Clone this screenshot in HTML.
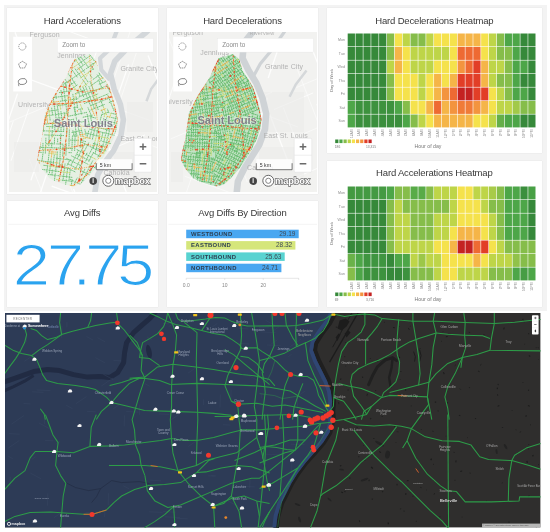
<!DOCTYPE html><html><head><meta charset="utf-8"><title>Dashboard</title><style>
html,body{margin:0;padding:0;}
body{width:550px;height:532px;background:#fff;position:relative;overflow:hidden;font-family:"Liberation Sans", sans-serif;}
#bg{position:absolute;left:3.5px;top:4.5px;width:543px;height:306px;background:#f3f3f3;}
.panel{position:absolute;background:#fff;box-shadow:0 0 1px rgba(0,0,0,0.12);overflow:hidden;}
.title{position:absolute;left:0;right:0;text-align:center;color:#383838;font-size:9.5px;white-space:nowrap;letter-spacing:-0.15px;}
svg{position:absolute;left:0;top:0;display:block;overflow:hidden;}
svg text{font-family:"Liberation Sans", sans-serif;}
</style></head><body><div id="bg"></div>
<div class="panel" style="left:6.5px;top:8px;width:151.5px;height:185.5px"><div class="title" style="top:6.5px;letter-spacing:-0.15px">Hard Accelerations</div><svg style="left:2px;top:23.5px" width="148.5" height="160.2" viewBox="0 0 148.5 160.2"><defs><clipPath id="city0"><polygon points="65.8,26.2 80.2,21.9 86.7,27.4 89.8,38.5 96.0,47.8 100.6,55.5 103.7,64.7 106.7,75.5 108.9,87.8 107.7,97.1 104.3,106.9 99.6,116.5 93.8,126.0 87.6,135.5 79.6,144.8 71.6,152.2 64.2,154.6 55.9,152.5 46.7,149.4 40.5,146.3 32.8,137.1 28.2,127.9 29.7,118.6 32.8,106.3 34.4,94.0 35.9,81.7 40.5,72.4 45.1,63.2 51.3,53.9 57.5,44.7 60.5,37.0 63.6,30.8"/></clipPath></defs><rect width="148.5" height="160.2" fill="#f2f2f0"/><line x1="61.7" y1="85.3" x2="82.4" y2="138.5" stroke="#fff" stroke-width="1.3" opacity="0.85"/><line x1="20.1" y1="126.8" x2="44.7" y2="190.0" stroke="#fff" stroke-width="0.6" opacity="0.85"/><line x1="4.9" y1="41.6" x2="63.5" y2="63.0" stroke="#fff" stroke-width="1.3" opacity="0.85"/><line x1="90.6" y1="91.3" x2="122.4" y2="173.3" stroke="#fff" stroke-width="1.3" opacity="0.85"/><line x1="107.1" y1="100.6" x2="182.2" y2="128.0" stroke="#fff" stroke-width="0.6" opacity="0.85"/><line x1="-0.6" y1="22.4" x2="-21.9" y2="84.8" stroke="#fff" stroke-width="0.9" opacity="0.85"/><line x1="41.7" y1="90.6" x2="21.9" y2="148.4" stroke="#fff" stroke-width="1.3" opacity="0.85"/><line x1="36.6" y1="-9.2" x2="90.6" y2="10.5" stroke="#fff" stroke-width="0.9" opacity="0.85"/><line x1="54.5" y1="83.8" x2="122.5" y2="108.7" stroke="#fff" stroke-width="0.9" opacity="0.85"/><line x1="110.1" y1="77.3" x2="142.3" y2="89.0" stroke="#fff" stroke-width="0.6" opacity="0.85"/><line x1="53.5" y1="134.1" x2="65.8" y2="165.8" stroke="#fff" stroke-width="0.6" opacity="0.85"/><line x1="124.3" y1="-9.9" x2="96.6" y2="71.1" stroke="#fff" stroke-width="0.6" opacity="0.85"/><line x1="64.5" y1="156.9" x2="84.5" y2="208.3" stroke="#fff" stroke-width="1.3" opacity="0.85"/><line x1="89.8" y1="122.5" x2="136.0" y2="102.9" stroke="#fff" stroke-width="0.9" opacity="0.85"/><line x1="42.7" y1="154.1" x2="78.5" y2="167.1" stroke="#fff" stroke-width="1.3" opacity="0.85"/><line x1="6.0" y1="0.2" x2="20.7" y2="38.1" stroke="#fff" stroke-width="1.3" opacity="0.85"/><line x1="19.9" y1="76.6" x2="2.0" y2="128.8" stroke="#fff" stroke-width="0.9" opacity="0.85"/><line x1="8.5" y1="61.6" x2="-1.2" y2="90.0" stroke="#fff" stroke-width="1.3" opacity="0.85"/><line x1="38.2" y1="140.6" x2="24.9" y2="179.6" stroke="#fff" stroke-width="1.3" opacity="0.85"/><line x1="91.7" y1="7.1" x2="77.9" y2="47.6" stroke="#fff" stroke-width="0.9" opacity="0.85"/><line x1="-8.5" y1="93.9" x2="40.5" y2="73.2" stroke="#fff" stroke-width="0.6" opacity="0.85"/><line x1="4.3" y1="89.2" x2="-5.7" y2="118.5" stroke="#fff" stroke-width="0.9" opacity="0.85"/><line x1="48.9" y1="67.1" x2="77.9" y2="141.6" stroke="#fff" stroke-width="0.6" opacity="0.85"/><line x1="127.3" y1="21.1" x2="111.6" y2="67.2" stroke="#fff" stroke-width="0.6" opacity="0.85"/><line x1="119.6" y1="32.5" x2="106.8" y2="69.9" stroke="#fff" stroke-width="1.3" opacity="0.85"/><line x1="139.1" y1="23.5" x2="169.1" y2="100.8" stroke="#fff" stroke-width="1.3" opacity="0.85"/><rect x="118" y="70" width="26" height="30" fill="#ebebe9" opacity="0.6"/><rect x="100" y="120" width="30" height="25" fill="#ebebe9" opacity="0.6"/><rect x="5" y="110" width="25" height="30" fill="#ebebe9" opacity="0.6"/><polyline points="142.1,-4.6 137.5,0.0 120.6,13.9 105.8,29.3 101.5,41.6 105.2,57.0 111.4,72.4 114.4,87.8 112.0,103.2 104.6,118.6 95.3,130.9 88.6,143.2 85.2,164.8" fill="none" stroke="#d3d7da" stroke-width="5.6" stroke-linejoin="round"/><polyline points="108.9,-4.0 100.9,17.0 91.0,26.2 92.3,37.9 100.9,47.8" fill="none" stroke="#d3d7da" stroke-width="4.2" stroke-linejoin="round"/><polyline points="151.4,44.7 142.1,57.0 137.5,69.3" fill="none" stroke="#d5d8da" stroke-width="2.5"/><text x="20.5" y="5.3" font-size="7.0" fill="#b3b3b3" text-anchor="start" font-weight="normal" letter-spacing="0.1">Ferguson</text><text x="48.2" y="25.6" font-size="7.0" fill="#b3b3b3" text-anchor="start" font-weight="normal" letter-spacing="0.1">Jennings</text><text x="111.4" y="39.5" font-size="7.0" fill="#b3b3b3" text-anchor="start" font-weight="normal" letter-spacing="0.1">Granite City</text><text x="9.1" y="74.9" font-size="7.0" fill="#b3b3b3" text-anchor="start" font-weight="normal" letter-spacing="0.1">University City</text><text x="111.4" y="109.4" font-size="7.0" fill="#b3b3b3" text-anchor="start" font-weight="normal" letter-spacing="0.1">East St. Louis</text><text x="94.4" y="142.6" font-size="7.0" fill="#b3b3b3" text-anchor="start" font-weight="normal" letter-spacing="0.1">Cahokia</text><filter id="bl0" x="-5%" y="-5%" width="110%" height="110%"><feGaussianBlur stdDeviation="0.42"/></filter><g clip-path="url(#city0)"><g filter="url(#bl0)"><rect width="148.5" height="160.2" fill="#f6f8f4" opacity="0.7"/><rect width="148.5" height="160.2" fill="#8fcf98" opacity="0.16"/><path d="M57.3 54.1L54.5 50.1M58.7 51.2L55.1 46.1M63.0 52.2L59.9 47.8M67.5 53.7L63.7 48.2M63.6 48.0L61.1 44.5M60.7 43.9L58.3 40.5M68.3 45.3L63.0 37.7M77.7 53.4L73.2 46.9M72.6 46.0L70.6 43.2M70.3 42.8L65.8 36.3M79.2 50.2L74.3 43.2M75.6 40.6L69.7 32.1M83.0 45.7L80.7 42.4M73.8 32.6L68.2 24.5M79.6 35.8L74.8 29.0M74.4 28.4L71.0 23.7M93.8 50.7L88.1 42.6M84.6 37.6L81.6 33.3M76.2 25.5L74.3 22.8M94.1 46.9L89.6 40.4M84.6 33.3L82.9 30.8M85.4 29.0L80.6 22.1M65.1 29.9L68.1 27.7M69.0 27.1L71.9 25.1M68.8 32.4L76.5 27.0M76.7 26.9L84.1 21.7M68.3 37.5L76.2 32.0M55.9 51.6L62.2 47.3M63.0 46.7L66.3 44.4M66.6 44.2L71.6 40.7M71.8 40.5L76.3 37.3M77.2 36.7L83.1 32.6M84.0 31.9L89.7 28.0M60.1 53.9L66.5 49.4M79.3 40.4L84.5 36.8M60.9 58.1L68.8 52.6M83.8 47.6L90.9 42.6M81.6 53.9L90.6 47.6M71.1 64.2L68.9 58.6M83.0 85.3L78.9 75.4M74.8 65.2L72.9 60.4M72.7 59.9L70.4 54.3M81.6 73.8L78.2 65.4M77.8 64.6L73.9 54.9M85.4 76.4L82.3 68.7M82.2 68.5L78.6 59.5M78.2 58.5L76.4 54.1M89.3 77.9L86.5 71.0M86.2 70.0L83.6 63.6M83.2 62.6L79.8 54.2M93.8 80.9L92.3 77.4M85.0 59.3L80.9 49.1M94.2 74.6L91.3 67.3M100.0 81.1L98.3 76.8M93.3 57.1L89.5 47.7M105.2 79.1L101.8 70.8M101.5 69.9L98.6 62.8M101.1 60.5L97.8 52.3M65.9 61.9L72.3 59.3M72.6 59.1L76.4 57.6M89.8 52.2L98.0 48.9M69.7 65.1L79.4 61.2M79.6 61.1L88.7 57.4M89.1 57.3L95.5 54.7M66.9 70.8L75.2 67.4M75.4 67.3L82.5 64.5M83.3 64.2L89.1 61.8M75.1 71.6L83.8 68.1M84.6 67.8L92.7 64.5M93.5 64.2L99.3 61.8M81.7 73.6L88.7 70.8M89.6 70.4L95.5 68.0M96.1 67.8L99.8 66.3M81.6 78.1L87.3 75.8M88.1 75.5L95.8 72.4M99.9 70.7L109.2 67.0M92.7 82.7L100.0 79.8M41.2 88.5L40.8 85.3M45.2 93.9L44.3 87.8M43.6 82.9L42.6 75.4M47.9 91.8L46.6 83.1M46.6 82.6L45.1 72.3M45.1 71.9L44.1 64.7M51.0 93.5L49.6 83.2M49.5 82.4L48.0 71.7M47.3 66.8L46.4 60.5M53.9 93.7L52.7 84.9M52.6 84.4L51.8 78.8M55.9 86.5L55.0 80.0M53.5 68.8L51.9 58.0M58.5 84.3L58.0 80.6M57.9 80.0L57.3 75.9M57.3 75.4L56.6 70.6M56.5 70.2L55.5 62.5M55.4 62.0L54.5 55.4M54.4 54.8L53.9 51.0M57.8 58.8L56.6 50.3M66.6 82.0L65.5 74.0M65.4 73.2L64.3 65.3M64.2 65.0L63.8 61.9M68.7 76.2L67.6 69.1M67.5 67.9L67.0 64.3M50.0 60.6L54.8 59.9M55.2 59.9L62.9 58.8M40.9 66.1L48.6 65.0M48.8 65.0L59.2 63.6M50.8 69.3L58.3 68.2M58.9 68.1L69.3 66.7M49.0 73.6L58.2 72.4M58.9 72.2L65.5 71.3M39.5 79.2L49.4 77.8M64.5 75.6L68.8 75.0M35.7 84.1L45.4 82.8M46.4 82.6L54.2 81.5M55.1 81.4L59.8 80.7M33.8 88.4L38.3 87.8M47.8 86.4L53.3 85.6M34.9 92.4L42.1 91.4M46.2 90.8L52.1 90.0M77.9 105.7L79.8 98.3M80.6 106.6L82.6 98.7M82.8 97.6L83.8 93.8M83.3 107.5L85.3 99.2M85.5 98.7L86.4 95.0M84.3 116.4L85.9 109.9M87.2 104.6L89.8 94.1M90.0 93.4L91.7 86.4M91.8 86.1L92.9 81.9M86.0 121.8L88.6 111.5M93.7 91.1L95.0 85.7M91.8 109.4L94.1 100.2M96.4 91.0L98.0 84.7M92.1 120.5L94.5 110.8M94.8 109.7L96.8 101.7M96.9 101.2L98.2 95.9M96.8 113.3L98.4 107.0M98.6 105.9L101.2 95.6M101.4 94.7L102.9 88.8M105.0 92.8L107.3 83.4M106.0 102.2L107.4 96.5M107.5 96.1L108.4 92.5M102.2 81.2L107.4 82.5M102.2 85.4L109.3 87.1M82.1 84.9L86.8 86.1M95.3 88.2L101.1 89.6M101.4 89.7L111.2 92.2M84.8 89.6L93.5 91.8M93.7 91.9L104.2 94.5M78.8 92.9L89.0 95.4M90.0 95.7L100.2 98.3M80.3 97.1L85.7 98.5M86.7 98.7L90.8 99.8M91.1 99.8L96.7 101.2M97.2 101.3L106.8 103.7M77.1 101.1L86.8 103.5M87.4 103.6L90.7 104.5M93.4 109.5L96.8 110.3M97.7 110.5L102.3 111.7M72.3 108.5L77.0 109.7M83.9 111.4L89.1 112.7M90.0 113.0L96.2 114.5M87.0 116.3L97.2 118.9M31.0 117.1L31.1 112.5M33.8 118.1L34.0 110.6M34.4 99.7L34.6 94.3M36.3 121.6L36.7 112.4M36.7 111.4L36.9 105.4M39.8 114.2L39.9 110.7M39.9 110.5L40.1 103.4M42.6 116.0L42.8 109.9M43.0 105.3L43.3 97.9M43.3 96.7L43.5 90.4M45.4 111.2L45.6 105.0M45.8 98.2L46.1 89.9M48.0 126.7L48.3 119.0M48.6 110.3L48.7 106.1M49.0 99.6L49.3 91.5M50.9 128.9L51.3 118.2M51.3 117.1L51.5 110.4M51.6 109.3L51.9 101.2M51.9 100.0L52.2 92.3M53.7 124.6L53.9 119.4M53.9 118.4L54.1 112.8M54.6 99.9L54.8 95.0M56.9 123.7L57.2 116.8M57.2 116.5L57.4 111.5M57.6 104.4L58.0 94.5M59.9 114.4L60.1 108.4M60.1 107.3L60.4 97.3M62.9 118.9L63.0 115.7M63.0 115.0L63.4 104.2M65.6 119.0L65.9 111.2M65.9 110.7L66.3 99.8M71.3 115.7L71.5 111.3M71.5 111.0L71.7 106.2M37.3 94.5L47.4 94.8M47.8 94.9L55.4 95.1M32.6 98.8L36.7 98.9M37.2 98.9L43.9 99.2M44.1 99.2L54.9 99.5M35.3 102.9L40.7 103.1M41.6 103.2L45.7 103.3M45.9 103.3L55.1 103.6M63.1 103.9L68.8 104.1M59.2 108.0L69.8 108.4M37.1 111.6L46.1 111.9M47.3 111.9L54.3 112.2M29.6 115.3L35.1 115.5M35.5 115.5L42.7 115.8M43.1 115.8L52.1 116.1M53.2 116.2L63.7 116.5M59.5 120.6L62.8 120.7M58.0 133.6L60.8 128.2M62.1 132.9L66.0 125.4M66.4 124.4L69.6 118.1M68.2 126.8L71.4 120.4M71.9 119.5L75.9 111.6M65.8 138.0L68.3 133.2M68.6 132.6L70.0 129.9M75.4 119.2L79.9 110.3M69.4 137.7L73.6 129.5M76.5 123.8L78.1 120.8M65.3 151.5L68.3 145.7M76.6 129.3L80.1 122.5M80.5 121.7L85.1 112.7M72.9 143.1L76.0 137.0M79.7 129.7L84.6 120.1M69.7 156.3L74.3 147.3M74.4 147.1L75.9 144.0M76.3 143.4L79.9 136.2M80.1 135.8L83.8 128.6M80.7 141.1L84.3 134.0M88.8 125.3L90.7 121.6M86.6 135.3L89.0 130.4M71.3 109.5L80.0 114.0M80.6 114.3L88.8 118.4M89.2 118.6L92.2 120.2M84.0 120.7L91.3 124.4M67.7 117.5L76.0 121.8M77.1 122.4L82.4 125.1M68.0 122.4L76.4 126.6M76.7 126.8L80.4 128.7M62.3 123.8L69.1 127.2M69.5 127.4L78.8 132.2M85.0 135.3L88.3 137.0M57.4 126.3L63.0 129.2M63.3 129.3L67.5 131.5M68.2 131.8L70.9 133.2M58.6 131.8L67.0 136.0M71.2 138.2L80.5 142.9M58.3 135.9L66.3 140.0M69.6 146.3L77.4 150.3M60.9 147.1L65.2 149.3M66.2 149.8L73.6 153.6M33.0 128.8L34.4 118.1M37.8 140.5L38.7 133.1M38.8 132.1L39.8 124.3M39.8 124.0L40.5 118.2M40.4 141.3L41.7 130.8M41.7 130.5L42.2 126.2M42.8 143.2L43.5 137.3M44.2 132.2L45.4 122.4M45.3 149.2L46.4 140.9M46.5 139.9L47.2 134.4M47.3 133.6L48.2 125.7M50.2 134.6L50.9 128.7M52.7 134.8L53.1 131.1M53.9 149.1L55.1 139.6M55.1 139.4L56.1 131.4M56.0 157.1L57.3 146.9M57.4 145.7L58.6 136.3M60.0 148.5L60.6 143.8M60.6 143.2L61.3 137.5M61.8 157.8L63.1 147.3M29.3 120.0L32.9 120.5M46.9 126.2L53.2 127.0M53.5 127.0L62.4 128.1M27.5 128.4L30.8 128.8M31.7 128.9L39.3 129.9M39.8 129.9L45.6 130.6M34.4 133.3L38.6 133.8M47.7 134.9L51.5 135.4M51.7 135.4L61.2 136.6M31.0 137.2L38.3 138.1M39.5 138.2L50.0 139.5M38.9 142.4L47.4 143.5M48.5 143.6L51.7 144.0M52.5 144.1L63.3 145.4M52.7 148.1L63.4 149.4M64.9 103.5L63.8 98.2M62.7 92.8L61.5 87.6M68.0 103.7L65.9 93.6M65.7 92.7L64.5 87.1M71.0 103.5L68.8 93.4M68.0 89.5L67.1 85.1M66.9 84.2L65.1 76.0M74.0 104.8L72.5 98.0M77.1 103.7L75.8 97.3M72.6 82.4L71.6 77.6M80.5 93.7L79.2 87.5M79.2 87.2L78.0 81.5M82.9 91.3L81.4 84.1M69.3 77.5L73.8 76.6M59.1 84.3L64.4 83.2M64.8 83.1L74.1 81.1M74.7 81.0L78.1 80.3M59.8 88.3L65.4 87.1M73.8 85.3L83.6 83.2M53.4 94.1L63.7 91.9M64.8 91.7L71.5 90.3M71.7 90.2L77.1 89.1M75.8 93.7L80.8 92.7M62.6 100.5L72.6 98.4" fill="none" stroke="#6fc077" stroke-width="0.95" stroke-dasharray="1.5 0.4"/><path d="M67.7 58.9L63.6 53.1M69.0 31.2L66.3 27.3M63.3 36.2L68.2 32.8M77.1 31.4L83.5 26.9M71.3 46.1L78.6 41.0M73.0 55.2L78.6 51.2M73.7 78.1L71.2 72.0M88.8 68.6L85.4 60.1M97.7 83.1L94.3 74.8M35.7 88.6L35.3 85.5M40.7 84.9L39.4 75.7M51.7 77.6L50.7 70.7M59.8 73.0L58.6 64.5M86.0 109.4L87.1 105.1M88.7 110.8L91.2 101.1M95.1 85.1L96.2 80.9M100.7 86.0L102.1 80.5M94.6 122.1L96.6 114.0M91.3 104.6L100.2 106.8M40.1 103.1L40.5 93.5M69.9 113.5L73.0 115.1M83.1 125.4L90.1 129.0M79.6 132.6L84.7 135.2M67.4 136.2L70.8 138.0M40.2 121.3L48.5 122.4M39.7 134.0L47.1 134.9M50.2 139.5L61.0 140.8M47.2 147.4L51.7 148.0M72.4 97.6L71.3 92.2M71.9 107.3L77.5 106.1" fill="none" stroke="#c9d86a" stroke-width="0.95" stroke-dasharray="1.5 0.4"/><path d="M74.1 42.9L68.9 35.5M91.0 47.3L95.8 44.0M85.7 83.9L81.8 74.4M91.7 78.6L96.8 76.6M38.6 90.7L37.1 79.9M62.6 74.3L61.3 64.9M39.6 70.9L50.1 69.4M42.5 91.3L45.6 90.9M97.9 84.3L101.4 85.2M73.7 104.6L81.7 106.6M68.9 113.6L69.3 103.7M39.7 119.9L47.7 120.1M70.3 129.3L75.3 119.5M42.3 125.6L43.2 118.7M45.8 130.7L49.9 131.2M60.7 153.3L66.7 154.1M60.7 96.3L59.0 88.7M71.1 103.1L76.0 102.0" fill="none" stroke="#f0b24a" stroke-width="0.95" stroke-dasharray="1.5 0.4"/><polyline points="63.6,30.8 60.5,53.9 59.0,78.6 57.5,103.2 54.4,127.9 49.8,149.4" fill="none" stroke="#ee8f3a" stroke-width="0.95" stroke-dasharray="1.0 1.0" opacity="0.9"/><polyline points="86.7,29.3 71.3,53.9 59.0,78.6 46.7,100.1 34.4,118.6" fill="none" stroke="#e8c04a" stroke-width="0.95" stroke-dasharray="1.0 1.0" opacity="0.9"/><polyline points="35.9,90.9 59.0,92.4 83.6,95.5 107.7,97.1" fill="none" stroke="#f0a03c" stroke-width="0.95" stroke-dasharray="1.0 1.0" opacity="0.9"/><polyline points="40.5,72.4 65.2,70.9 89.8,67.8 103.7,64.7" fill="none" stroke="#ee8f3a" stroke-width="0.95" stroke-dasharray="1.0 1.0" opacity="0.9"/><polyline points="29.7,118.6 52.8,117.1 77.5,112.5 97.5,115.5" fill="none" stroke="#f0a03c" stroke-width="0.95" stroke-dasharray="1.0 1.0" opacity="0.9"/><polyline points="80.6,23.8 82.1,47.8 86.7,75.5 89.8,100.1 91.3,124.8" fill="none" stroke="#f0a03c" stroke-width="0.95" stroke-dasharray="1.0 1.0" opacity="0.9"/><polyline points="65.8,27.8 51.3,53.9 40.5,72.4 34.4,94.0 28.2,127.9" fill="none" stroke="#ee8f3a" stroke-width="0.95" stroke-dasharray="1.0 1.0" opacity="0.9"/><polyline points="86.7,29.3 100.6,55.5 108.9,87.8 97.5,115.5 77.5,143.2 63.6,154.0" fill="none" stroke="#e8c04a" stroke-width="0.95" stroke-dasharray="1.0 1.0" opacity="0.9"/><polyline points="28.2,127.9 46.7,134.0 68.2,137.1 85.2,134.0" fill="none" stroke="#f0a03c" stroke-width="0.95" stroke-dasharray="1.0 1.0" opacity="0.9"/><polyline points="51.3,53.9 74.4,60.1 100.6,55.5" fill="none" stroke="#f0a03c" stroke-width="0.95" stroke-dasharray="1.0 1.0" opacity="0.9"/><polyline points="71.3,100.1 74.4,121.7 69.8,150.9" fill="none" stroke="#ee8f3a" stroke-width="0.95" stroke-dasharray="1.0 1.0" opacity="0.9"/><polyline points="63.6,30.8 60.5,53.9 59.0,78.6 57.5,103.2 54.4,127.9 49.8,149.4" fill="none" stroke="#ee6f33" stroke-width="1.0" stroke-dasharray="1.0 3.3" stroke-linecap="round"/><polyline points="40.5,72.4 65.2,70.9 89.8,67.8 103.7,64.7" fill="none" stroke="#ee6f33" stroke-width="1.0" stroke-dasharray="1.0 3.3" stroke-linecap="round"/><polyline points="65.8,27.8 51.3,53.9 40.5,72.4 34.4,94.0 28.2,127.9" fill="none" stroke="#ee6f33" stroke-width="1.0" stroke-dasharray="1.0 3.3" stroke-linecap="round"/><polyline points="86.7,29.3 100.6,55.5 108.9,87.8 97.5,115.5 77.5,143.2 63.6,154.0" fill="none" stroke="#ee6f33" stroke-width="1.0" stroke-dasharray="1.0 3.3" stroke-linecap="round"/><circle cx="55.6" cy="118.2" r="0.9" fill="#e8452c"/><circle cx="60.0" cy="62.0" r="0.65" fill="#e8452c"/><circle cx="51.7" cy="140.5" r="0.65" fill="#e8452c"/><circle cx="56.0" cy="114.8" r="0.65" fill="#e8452c"/><circle cx="59.1" cy="76.9" r="0.65" fill="#e8452c"/><circle cx="60.1" cy="60.6" r="0.8" fill="#e8452c"/><circle cx="56.7" cy="109.6" r="0.65" fill="#f07030"/><circle cx="49.9" cy="148.9" r="0.65" fill="#e8452c"/><circle cx="57.4" cy="103.3" r="0.65" fill="#f07030"/><circle cx="60.5" cy="53.9" r="0.9" fill="#e8452c"/><circle cx="61.4" cy="73.8" r="0.9" fill="#e8452c"/><circle cx="40.0" cy="110.2" r="0.8" fill="#f07030"/><circle cx="40.9" cy="108.8" r="0.8" fill="#e8452c"/><circle cx="49.9" cy="94.6" r="0.8" fill="#e8452c"/><circle cx="47.1" cy="99.3" r="0.9" fill="#e8452c"/><circle cx="52.0" cy="90.9" r="0.9" fill="#e8452c"/><circle cx="55.2" cy="85.3" r="0.8" fill="#e8452c"/><circle cx="71.1" cy="54.4" r="0.65" fill="#e8452c"/><circle cx="54.0" cy="87.3" r="0.8" fill="#e8452c"/><circle cx="83.2" cy="34.8" r="0.65" fill="#e8452c"/><circle cx="49.7" cy="91.8" r="0.9" fill="#e8452c"/><circle cx="78.2" cy="94.8" r="0.65" fill="#f07030"/><circle cx="99.5" cy="96.5" r="0.8" fill="#e8452c"/><circle cx="67.5" cy="93.5" r="0.9" fill="#e8452c"/><circle cx="103.0" cy="96.8" r="0.65" fill="#e8452c"/><circle cx="52.9" cy="92.0" r="0.8" fill="#f07030"/><circle cx="83.5" cy="95.5" r="0.65" fill="#e8452c"/><circle cx="59.2" cy="92.5" r="0.9" fill="#e8452c"/><circle cx="84.1" cy="95.5" r="0.8" fill="#e8452c"/><circle cx="41.8" cy="91.3" r="0.65" fill="#e8452c"/><circle cx="82.8" cy="68.7" r="0.9" fill="#f07030"/><circle cx="86.7" cy="68.2" r="0.65" fill="#e8452c"/><circle cx="92.9" cy="67.1" r="0.9" fill="#e8452c"/><circle cx="46.1" cy="72.1" r="0.65" fill="#e8452c"/><circle cx="53.5" cy="71.6" r="0.9" fill="#f07030"/><circle cx="100.7" cy="65.4" r="0.65" fill="#f07030"/><circle cx="80.3" cy="69.0" r="0.65" fill="#e8452c"/><circle cx="101.8" cy="65.1" r="0.8" fill="#e8452c"/><circle cx="44.9" cy="72.1" r="0.8" fill="#e8452c"/><circle cx="63.7" cy="71.0" r="0.8" fill="#e8452c"/><circle cx="47.6" cy="117.4" r="0.8" fill="#e8452c"/><circle cx="54.0" cy="116.9" r="0.65" fill="#f07030"/><circle cx="65.7" cy="114.7" r="0.8" fill="#f07030"/><circle cx="92.4" cy="114.8" r="0.9" fill="#e8452c"/><circle cx="71.0" cy="113.7" r="0.65" fill="#e8452c"/><circle cx="41.4" cy="117.8" r="0.65" fill="#f07030"/><circle cx="30.7" cy="118.5" r="0.8" fill="#f07030"/><circle cx="67.9" cy="114.2" r="0.65" fill="#e8452c"/><circle cx="79.2" cy="112.7" r="0.65" fill="#e8452c"/><circle cx="38.9" cy="118.0" r="0.8" fill="#f07030"/><circle cx="89.8" cy="100.2" r="0.8" fill="#e8452c"/><circle cx="89.7" cy="99.3" r="0.65" fill="#e8452c"/><circle cx="84.3" cy="60.9" r="0.9" fill="#e8452c"/><circle cx="81.6" cy="39.5" r="0.65" fill="#e8452c"/><circle cx="87.4" cy="80.7" r="0.65" fill="#e8452c"/><circle cx="90.9" cy="118.1" r="0.8" fill="#e8452c"/><circle cx="91.0" cy="119.6" r="0.8" fill="#e8452c"/><circle cx="90.2" cy="105.9" r="0.9" fill="#f07030"/><circle cx="87.5" cy="81.8" r="0.65" fill="#f07030"/><circle cx="90.9" cy="117.3" r="0.65" fill="#e8452c"/><circle cx="49.8" cy="56.5" r="0.65" fill="#e8452c"/><circle cx="50.8" cy="54.8" r="0.65" fill="#e8452c"/><circle cx="53.4" cy="50.1" r="0.9" fill="#e8452c"/><circle cx="36.1" cy="87.8" r="0.9" fill="#f07030"/><circle cx="54.0" cy="49.0" r="0.9" fill="#e8452c"/><circle cx="46.7" cy="61.8" r="0.9" fill="#f07030"/><circle cx="35.0" cy="91.6" r="0.9" fill="#e8452c"/><circle cx="42.6" cy="68.8" r="0.8" fill="#f07030"/><circle cx="29.9" cy="118.5" r="0.65" fill="#e8452c"/><circle cx="29.5" cy="120.5" r="0.65" fill="#e8452c"/><circle cx="106.7" cy="79.4" r="0.8" fill="#e8452c"/><circle cx="77.5" cy="143.3" r="0.65" fill="#f07030"/><circle cx="105.9" cy="95.0" r="0.65" fill="#e8452c"/><circle cx="81.0" cy="138.3" r="0.8" fill="#e8452c"/><circle cx="70.6" cy="148.6" r="0.9" fill="#e8452c"/><circle cx="105.9" cy="95.2" r="0.9" fill="#e8452c"/><circle cx="104.3" cy="99.1" r="0.9" fill="#f07030"/><circle cx="82.2" cy="136.7" r="0.8" fill="#e8452c"/><circle cx="97.7" cy="115.0" r="0.8" fill="#e8452c"/><circle cx="101.0" cy="56.9" r="0.9" fill="#e8452c"/><circle cx="44.5" cy="133.3" r="0.9" fill="#f07030"/><circle cx="53.3" cy="135.0" r="0.8" fill="#f07030"/><circle cx="50.0" cy="134.5" r="0.9" fill="#e8452c"/><circle cx="81.1" cy="134.7" r="0.8" fill="#e8452c"/><circle cx="82.3" cy="134.5" r="0.8" fill="#e8452c"/><circle cx="53.8" cy="135.0" r="0.9" fill="#e8452c"/><circle cx="42.7" cy="132.7" r="0.9" fill="#e8452c"/><circle cx="47.9" cy="134.2" r="0.65" fill="#e8452c"/><circle cx="84.2" cy="134.2" r="0.9" fill="#e8452c"/><circle cx="38.5" cy="131.3" r="0.9" fill="#f07030"/><circle cx="56.0" cy="55.2" r="0.9" fill="#e8452c"/><circle cx="52.1" cy="54.2" r="0.8" fill="#f07030"/><circle cx="83.8" cy="58.4" r="0.65" fill="#f07030"/><circle cx="99.0" cy="55.8" r="0.65" fill="#f07030"/><circle cx="62.8" cy="57.0" r="0.9" fill="#e8452c"/><circle cx="73.8" cy="59.9" r="0.8" fill="#e8452c"/><circle cx="90.6" cy="57.2" r="0.65" fill="#f07030"/><circle cx="81.6" cy="58.8" r="0.65" fill="#f07030"/><circle cx="52.8" cy="54.3" r="0.65" fill="#f07030"/><circle cx="68.7" cy="58.6" r="0.8" fill="#e8452c"/><circle cx="72.4" cy="107.5" r="0.9" fill="#e8452c"/><circle cx="72.9" cy="131.2" r="0.65" fill="#f07030"/><circle cx="73.2" cy="113.4" r="0.9" fill="#f07030"/><circle cx="72.0" cy="137.1" r="0.65" fill="#e8452c"/><circle cx="74.1" cy="119.9" r="0.8" fill="#f07030"/><circle cx="73.2" cy="129.5" r="0.9" fill="#e8452c"/><circle cx="74.4" cy="121.5" r="0.65" fill="#e8452c"/><circle cx="70.3" cy="147.5" r="0.9" fill="#e8452c"/><circle cx="71.6" cy="139.6" r="0.65" fill="#e8452c"/><circle cx="72.3" cy="135.1" r="0.65" fill="#e8452c"/><circle cx="40.8" cy="46.1" r="0.7" fill="#e8452c"/><circle cx="30.1" cy="130.9" r="0.7" fill="#f08a38"/><circle cx="16.1" cy="89.3" r="0.7" fill="#e8452c"/><circle cx="67.8" cy="92.2" r="0.7" fill="#e8452c"/><circle cx="132.7" cy="118.8" r="0.7" fill="#e8452c"/><circle cx="36.5" cy="13.3" r="0.7" fill="#f08a38"/><circle cx="26.4" cy="81.4" r="0.7" fill="#f08a38"/><circle cx="147.9" cy="156.8" r="0.7" fill="#e8452c"/><circle cx="72.7" cy="143.0" r="0.7" fill="#e8452c"/><circle cx="99.5" cy="64.6" r="0.7" fill="#f08a38"/><circle cx="119.3" cy="67.7" r="0.7" fill="#e8452c"/><circle cx="11.2" cy="140.1" r="0.7" fill="#e8452c"/><circle cx="32.7" cy="153.8" r="0.7" fill="#f08a38"/><circle cx="143.6" cy="74.6" r="0.7" fill="#e8452c"/><circle cx="20.5" cy="5.4" r="0.7" fill="#f08a38"/><circle cx="127.4" cy="144.9" r="0.7" fill="#f08a38"/><circle cx="54.4" cy="1.1" r="0.7" fill="#e8452c"/><circle cx="18.1" cy="23.8" r="0.7" fill="#f08a38"/><circle cx="94.5" cy="24.9" r="0.7" fill="#f08a38"/><circle cx="12.7" cy="132.3" r="0.7" fill="#e8452c"/><circle cx="46.6" cy="87.9" r="0.7" fill="#e8452c"/><circle cx="51.4" cy="106.1" r="0.7" fill="#e8452c"/><circle cx="119.9" cy="29.4" r="0.7" fill="#e8452c"/><circle cx="87.2" cy="59.0" r="0.7" fill="#f08a38"/><circle cx="5.3" cy="33.9" r="0.7" fill="#f08a38"/><circle cx="69.7" cy="148.8" r="0.7" fill="#e8452c"/><circle cx="9.7" cy="49.0" r="0.7" fill="#e8452c"/><circle cx="134.5" cy="92.3" r="0.7" fill="#e8452c"/><circle cx="9.7" cy="112.2" r="0.7" fill="#f08a38"/><circle cx="114.0" cy="51.3" r="0.7" fill="#f08a38"/><circle cx="69.6" cy="8.5" r="0.7" fill="#f08a38"/><circle cx="17.0" cy="124.2" r="0.7" fill="#f08a38"/><circle cx="130.9" cy="55.6" r="0.7" fill="#e8452c"/><circle cx="51.3" cy="133.0" r="0.7" fill="#f08a38"/><circle cx="68.4" cy="78.9" r="0.7" fill="#f08a38"/><circle cx="27.7" cy="61.3" r="0.7" fill="#e8452c"/><circle cx="27.6" cy="84.2" r="0.7" fill="#f08a38"/><circle cx="59.2" cy="50.0" r="0.7" fill="#f08a38"/><circle cx="26.5" cy="31.0" r="0.7" fill="#f08a38"/><circle cx="103.4" cy="147.5" r="0.7" fill="#f08a38"/><circle cx="38.0" cy="37.3" r="0.7" fill="#e8452c"/><circle cx="60.8" cy="76.4" r="0.7" fill="#e8452c"/><circle cx="53.5" cy="60.8" r="0.7" fill="#e8452c"/><circle cx="97.2" cy="54.2" r="0.7" fill="#e8452c"/><circle cx="51.3" cy="111.0" r="0.7" fill="#e8452c"/></g></g><text x="74.4" y="94.6" font-size="11.2" fill="#7d7888" text-anchor="middle" font-weight="bold" stroke="#fff" stroke-width="1.6" stroke-opacity="0.55" paint-order="stroke" letter-spacing="-0.1" opacity="0.9">Saint Louis</text><rect x="4.2" y="4.7" width="18.8" height="54.8" fill="#fff" opacity="0.95"/><circle cx="13.3" cy="14.5" r="3.6" fill="none" stroke="#666" stroke-width="0.7" stroke-dasharray="1.2 0.9"/><polygon points="13.3,29.3 17.6,31.9 15.6,36.0 11.0,36.0 9.6,31.9" fill="none" stroke="#666" stroke-width="0.7" stroke-dasharray="1.6 0.6"/><ellipse cx="13.6" cy="49.6" rx="4.2" ry="3" fill="none" stroke="#666" stroke-width="0.7" transform="rotate(-12 13.3 50.2)"/><path d="M10.1 51.0 q-1.2 1.6 -0.2 3.2" fill="none" stroke="#666" stroke-width="0.7"/><rect x="48.2" y="6.2" width="96.4" height="13.9" fill="#fff" stroke="#e4e4e4" stroke-width="0.4"/><text x="53.2" y="15.5" font-size="6.3" fill="#8a8a8a">Zoom to</text><rect x="125.2" y="106.3" width="17.6" height="33.9" rx="1.2" fill="#fff" stroke="#ddd" stroke-width="0.5"/><line x1="125.2" x2="142.8" y1="123.2" y2="123.2" stroke="#ddd" stroke-width="0.5"/><path d="M130.7 114.8h6.6M134.0 111.5v6.6M130.7 131.7h6.6" stroke="#6a6a6a" stroke-width="1.5" fill="none"/><rect x="87.3" y="127.2" width="35.7" height="10.5" fill="#fff" fill-opacity="0.85"/><path d="M87.3 131.2V137.7H123.1V131.2" fill="none" stroke="#555" stroke-width="0.8"/><text x="90.8" y="134.7" font-size="5.2" fill="#333">5 km</text><circle cx="84.2" cy="149.1" r="3.8" fill="#444"/><text x="84.2" y="151.3" font-size="6.4" font-weight="bold" fill="#fff" text-anchor="middle">i</text><circle cx="99.3" cy="148.8" r="5.5" fill="#fff" stroke="#666" stroke-width="1"/><circle cx="99.3" cy="148.8" r="2.6" fill="none" stroke="#777" stroke-width="0.9"/><text x="106.1" y="152.0" font-size="9.3" font-weight="bold" fill="#fff" stroke="#6a6a6a" stroke-width="1.4" paint-order="stroke" letter-spacing="-0.15">mapbox</text></svg></div>
<div class="panel" style="left:166.7px;top:8px;width:151.5px;height:185.5px"><div class="title" style="top:6.5px;letter-spacing:-0.15px">Hard Decelerations</div><svg style="left:2px;top:23.5px" width="148.5" height="160.2" viewBox="0 0 148.5 160.2"><defs><clipPath id="city1"><polygon points="49.4,26.2 63.9,21.9 70.4,27.4 73.5,38.5 79.6,47.8 84.2,55.5 87.3,64.7 90.4,75.5 92.6,87.8 91.3,97.1 87.9,106.9 83.3,116.5 77.5,126.0 71.3,135.5 63.3,144.8 55.3,152.2 47.9,154.6 39.6,152.5 30.4,149.4 24.2,146.3 16.5,137.1 11.9,127.9 13.4,118.6 16.5,106.3 18.0,94.0 19.6,81.7 24.2,72.4 28.8,63.2 35.0,53.9 41.1,44.7 44.2,37.0 47.3,30.8"/></clipPath></defs><rect width="148.5" height="160.2" fill="#f2f2f0"/><line x1="65.2" y1="101.9" x2="100.7" y2="86.9" stroke="#fff" stroke-width="0.6" opacity="0.85"/><line x1="148.0" y1="72.1" x2="173.8" y2="138.7" stroke="#fff" stroke-width="1.3" opacity="0.85"/><line x1="26.1" y1="-9.7" x2="-2.6" y2="74.2" stroke="#fff" stroke-width="0.9" opacity="0.85"/><line x1="15.7" y1="144.2" x2="76.4" y2="166.3" stroke="#fff" stroke-width="0.6" opacity="0.85"/><line x1="1.8" y1="106.9" x2="67.1" y2="79.3" stroke="#fff" stroke-width="0.6" opacity="0.85"/><line x1="-7.1" y1="0.3" x2="-18.5" y2="33.9" stroke="#fff" stroke-width="0.9" opacity="0.85"/><line x1="140.1" y1="9.2" x2="172.0" y2="91.4" stroke="#fff" stroke-width="1.3" opacity="0.85"/><line x1="39.5" y1="95.8" x2="10.9" y2="179.6" stroke="#fff" stroke-width="0.6" opacity="0.85"/><line x1="78.0" y1="76.3" x2="128.7" y2="94.9" stroke="#fff" stroke-width="0.9" opacity="0.85"/><line x1="95.9" y1="69.9" x2="118.5" y2="128.1" stroke="#fff" stroke-width="1.3" opacity="0.85"/><line x1="105.1" y1="154.7" x2="152.4" y2="134.7" stroke="#fff" stroke-width="0.9" opacity="0.85"/><line x1="127.3" y1="55.6" x2="161.2" y2="41.3" stroke="#fff" stroke-width="0.6" opacity="0.85"/><line x1="43.1" y1="53.2" x2="32.9" y2="83.2" stroke="#fff" stroke-width="0.9" opacity="0.85"/><line x1="-4.8" y1="-5.6" x2="7.0" y2="24.8" stroke="#fff" stroke-width="0.6" opacity="0.85"/><line x1="112.3" y1="7.5" x2="99.2" y2="46.0" stroke="#fff" stroke-width="1.3" opacity="0.85"/><line x1="33.4" y1="63.8" x2="51.7" y2="111.0" stroke="#fff" stroke-width="1.3" opacity="0.85"/><line x1="105.1" y1="77.5" x2="144.2" y2="60.9" stroke="#fff" stroke-width="0.9" opacity="0.85"/><line x1="62.2" y1="108.6" x2="78.3" y2="150.0" stroke="#fff" stroke-width="0.6" opacity="0.85"/><line x1="63.7" y1="83.4" x2="50.3" y2="122.5" stroke="#fff" stroke-width="1.3" opacity="0.85"/><line x1="24.9" y1="93.3" x2="103.1" y2="60.2" stroke="#fff" stroke-width="0.9" opacity="0.85"/><line x1="18.5" y1="125.3" x2="60.6" y2="140.7" stroke="#fff" stroke-width="0.6" opacity="0.85"/><line x1="145.9" y1="159.9" x2="135.8" y2="189.7" stroke="#fff" stroke-width="0.9" opacity="0.85"/><line x1="129.8" y1="103.8" x2="192.8" y2="77.2" stroke="#fff" stroke-width="0.6" opacity="0.85"/><line x1="114.3" y1="75.5" x2="138.8" y2="138.5" stroke="#fff" stroke-width="0.9" opacity="0.85"/><line x1="98.5" y1="65.7" x2="80.1" y2="119.6" stroke="#fff" stroke-width="1.3" opacity="0.85"/><line x1="128.4" y1="37.4" x2="154.6" y2="104.7" stroke="#fff" stroke-width="0.6" opacity="0.85"/><rect x="95" y="60" width="40" height="40" fill="#ebebe9" opacity="0.6"/><rect x="90" y="115" width="45" height="30" fill="#ebebe9" opacity="0.6"/><rect x="2" y="120" width="12" height="30" fill="#ebebe9" opacity="0.6"/><polyline points="86.7,-4.6 83.6,0.0 75.0,10.8 73.5,26.2 79.6,38.5 87.3,50.9 93.5,66.3 97.2,81.7 96.0,97.1 90.4,112.5 82.7,124.8 75.0,137.1 68.9,149.4 67.3,164.8" fill="none" stroke="#cfd3d6" stroke-width="6.6" stroke-linejoin="round"/><polyline points="118.1,-4.0 102.1,18.8 91.3,31.8 84.2,44.7" fill="none" stroke="#cfd3d6" stroke-width="3.2" stroke-linejoin="round"/><polyline points="137.5,38.5 126.8,52.4 120.6,64.7" fill="none" stroke="#d5d8da" stroke-width="2.5"/><text x="3.6" y="2.8" font-size="7.0" fill="#b3b3b3" text-anchor="start" font-weight="normal" letter-spacing="0.1">Ferguson</text><text x="31.3" y="23.1" font-size="7.0" fill="#b3b3b3" text-anchor="start" font-weight="normal" letter-spacing="0.1">Jennings</text><text x="96.0" y="37.0" font-size="7.0" fill="#b3b3b3" text-anchor="start" font-weight="normal" letter-spacing="0.1">Granite City</text><text x="-7.8" y="72.4" font-size="7.0" fill="#b3b3b3" text-anchor="start" font-weight="normal" letter-spacing="0.1">University City</text><text x="94.4" y="106.3" font-size="7.0" fill="#b3b3b3" text-anchor="start" font-weight="normal" letter-spacing="0.1">East St. Louis</text><text x="78.1" y="137.7" font-size="7.0" fill="#b3b3b3" text-anchor="start" font-weight="normal" letter-spacing="0.1">Cahokia</text><text x="80.6" y="2.8" font-size="5.5" fill="#b3b3b3" text-anchor="start" font-weight="normal" letter-spacing="0.1">Riverview</text><filter id="bl1" x="-5%" y="-5%" width="110%" height="110%"><feGaussianBlur stdDeviation="0.42"/></filter><g clip-path="url(#city1)"><g filter="url(#bl1)"><rect width="148.5" height="160.2" fill="#f6f8f4" opacity="0.7"/><rect width="148.5" height="160.2" fill="#8fcf98" opacity="0.5"/><path d="M45.0 55.9L39.0 47.3M47.1 54.8L43.3 49.5M51.4 56.7L45.1 47.7M53.2 55.3L47.9 47.7M47.7 47.4L44.6 42.9M56.2 55.7L50.6 47.7M50.2 47.1L45.1 39.9M59.3 56.7L54.6 50.0M54.0 49.2L48.5 41.3M62.3 56.3L57.8 49.8M57.5 49.5L54.4 45.0M52.1 41.7L48.6 36.8M63.3 54.2L57.8 46.4M57.3 45.6L55.3 42.8M54.8 42.1L50.6 36.0M65.8 53.3L60.8 46.2M60.3 45.4L58.1 42.4M57.5 41.5L55.2 38.3M54.6 37.4L49.0 29.3M70.0 55.4L64.4 47.4M64.1 47.0L58.8 39.4M58.1 38.5L55.6 34.8M51.4 28.8L48.7 25.1M70.5 52.5L67.5 48.1M67.2 47.8L61.0 38.8M60.8 38.6L55.6 31.2M55.0 30.3L48.9 21.6M72.2 51.1L66.5 42.9M66.3 42.6L63.8 39.0M63.3 38.3L60.7 34.6M57.7 30.3L52.0 22.2M76.9 53.7L70.8 45.0M70.3 44.3L68.4 41.6M68.2 41.3L62.1 32.6M61.6 31.9L57.4 25.9M72.3 43.0L67.2 35.7M66.5 34.8L62.4 28.9M61.8 28.0L57.5 21.9M79.8 49.3L75.4 42.9M74.9 42.2L71.0 36.6M70.5 35.9L68.2 32.6M67.7 31.9L65.7 29.0M73.5 36.6L70.4 32.1M69.9 31.4L67.0 27.3M66.5 26.5L62.4 20.6M71.4 29.4L67.3 23.7M45.4 30.9L52.9 25.7M48.5 32.9L51.8 30.6M52.1 30.4L56.6 27.2M57.2 26.8L63.9 22.1M60.0 28.7L66.7 24.1M39.6 47.6L47.4 42.1M56.8 35.6L59.4 33.7M59.8 33.5L67.1 28.3M40.2 51.0L47.6 45.9M48.5 45.2L55.8 40.1M56.1 39.9L63.8 34.5M64.5 34.0L72.2 28.7M43.8 52.5L52.7 46.3M53.3 45.9L58.5 42.2M59.1 41.8L62.3 39.6M62.6 39.3L67.8 35.7M68.6 35.1L71.1 33.4M43.7 56.6L49.2 52.8M50.1 52.1L58.0 46.6M58.5 46.3L66.7 40.5M67.5 40.0L75.3 34.5M47.1 58.2L54.8 52.8M55.5 52.3L60.0 49.1M60.6 48.8L68.7 43.0M69.6 42.4L75.0 38.6M55.5 56.3L60.9 52.6M70.8 45.7L74.9 42.8M67.8 52.3L72.8 48.8M73.7 48.2L78.3 45.0M54.9 76.3L52.8 71.1M56.5 73.9L54.5 68.8M54.3 68.4L51.6 61.7M61.6 80.2L58.0 71.3M65.5 83.6L62.2 75.3M61.8 74.5L58.6 66.5M58.5 66.2L56.2 60.5M55.9 60.0L54.0 55.1M69.0 87.0L67.0 82.2M67.0 82.0L65.4 78.0M65.0 77.1L62.5 70.9M62.3 70.4L60.2 65.3M60.0 64.8L58.2 60.2M70.3 82.9L69.1 80.0M68.7 79.1L66.3 73.1M66.2 72.9L62.9 64.8M62.6 63.9L58.9 54.7M71.6 81.3L69.3 75.6M69.0 74.7L67.8 71.8M67.7 71.5L64.0 62.3M73.9 80.9L70.3 71.9M70.0 71.1L66.0 61.2M65.8 60.8L62.6 52.8M77.2 83.0L74.7 76.6M74.4 76.0L71.6 69.1M79.0 80.6L76.2 73.5M75.8 72.6L74.6 69.5M74.3 68.9L71.7 62.4M71.4 61.6L70.1 58.5M70.0 58.2L66.7 50.0M81.1 79.7L79.7 76.2M79.5 75.7L77.5 70.7M73.3 60.5L72.2 57.5M71.9 56.8L68.4 48.3M84.3 81.9L81.5 74.9M81.2 74.2L77.5 65.1M77.3 64.7L74.0 56.5M73.8 55.9L72.1 51.8M85.3 77.4L82.6 70.7M82.3 69.9L80.4 65.4M80.1 64.4L78.2 59.7M77.9 59.2L75.8 53.9M88.2 78.4L85.6 72.0M85.3 71.4L83.1 65.9M83.0 65.6L80.9 60.3M80.6 59.6L76.8 50.2M91.5 81.1L88.9 74.6M86.0 67.4L84.1 62.9M83.8 62.1L80.0 52.7M79.8 52.2L77.6 46.6M87.4 65.2L83.6 55.8M83.4 55.3L81.6 50.9M46.1 62.4L56.0 58.4M56.5 58.2L59.9 56.9M60.6 56.6L67.8 53.7M68.3 53.5L76.3 50.2M77.2 49.9L80.3 48.6M57.9 61.7L65.1 58.7M72.6 55.7L80.4 52.6M65.8 61.6L71.9 59.1M53.6 70.2L61.3 67.1M61.6 67.0L71.3 63.1M72.3 62.7L79.8 59.6M80.0 59.5L83.6 58.1M60.5 71.4L70.6 67.4M71.0 67.2L77.4 64.6M80.9 63.2L85.6 61.3M57.8 76.0L63.1 73.9M63.7 73.6L72.3 70.1M72.8 69.9L82.5 66.0M62.2 77.5L71.3 73.7M71.9 73.5L77.3 71.3M78.3 70.9L83.1 69.0M65.7 79.6L71.6 77.3M82.6 72.8L91.4 69.3M68.9 82.1L72.4 80.7M73.0 80.4L77.3 78.7M77.5 78.6L86.4 75.0M73.7 83.6L82.0 80.2M82.4 80.1L92.4 76.1M20.7 85.0L20.2 81.5M24.0 93.2L22.8 84.1M22.7 83.6L21.4 74.8M26.2 91.4L25.3 85.1M25.2 84.7L23.9 75.1M28.9 95.6L27.8 88.0M27.8 87.5L26.7 80.2M26.7 79.7L25.9 73.9M31.1 95.2L29.9 87.0M29.9 86.7L29.1 81.2M28.5 76.6L27.1 66.7M33.1 92.8L32.0 85.0M31.8 84.1L30.9 77.3M30.8 76.8L29.7 68.6M33.9 81.1L33.4 77.3M33.3 76.9L32.9 73.7M31.7 65.5L31.0 60.4M37.9 90.6L36.5 81.1M36.4 80.1L35.0 70.5M34.9 69.4L33.4 58.8M38.9 83.9L38.0 77.8M37.9 77.1L36.8 69.2M36.7 68.4L36.2 64.8M36.1 64.2L35.5 59.5M41.5 85.4L40.7 79.4M40.6 79.1L39.2 69.0M39.1 68.0L37.9 59.7M37.8 58.8L36.3 48.0M43.5 83.7L42.4 75.9M42.3 75.3L41.7 71.0M45.5 81.8L44.0 71.1M43.9 70.3L42.5 60.1M42.5 59.8L42.0 56.6M47.8 78.6L47.3 75.5M47.2 74.5L46.3 68.1M46.2 67.1L45.3 61.1M50.0 81.4L49.2 75.4M49.1 74.8L48.4 70.0M48.3 69.0L47.0 59.8M51.9 75.6L51.4 71.8M51.3 70.9L50.7 66.6M33.4 57.7L36.4 57.3M36.8 57.2L47.6 55.7M31.8 61.1L35.9 60.5M36.4 60.5L41.9 59.7M36.7 63.7L47.6 62.1M24.8 68.7L30.1 67.9M30.8 67.8L39.6 66.6M40.3 66.5L44.2 66.0M44.7 65.9L54.7 64.5M22.6 72.6L30.7 71.5M36.6 70.6L42.2 69.9M43.3 69.7L50.5 68.7M25.5 75.6L33.6 74.5M34.8 74.3L38.3 73.8M39.4 73.6L49.5 72.2M49.8 72.2L54.7 71.5M16.1 80.1L26.5 78.7M26.8 78.6L34.9 77.5M35.5 77.4L45.1 76.0M45.6 76.0L53.0 74.9M28.8 81.8L39.6 80.3M40.1 80.2L49.1 78.9M15.4 87.0L22.6 86.0M23.5 85.9L28.1 85.2M28.6 85.2L35.9 84.1M36.8 84.0L47.1 82.6M15.3 90.4L23.5 89.3M23.9 89.2L28.1 88.6M37.0 87.4L43.2 86.5M22.3 92.9L31.0 91.7M32.2 91.5L36.7 90.9M61.6 105.9L63.0 100.4M63.2 99.3L64.5 94.2M61.7 115.2L63.9 106.6M65.9 98.2L67.5 91.8M63.7 117.0L65.4 110.3M65.6 109.3L67.4 102.1M67.6 101.5L68.8 96.4M68.9 96.0L70.7 88.8M70.8 88.6L72.6 81.4M67.0 112.8L68.3 107.6M68.4 107.1L69.3 103.5M69.6 102.3L71.7 93.7M71.8 93.5L73.5 86.5M67.6 119.4L69.8 110.5M70.1 109.5L72.2 100.9M72.3 100.6L74.7 91.2M71.3 114.9L72.8 108.9M72.9 108.5L75.3 98.9M75.4 98.6L76.8 92.7M77.0 92.1L78.5 85.9M78.6 85.5L79.5 81.9M72.2 120.2L73.9 113.2M74.1 112.3L75.8 105.7M75.9 105.3L76.9 101.3M79.4 91.0L81.2 84.0M74.1 122.1L76.1 114.2M76.3 113.6L78.5 104.7M78.6 104.2L80.0 98.5M80.2 97.8L81.7 91.7M82.0 90.6L83.8 83.4M78.6 114.8L81.2 104.5M83.1 97.0L85.0 89.0M85.3 88.1L86.1 84.6M80.4 117.2L81.3 113.5M81.4 113.0L83.2 105.7M83.5 104.5L85.2 97.9M85.3 97.4L86.1 94.1M86.2 93.6L87.2 89.6M87.3 89.3L88.8 83.2M82.4 118.5L84.4 110.6M84.5 110.4L85.8 105.0M85.9 104.8L88.4 94.7M88.5 94.0L90.1 87.8M90.3 87.0L92.1 79.6M86.7 109.3L88.4 102.7M90.0 96.4L91.2 91.3M91.3 91.0L92.3 87.1M82.4 81.5L88.6 83.1M73.9 82.8L80.6 84.5M80.9 84.5L89.4 86.6M90.1 86.8L94.0 87.8M67.1 84.5L76.1 86.7M87.5 89.5L92.6 90.8M65.6 87.6L71.0 88.9M75.6 90.1L82.3 91.7M83.3 92.0L91.9 94.1M64.2 90.4L70.2 91.9M70.8 92.0L79.4 94.2M80.5 94.4L87.0 96.0M87.5 96.2L91.9 97.3M79.4 98.0L85.5 99.5M86.0 99.6L89.4 100.5M68.1 98.4L71.3 99.2M72.0 99.3L76.7 100.5M77.7 100.8L86.3 102.9M65.0 100.8L73.9 103.1M74.4 103.2L79.5 104.5M80.5 104.7L83.8 105.5M84.3 105.7L90.2 107.1M57.0 102.6L64.9 104.5M75.6 107.2L79.4 108.1M79.9 108.3L89.2 110.6M60.8 106.9L70.5 109.3M70.7 109.3L80.1 111.7M57.0 109.3L64.1 111.1M64.3 111.1L71.4 112.9M72.0 113.0L80.6 115.2M77.2 121.1L82.2 122.3M14.5 117.3L14.7 110.6M16.9 116.4L17.1 110.2M17.1 109.5L17.4 101.6M19.3 116.3L19.5 111.3M19.5 110.2L19.7 105.1M19.7 104.6L19.9 98.9M19.9 98.0L20.1 93.5M21.7 118.9L21.8 115.3M21.9 114.6L22.2 105.7M22.2 105.2L22.6 94.8M23.7 118.2L24.0 110.3M24.0 109.6L24.2 105.8M24.2 105.0L24.5 97.1M24.5 96.3L24.6 92.4M26.0 117.8L26.1 114.5M26.1 113.9L26.4 106.1M26.4 105.4L26.7 97.3M26.8 96.4L26.9 91.4M28.0 124.7L28.4 114.4M28.4 113.8L28.6 107.6M28.6 107.2L28.7 104.2M28.8 103.8L29.0 96.9M29.0 96.0L29.2 90.3M30.3 126.3L30.6 115.6M30.7 114.9L30.8 111.3M30.8 111.1L31.0 105.2M31.0 104.3L31.3 97.1M31.3 96.4L31.4 93.1M33.2 120.6L33.4 113.3M33.4 112.9L33.7 105.8M33.7 105.2L34.1 94.2M35.3 118.3L35.7 108.7M35.7 107.7L35.8 104.0M36.0 100.0L36.3 91.8M37.4 125.1L37.7 115.1M37.7 114.2L37.9 108.6M37.9 108.2L38.1 105.1M38.1 104.8L38.4 96.0M39.6 125.9L39.8 120.6M39.8 120.2L40.1 110.5M40.2 110.1L40.4 104.3M42.3 116.0L42.5 112.2M42.5 111.7L42.7 106.8M42.8 101.7L42.9 98.5M44.7 120.4L44.8 117.1M44.8 116.8L45.0 111.6M45.0 110.8L45.3 103.0M45.3 102.6L45.5 98.0M46.7 124.8L47.0 116.3M47.0 115.5L47.4 105.0M47.4 104.5L47.6 98.6M49.1 122.0L49.3 114.3M49.4 113.4L49.7 104.0M51.7 114.2L51.9 107.9M51.9 107.4L52.1 103.3M54.1 113.0L54.3 109.9M22.3 94.1L32.8 94.5M33.5 94.5L42.7 94.8M13.1 97.0L22.5 97.4M23.5 97.4L28.9 97.6M17.8 100.2L21.3 100.3M22.3 100.4L30.4 100.7M39.7 101.0L48.8 101.3M14.4 103.5L24.5 103.8M25.1 103.8L32.4 104.1M32.8 104.1L42.4 104.4M48.1 104.6L53.6 104.8M19.3 107.0L29.1 107.3M30.0 107.3L39.5 107.7M40.6 107.7L49.3 108.0M50.5 108.1L56.4 108.3M17.5 110.4L26.1 110.7M26.8 110.7L33.5 111.0M34.2 111.0L44.0 111.3M10.0 113.7L19.8 114.0M20.2 114.1L26.4 114.3M27.6 114.3L31.5 114.4M32.4 114.5L39.6 114.7M39.8 114.7L43.0 114.8M43.9 114.9L52.0 115.2M42.9 118.2L48.7 118.4M26.8 120.6L36.2 121.0M37.0 121.0L42.8 121.2M41.2 132.0L44.6 125.3M43.1 132.7L48.0 123.1M48.5 122.2L51.1 117.1M47.6 129.0L49.4 125.4M49.7 125.0L51.8 120.8M52.1 120.2L55.1 114.4M44.6 140.2L47.6 134.2M48.1 133.3L51.1 127.4M51.5 126.7L55.1 119.5M47.2 140.0L52.1 130.3M52.6 129.4L54.9 124.8M55.2 124.3L57.6 119.6M58.0 118.7L62.3 110.4M44.4 150.9L48.6 142.7M49.1 141.8L53.7 132.6M56.6 127.0L59.4 121.6M59.8 120.7L64.8 111.0M47.5 149.7L51.2 142.6M51.6 141.7L54.3 136.4M54.4 136.1L56.9 131.3M57.1 131.0L60.5 124.3M60.8 123.5L65.7 114.1M50.5 149.1L55.4 139.3M55.8 138.7L57.6 135.1M58.1 134.1L61.6 127.3M61.7 127.0L64.6 121.4M64.9 120.7L67.2 116.2M50.4 154.6L53.5 148.5M62.0 131.8L63.3 129.1M63.9 128.1L66.5 122.9M67.0 121.9L69.1 117.8M54.0 152.2L58.8 142.7M59.2 142.0L61.2 138.1M61.3 137.7L63.6 133.4M64.0 132.6L66.4 127.8M66.8 127.0L70.4 119.9M59.9 145.8L63.9 137.9M64.2 137.3L67.8 130.4M68.3 129.3L70.3 125.4M70.8 124.4L74.5 117.1M62.3 145.6L65.2 139.8M65.7 138.8L69.9 130.7M70.1 130.3L72.5 125.6M73.0 124.6L76.9 116.9M70.0 136.2L72.6 131.1M73.1 130.3L75.8 124.9M75.9 124.6L78.6 119.3M62.2 113.6L66.0 115.6M66.5 115.8L72.8 119.0M73.4 119.3L76.3 120.8M57.5 114.8L63.8 118.0M64.6 118.4L68.4 120.3M69.3 120.8L75.9 124.2M76.1 124.3L79.8 126.2M49.5 114.5L55.8 117.7M56.3 117.9L59.2 119.5M59.9 119.8L64.2 122.0M65.0 122.4L74.7 127.4M54.5 120.8L59.6 123.4M60.1 123.7L64.4 125.8M64.8 126.1L72.6 130.1M48.0 121.1L53.3 123.8M54.1 124.2L61.7 128.1M62.1 128.3L70.1 132.4M47.8 125.0L55.5 128.9M59.3 130.9L63.1 132.8M64.1 133.3L72.9 137.8M41.6 125.6L44.6 127.2M44.8 127.3L50.3 130.1M50.5 130.2L57.4 133.7M58.1 134.1L66.4 138.3M39.7 128.1L46.3 131.4M47.1 131.8L51.6 134.1M52.4 134.6L58.3 137.5M58.5 137.7L62.9 139.9M49.1 136.6L52.1 138.1M52.3 138.2L60.7 142.5M41.2 136.5L47.5 139.7M48.5 140.2L57.9 145.0M58.8 145.4L63.6 147.9M45.9 142.6L51.3 145.4M51.9 145.7L61.2 150.4M49.2 148.1L55.7 151.4M46.6 150.4L55.3 154.8M11.8 130.5L12.5 124.9M12.6 124.0L13.0 120.9M14.4 131.0L14.9 127.0M15.0 126.0L16.3 115.4M15.9 135.4L16.2 132.4M16.3 131.3L17.2 124.1M19.1 129.8L19.8 123.8M21.0 132.4L22.2 122.0M21.7 147.4L22.8 138.5M22.9 137.5L23.7 131.0M23.8 130.3L24.6 123.6M24.1 147.6L24.8 142.1M24.8 141.6L25.3 137.6M26.1 130.7L27.3 121.3M26.7 144.5L27.8 135.2M27.9 134.1L29.2 123.5M27.9 151.3L28.9 142.8M29.0 142.0L29.5 138.2M29.5 137.6L30.0 133.8M30.1 133.0L30.6 129.1M30.7 128.4L31.8 119.0M30.6 151.1L31.4 144.9M32.2 154.0L33.5 143.2M33.5 142.7L34.0 138.8M34.1 137.9L35.0 131.1M35.0 130.9L36.0 122.4M35.2 150.3L35.8 145.3M35.8 144.7L36.7 137.7M36.8 137.1L37.8 128.7M38.2 142.2L39.1 135.2M39.1 135.0L39.6 131.1M39.7 130.0L40.6 122.9M39.6 150.7L40.1 146.2M40.2 145.8L41.3 137.0M41.4 135.9L41.9 131.7M41.5 154.3L42.1 149.7M43.0 142.1L43.7 136.6M44.2 150.2L45.3 141.1M45.5 158.1L46.5 150.0M17.4 120.4L21.8 120.9M22.5 121.0L30.3 121.9M9.2 123.0L18.8 124.2M19.1 124.2L22.7 124.7M23.5 124.8L33.3 126.0M34.1 126.1L42.9 127.2M17.9 127.2L26.1 128.2M26.9 128.3L30.6 128.7M30.8 128.7L40.7 129.9M10.3 130.0L17.6 130.9M18.6 131.0L29.1 132.3M30.1 132.4L34.7 133.0M35.1 133.1L44.8 134.2M14.2 133.6L23.7 134.8M33.8 136.0L38.3 136.6M39.1 136.7L42.4 137.1M18.3 137.7L25.7 138.6M36.8 139.9L43.2 140.7M21.2 141.5L31.6 142.7M40.8 143.9L49.9 145.0M27.2 145.2L32.5 145.9M33.1 145.9L39.2 146.7M40.1 146.8L45.8 147.5M32.6 149.4L43.4 150.7M39.0 97.0L37.3 88.9M41.1 95.6L39.7 88.9M47.2 102.0L45.7 94.9M45.6 94.1L43.3 83.6M50.7 106.6L49.1 99.0M49.0 98.8L47.1 89.8M46.9 88.7L45.8 83.4M53.2 108.3L51.6 101.0M51.6 100.8L49.4 90.7M49.2 89.9L47.4 81.1M55.6 107.6L54.7 103.3M54.6 102.9L53.7 98.6M53.4 97.5L51.4 88.1M51.4 87.9L50.2 82.4M56.8 102.6L54.6 92.1M54.4 91.1L53.6 87.4M58.4 100.0L56.2 89.7M56.0 88.7L55.0 84.0M54.9 83.6L54.3 80.6M54.1 79.6L52.5 72.0M61.3 102.3L60.6 99.1M60.4 98.3L59.6 94.3M59.5 93.8L57.7 85.8M57.5 84.7L55.3 74.2M62.1 94.5L61.2 90.3M60.9 89.3L60.0 84.7M59.8 83.7L58.4 77.1M63.6 91.4L62.6 86.8M62.5 86.3L60.9 78.5M65.9 91.2L65.2 87.6M46.3 81.7L55.3 79.8M56.1 79.6L62.4 78.3M55.4 83.4L64.3 81.5M40.1 90.0L47.8 88.4M48.9 88.1L53.7 87.1M54.0 87.0L58.9 86.0M60.0 85.8L64.6 84.8M41.8 93.0L47.7 91.7M48.4 91.6L54.3 90.3M55.1 90.1L62.2 88.6M63.4 88.4L69.6 87.1M41.8 96.6L51.3 94.5M52.0 94.4L55.0 93.8M55.6 93.6L66.3 91.4M48.8 98.6L53.9 97.5M54.7 97.3L63.6 95.5M48.5 102.0L52.1 101.3M49.6 105.0L55.9 103.7M51.8 107.9L59.7 106.3" fill="none" stroke="#68bc70" stroke-width="1.05" stroke-dasharray="1.5 0.4"/><path d="M48.4 41.2L43.5 34.1M54.3 44.9L52.4 42.1M50.1 35.3L45.4 28.6M55.2 34.3L51.7 29.3M60.5 34.3L58.1 30.9M75.0 46.9L72.5 43.3M45.2 39.1L51.7 34.5M67.4 28.1L71.4 25.3M54.3 62.2L51.5 55.1M58.1 60.0L55.9 54.6M77.1 69.7L73.7 61.4M48.9 65.3L57.0 62.0M51.8 74.9L59.9 71.7M22.0 94.1L20.8 85.4M29.6 68.1L28.9 63.1M32.8 72.9L31.8 66.0M35.4 58.9L34.8 54.7M40.2 60.1L39.7 56.2M42.8 59.6L48.9 58.7M32.3 64.3L36.0 63.8M31.6 71.4L35.6 70.8M29.1 88.5L36.2 87.5M57.1 115.2L59.4 105.9M81.4 103.5L82.8 98.1M71.3 89.0L75.2 90.0M74.5 96.7L78.9 97.8M57.8 95.8L67.9 98.3M68.7 115.7L75.6 117.4M35.2 123.5L35.3 118.6M35.9 103.8L36.0 100.3M40.4 103.2L40.7 94.8M42.1 123.7L42.3 117.0M30.0 97.6L39.6 98.0M42.8 104.5L47.2 104.6M44.8 111.4L50.7 111.6M51.0 111.6L54.3 111.7M54.2 131.8L56.5 127.2M54.0 147.5L57.8 139.9M58.1 139.5L61.9 132.0M56.9 151.7L59.4 146.8M56.0 110.5L61.6 113.3M63.4 140.1L67.0 142.0M18.0 138.8L19.0 130.9M32.9 132.2L34.2 122.0M26.6 138.7L35.6 139.8M32.4 142.8L40.2 143.8M43.7 96.7L42.1 89.3M58.2 109.0L57.0 103.1M53.5 86.8L52.5 82.1M59.7 106.0L58.5 100.2M56.2 103.6L59.9 102.9" fill="none" stroke="#c9d86a" stroke-width="1.05" stroke-dasharray="1.5 0.4"/><path d="M52.6 33.9L59.4 29.2M48.1 41.6L56.5 35.7M61.5 52.1L69.9 46.3M63.6 61.3L61.9 57.3M66.2 58.3L72.4 55.8M55.9 65.6L65.5 61.7M72.9 58.8L81.8 55.2M77.8 64.5L80.7 63.3M83.3 68.9L90.4 66.0M60.5 81.8L65.2 79.9M72.5 76.9L81.6 73.3M25.8 73.5L25.1 68.4M35.1 89.9L34.0 81.5M39.9 91.3L39.0 84.8M18.0 83.3L28.2 81.9M63.9 106.4L65.8 98.6M67.7 91.2L69.7 83.1M76.8 122.0L78.4 115.5M77.0 86.9L87.1 89.5M67.3 94.9L73.7 96.5M65.2 104.6L75.1 107.1M76.3 117.5L82.4 119.1M31.3 100.7L39.3 101.0M30.9 117.7L41.8 118.1M42.6 138.9L47.2 129.7M55.4 119.0L58.5 112.8M17.4 123.1L17.8 119.1M25.4 137.1L26.0 131.9M31.4 144.7L31.9 140.3M37.3 149.2L38.1 143.3M42.1 149.3L42.9 142.9M24.0 134.8L33.2 136.0M44.8 85.6L54.2 83.6" fill="none" stroke="#f0b24a" stroke-width="1.05" stroke-dasharray="1.5 0.4"/><polyline points="47.3,30.8 44.2,53.9 42.7,78.6 41.1,103.2 38.1,127.9 33.4,149.4" fill="none" stroke="#c8d66a" stroke-width="0.85" stroke-dasharray="1.0 1.0" opacity="0.9"/><polyline points="70.4,29.3 55.0,53.9 42.7,78.6 30.4,100.1 18.0,118.6" fill="none" stroke="#9fce7a" stroke-width="0.85" stroke-dasharray="1.0 1.0" opacity="0.9"/><polyline points="19.6,90.9 42.7,92.4 67.3,95.5 91.3,97.1" fill="none" stroke="#9fce7a" stroke-width="0.85" stroke-dasharray="1.0 1.0" opacity="0.9"/><polyline points="24.2,72.4 48.8,70.9 73.5,67.8 87.3,64.7" fill="none" stroke="#9fce7a" stroke-width="0.85" stroke-dasharray="1.0 1.0" opacity="0.9"/><polyline points="13.4,118.6 36.5,117.1 61.2,112.5 81.2,115.5" fill="none" stroke="#c8d66a" stroke-width="0.85" stroke-dasharray="1.0 1.0" opacity="0.9"/><polyline points="64.2,23.8 65.8,47.8 70.4,75.5 73.5,100.1 75.0,124.8" fill="none" stroke="#c8d66a" stroke-width="0.85" stroke-dasharray="1.0 1.0" opacity="0.9"/><polyline points="49.4,27.8 35.0,53.9 24.2,72.4 18.0,94.0 11.9,127.9" fill="none" stroke="#c8d66a" stroke-width="0.85" stroke-dasharray="1.0 1.0" opacity="0.9"/><polyline points="70.4,29.3 84.2,55.5 92.6,87.8 81.2,115.5 61.2,143.2 47.3,154.0" fill="none" stroke="#9fce7a" stroke-width="0.85" stroke-dasharray="1.0 1.0" opacity="0.9"/><polyline points="11.9,127.9 30.4,134.0 51.9,137.1 68.9,134.0" fill="none" stroke="#9fce7a" stroke-width="0.85" stroke-dasharray="1.0 1.0" opacity="0.9"/><polyline points="35.0,53.9 58.1,60.1 84.2,55.5" fill="none" stroke="#f0a03c" stroke-width="0.85" stroke-dasharray="1.0 1.0" opacity="0.9"/><polyline points="55.0,100.1 58.1,121.7 53.5,150.9" fill="none" stroke="#9fce7a" stroke-width="0.85" stroke-dasharray="1.0 1.0" opacity="0.9"/><polyline points="47.3,30.8 44.2,53.9 42.7,78.6 41.1,103.2 38.1,127.9 33.4,149.4" fill="none" stroke="#e8502e" stroke-width="1.05" stroke-dasharray="1.0 2.9" stroke-linecap="round"/><polyline points="19.6,90.9 42.7,92.4 67.3,95.5 91.3,97.1" fill="none" stroke="#e8502e" stroke-width="1.05" stroke-dasharray="1.0 2.9" stroke-linecap="round"/><polyline points="64.2,23.8 65.8,47.8 70.4,75.5 73.5,100.1 75.0,124.8" fill="none" stroke="#e8502e" stroke-width="1.05" stroke-dasharray="1.0 2.9" stroke-linecap="round"/><polyline points="49.4,27.8 35.0,53.9 24.2,72.4 18.0,94.0 11.9,127.9" fill="none" stroke="#e8502e" stroke-width="1.05" stroke-dasharray="1.0 2.9" stroke-linecap="round"/><polyline points="70.4,29.3 84.2,55.5 92.6,87.8 81.2,115.5 61.2,143.2 47.3,154.0" fill="none" stroke="#e8502e" stroke-width="1.05" stroke-dasharray="1.0 2.9" stroke-linecap="round"/><circle cx="42.0" cy="89.1" r="0.8" fill="#e8452c"/><circle cx="38.7" cy="122.5" r="0.9" fill="#e8452c"/><circle cx="43.1" cy="72.0" r="0.65" fill="#f07030"/><circle cx="42.3" cy="84.1" r="0.8" fill="#f07030"/><circle cx="35.6" cy="139.5" r="0.8" fill="#e8452c"/><circle cx="39.7" cy="114.4" r="0.8" fill="#e8452c"/><circle cx="42.2" cy="86.9" r="0.9" fill="#f07030"/><circle cx="43.5" cy="64.8" r="0.65" fill="#f07030"/><circle cx="46.5" cy="36.8" r="0.9" fill="#f07030"/><circle cx="29.9" cy="100.8" r="0.9" fill="#e8452c"/><circle cx="23.3" cy="110.6" r="0.8" fill="#f07030"/><circle cx="35.6" cy="91.0" r="0.8" fill="#f07030"/><circle cx="39.8" cy="83.6" r="0.9" fill="#e8452c"/><circle cx="61.2" cy="44.0" r="0.9" fill="#e8452c"/><circle cx="33.2" cy="95.1" r="0.8" fill="#e8452c"/><circle cx="61.6" cy="43.4" r="0.65" fill="#e8452c"/><circle cx="45.0" cy="73.9" r="0.8" fill="#f07030"/><circle cx="24.7" cy="108.6" r="0.9" fill="#f07030"/><circle cx="66.5" cy="95.4" r="0.65" fill="#f07030"/><circle cx="26.3" cy="91.3" r="0.8" fill="#e8452c"/><circle cx="82.4" cy="96.5" r="0.65" fill="#e8452c"/><circle cx="32.8" cy="91.8" r="0.8" fill="#e8452c"/><circle cx="23.1" cy="91.1" r="0.8" fill="#e8452c"/><circle cx="86.5" cy="96.7" r="0.9" fill="#e8452c"/><circle cx="87.6" cy="96.8" r="0.65" fill="#e8452c"/><circle cx="23.5" cy="91.2" r="0.8" fill="#e8452c"/><circle cx="64.1" cy="95.1" r="0.65" fill="#e8452c"/><circle cx="53.6" cy="70.3" r="0.65" fill="#e8452c"/><circle cx="86.5" cy="64.9" r="0.65" fill="#e8452c"/><circle cx="85.3" cy="65.2" r="0.9" fill="#f07030"/><circle cx="33.0" cy="71.9" r="0.9" fill="#e8452c"/><circle cx="68.5" cy="68.4" r="0.9" fill="#f07030"/><circle cx="70.9" cy="68.1" r="0.65" fill="#f07030"/><circle cx="63.1" cy="69.1" r="0.65" fill="#f07030"/><circle cx="79.4" cy="66.5" r="0.65" fill="#e8452c"/><circle cx="30.7" cy="72.0" r="0.65" fill="#f07030"/><circle cx="15.6" cy="118.5" r="0.65" fill="#e8452c"/><circle cx="26.9" cy="117.7" r="0.9" fill="#e8452c"/><circle cx="13.7" cy="118.6" r="0.8" fill="#e8452c"/><circle cx="81.2" cy="115.5" r="0.9" fill="#e8452c"/><circle cx="33.9" cy="117.2" r="0.9" fill="#e8452c"/><circle cx="61.4" cy="112.5" r="0.8" fill="#e8452c"/><circle cx="80.4" cy="115.4" r="0.65" fill="#f07030"/><circle cx="28.2" cy="117.6" r="0.8" fill="#e8452c"/><circle cx="53.3" cy="113.9" r="0.65" fill="#f07030"/><circle cx="74.8" cy="120.7" r="0.9" fill="#e8452c"/><circle cx="75.0" cy="124.4" r="0.8" fill="#e8452c"/><circle cx="70.9" cy="79.4" r="0.8" fill="#e8452c"/><circle cx="67.1" cy="55.6" r="0.9" fill="#e8452c"/><circle cx="67.1" cy="55.5" r="0.8" fill="#f07030"/><circle cx="74.2" cy="112.3" r="0.8" fill="#e8452c"/><circle cx="65.3" cy="39.9" r="0.65" fill="#e8452c"/><circle cx="74.9" cy="123.4" r="0.65" fill="#f07030"/><circle cx="64.5" cy="28.3" r="0.65" fill="#f07030"/><circle cx="44.1" cy="37.5" r="0.9" fill="#e8452c"/><circle cx="48.5" cy="29.4" r="0.9" fill="#e8452c"/><circle cx="23.2" cy="75.7" r="0.8" fill="#e8452c"/><circle cx="17.9" cy="94.7" r="0.65" fill="#f07030"/><circle cx="13.8" cy="117.4" r="0.65" fill="#e8452c"/><circle cx="32.9" cy="57.4" r="0.9" fill="#e8452c"/><circle cx="33.6" cy="56.3" r="0.9" fill="#f07030"/><circle cx="12.5" cy="124.4" r="0.8" fill="#e8452c"/><circle cx="16.2" cy="104.1" r="0.65" fill="#e8452c"/><circle cx="51.4" cy="150.9" r="0.8" fill="#f07030"/><circle cx="72.8" cy="33.8" r="0.9" fill="#f07030"/><circle cx="87.7" cy="69.0" r="0.8" fill="#e8452c"/><circle cx="54.8" cy="148.2" r="0.65" fill="#f07030"/><circle cx="79.8" cy="117.5" r="0.9" fill="#e8452c"/><circle cx="85.7" cy="61.1" r="0.65" fill="#e8452c"/><circle cx="92.2" cy="86.4" r="0.9" fill="#e8452c"/><circle cx="55.8" cy="147.4" r="0.9" fill="#e8452c"/><circle cx="88.1" cy="70.5" r="0.9" fill="#e8452c"/><circle cx="58.6" cy="135.9" r="0.8" fill="#f07030"/><circle cx="51.6" cy="137.0" r="0.8" fill="#e8452c"/><circle cx="55.3" cy="136.5" r="0.65" fill="#e8452c"/><circle cx="59.2" cy="135.8" r="0.9" fill="#e8452c"/><circle cx="60.9" cy="135.5" r="0.9" fill="#f07030"/><circle cx="13.1" cy="128.3" r="0.9" fill="#f07030"/><circle cx="15.9" cy="129.2" r="0.9" fill="#f07030"/><circle cx="25.1" cy="132.3" r="0.8" fill="#f07030"/><circle cx="66.8" cy="134.4" r="0.65" fill="#e8452c"/><circle cx="40.7" cy="55.5" r="0.8" fill="#e8452c"/><circle cx="77.0" cy="56.8" r="0.9" fill="#f07030"/><circle cx="74.2" cy="57.3" r="0.9" fill="#e8452c"/><circle cx="78.1" cy="56.6" r="0.8" fill="#e8452c"/><circle cx="81.1" cy="56.0" r="0.65" fill="#e8452c"/><circle cx="50.4" cy="58.0" r="0.65" fill="#f07030"/><circle cx="41.0" cy="55.6" r="0.8" fill="#f07030"/><circle cx="68.5" cy="58.3" r="0.8" fill="#e8452c"/><circle cx="49.8" cy="57.9" r="0.9" fill="#f07030"/><circle cx="57.1" cy="114.6" r="0.8" fill="#e8452c"/><circle cx="57.9" cy="120.4" r="0.9" fill="#f07030"/><circle cx="55.0" cy="140.8" r="0.8" fill="#e8452c"/><circle cx="57.8" cy="119.7" r="0.65" fill="#f07030"/><circle cx="54.8" cy="142.5" r="0.65" fill="#e8452c"/><circle cx="55.7" cy="136.9" r="0.9" fill="#e8452c"/><circle cx="55.4" cy="103.2" r="0.8" fill="#e8452c"/><circle cx="56.4" cy="109.8" r="0.9" fill="#e8452c"/><circle cx="58.0" cy="122.1" r="0.9" fill="#e8452c"/><circle cx="17.1" cy="137.2" r="0.7" fill="#e8452c"/><circle cx="112.4" cy="61.7" r="0.7" fill="#e8452c"/><circle cx="88.9" cy="55.2" r="0.7" fill="#f08a38"/><circle cx="6.7" cy="75.3" r="0.7" fill="#e8452c"/><circle cx="9.5" cy="131.5" r="0.7" fill="#f08a38"/><circle cx="121.6" cy="130.0" r="0.7" fill="#f08a38"/><circle cx="106.1" cy="2.4" r="0.7" fill="#f08a38"/><circle cx="84.2" cy="18.1" r="0.7" fill="#f08a38"/><circle cx="43.4" cy="84.7" r="0.7" fill="#f08a38"/><circle cx="80.2" cy="83.1" r="0.7" fill="#f08a38"/><circle cx="90.0" cy="6.1" r="0.7" fill="#f08a38"/><circle cx="106.3" cy="16.1" r="0.7" fill="#e8452c"/><circle cx="141.1" cy="150.1" r="0.7" fill="#e8452c"/><circle cx="38.4" cy="44.7" r="0.7" fill="#e8452c"/><circle cx="16.3" cy="157.4" r="0.7" fill="#f08a38"/><circle cx="35.7" cy="155.1" r="0.7" fill="#e8452c"/><circle cx="53.3" cy="78.0" r="0.7" fill="#e8452c"/><circle cx="10.0" cy="128.7" r="0.7" fill="#e8452c"/><circle cx="5.2" cy="121.4" r="0.7" fill="#e8452c"/><circle cx="71.0" cy="63.9" r="0.7" fill="#f08a38"/><circle cx="28.0" cy="28.5" r="0.7" fill="#e8452c"/><circle cx="38.4" cy="27.5" r="0.7" fill="#f08a38"/><circle cx="144.5" cy="118.4" r="0.7" fill="#f08a38"/><circle cx="107.0" cy="29.9" r="0.7" fill="#f08a38"/><circle cx="104.1" cy="115.2" r="0.7" fill="#e8452c"/><circle cx="9.4" cy="5.9" r="0.7" fill="#e8452c"/><circle cx="108.8" cy="25.9" r="0.7" fill="#e8452c"/><circle cx="44.2" cy="149.5" r="0.7" fill="#e8452c"/><circle cx="98.1" cy="113.5" r="0.7" fill="#e8452c"/><circle cx="78.0" cy="127.6" r="0.7" fill="#e8452c"/><circle cx="89.1" cy="121.9" r="0.7" fill="#f08a38"/><circle cx="57.7" cy="35.5" r="0.7" fill="#f08a38"/><circle cx="6.8" cy="102.5" r="0.7" fill="#e8452c"/><circle cx="142.5" cy="55.5" r="0.7" fill="#f08a38"/><circle cx="123.6" cy="66.3" r="0.7" fill="#f08a38"/><circle cx="112.4" cy="118.3" r="0.7" fill="#f08a38"/><circle cx="67.8" cy="135.7" r="0.7" fill="#e8452c"/><circle cx="78.0" cy="75.0" r="0.7" fill="#f08a38"/><circle cx="49.1" cy="118.2" r="0.7" fill="#f08a38"/><circle cx="64.2" cy="30.2" r="0.7" fill="#f08a38"/><circle cx="138.9" cy="4.7" r="0.7" fill="#f08a38"/><circle cx="106.1" cy="147.6" r="0.7" fill="#e8452c"/><circle cx="87.3" cy="152.1" r="0.7" fill="#f08a38"/><circle cx="109.9" cy="37.7" r="0.7" fill="#f08a38"/><circle cx="126.9" cy="138.5" r="0.7" fill="#e8452c"/><circle cx="135.9" cy="70.0" r="0.7" fill="#f08a38"/><circle cx="9.3" cy="110.5" r="0.7" fill="#e8452c"/><circle cx="71.5" cy="44.4" r="0.7" fill="#f08a38"/><circle cx="95.9" cy="57.3" r="0.7" fill="#e8452c"/><circle cx="100.2" cy="136.4" r="0.7" fill="#e8452c"/><circle cx="2.4" cy="61.4" r="0.7" fill="#f08a38"/><circle cx="91.8" cy="80.3" r="0.7" fill="#e8452c"/><circle cx="20.7" cy="108.2" r="0.7" fill="#e8452c"/><circle cx="143.4" cy="143.2" r="0.7" fill="#f08a38"/><circle cx="51.2" cy="10.0" r="0.7" fill="#f08a38"/><circle cx="135.7" cy="2.5" r="0.7" fill="#f08a38"/><circle cx="107.2" cy="87.7" r="0.7" fill="#e8452c"/><circle cx="121.9" cy="155.4" r="0.7" fill="#e8452c"/><circle cx="145.8" cy="3.7" r="0.7" fill="#f08a38"/><circle cx="85.4" cy="119.2" r="0.7" fill="#f08a38"/><circle cx="103.5" cy="87.9" r="0.7" fill="#e8452c"/><circle cx="77.2" cy="0.8" r="0.7" fill="#f08a38"/><circle cx="71.0" cy="144.1" r="0.7" fill="#e8452c"/><circle cx="22.3" cy="51.9" r="0.7" fill="#e8452c"/><circle cx="111.9" cy="136.9" r="0.7" fill="#e8452c"/><circle cx="120.4" cy="93.5" r="0.7" fill="#e8452c"/><circle cx="76.2" cy="37.2" r="0.7" fill="#f08a38"/><circle cx="13.9" cy="78.6" r="0.7" fill="#e8452c"/><circle cx="58.9" cy="117.4" r="0.7" fill="#e8452c"/><circle cx="78.7" cy="22.8" r="0.7" fill="#f08a38"/></g></g><text x="58.1" y="92.1" font-size="11.2" fill="#7d7888" text-anchor="middle" font-weight="bold" stroke="#fff" stroke-width="1.6" stroke-opacity="0.55" paint-order="stroke" letter-spacing="-0.1" opacity="0.9">Saint Louis</text><rect x="4.2" y="4.7" width="18.8" height="54.8" fill="#fff" opacity="0.95"/><circle cx="13.3" cy="14.5" r="3.6" fill="none" stroke="#666" stroke-width="0.7" stroke-dasharray="1.2 0.9"/><polygon points="13.3,29.3 17.6,31.9 15.6,36.0 11.0,36.0 9.6,31.9" fill="none" stroke="#666" stroke-width="0.7" stroke-dasharray="1.6 0.6"/><ellipse cx="13.6" cy="49.6" rx="4.2" ry="3" fill="none" stroke="#666" stroke-width="0.7" transform="rotate(-12 13.3 50.2)"/><path d="M10.1 51.0 q-1.2 1.6 -0.2 3.2" fill="none" stroke="#666" stroke-width="0.7"/><rect x="48.2" y="6.2" width="96.4" height="13.9" fill="#fff" stroke="#e4e4e4" stroke-width="0.4"/><text x="53.2" y="15.5" font-size="6.3" fill="#8a8a8a">Zoom to</text><rect x="125.2" y="106.3" width="17.6" height="33.9" rx="1.2" fill="#fff" stroke="#ddd" stroke-width="0.5"/><line x1="125.2" x2="142.8" y1="123.2" y2="123.2" stroke="#ddd" stroke-width="0.5"/><path d="M130.7 114.8h6.6M134.0 111.5v6.6M130.7 131.7h6.6" stroke="#6a6a6a" stroke-width="1.5" fill="none"/><rect x="87.3" y="127.2" width="35.7" height="10.5" fill="#fff" fill-opacity="0.85"/><path d="M87.3 131.2V137.7H123.1V131.2" fill="none" stroke="#555" stroke-width="0.8"/><text x="90.8" y="134.7" font-size="5.2" fill="#333">5 km</text><circle cx="84.2" cy="149.1" r="3.8" fill="#444"/><text x="84.2" y="151.3" font-size="6.4" font-weight="bold" fill="#fff" text-anchor="middle">i</text><circle cx="99.3" cy="148.8" r="5.5" fill="#fff" stroke="#666" stroke-width="1"/><circle cx="99.3" cy="148.8" r="2.6" fill="none" stroke="#777" stroke-width="0.9"/><text x="106.1" y="152.0" font-size="9.3" font-weight="bold" fill="#fff" stroke="#6a6a6a" stroke-width="1.4" paint-order="stroke" letter-spacing="-0.15">mapbox</text></svg></div>
<div class="panel" style="left:326.7px;top:8px;width:215.3px;height:145px"><div class="title" style="top:6.5px;letter-spacing:-0.17px">Hard Decelerations Heatmap</div><svg width="215.3" height="145" viewBox="0 0 215.3 145"><rect x="20.70" y="25.50" width="7.25" height="12.90" fill="#36893a"/><rect x="28.55" y="25.50" width="7.25" height="12.90" fill="#36893a"/><rect x="36.40" y="25.50" width="7.25" height="12.90" fill="#36893a"/><rect x="44.25" y="25.50" width="7.25" height="12.90" fill="#36893a"/><rect x="52.10" y="25.50" width="7.25" height="12.90" fill="#36893a"/><rect x="59.95" y="25.50" width="7.25" height="12.90" fill="#86bd4a"/><rect x="67.80" y="25.50" width="7.25" height="12.90" fill="#f5e24c"/><rect x="75.65" y="25.50" width="7.25" height="12.90" fill="#bed548"/><rect x="83.50" y="25.50" width="7.25" height="12.90" fill="#86bd4a"/><rect x="91.35" y="25.50" width="7.25" height="12.90" fill="#86bd4a"/><rect x="99.20" y="25.50" width="7.25" height="12.90" fill="#bed548"/><rect x="107.05" y="25.50" width="7.25" height="12.90" fill="#f5e24c"/><rect x="114.90" y="25.50" width="7.25" height="12.90" fill="#f5e24c"/><rect x="122.75" y="25.50" width="7.25" height="12.90" fill="#f5e24c"/><rect x="130.60" y="25.50" width="7.25" height="12.90" fill="#f5b548"/><rect x="138.45" y="25.50" width="7.25" height="12.90" fill="#f5b548"/><rect x="146.30" y="25.50" width="7.25" height="12.90" fill="#f5b548"/><rect x="154.15" y="25.50" width="7.25" height="12.90" fill="#f5e24c"/><rect x="162.00" y="25.50" width="7.25" height="12.90" fill="#bed548"/><rect x="169.85" y="25.50" width="7.25" height="12.90" fill="#86bd4a"/><rect x="177.70" y="25.50" width="7.25" height="12.90" fill="#4da648"/><rect x="185.55" y="25.50" width="7.25" height="12.90" fill="#4da648"/><rect x="193.40" y="25.50" width="7.25" height="12.90" fill="#36893a"/><rect x="201.25" y="25.50" width="7.25" height="12.90" fill="#36893a"/><rect x="20.70" y="39.00" width="7.25" height="12.90" fill="#36893a"/><rect x="28.55" y="39.00" width="7.25" height="12.90" fill="#36893a"/><rect x="36.40" y="39.00" width="7.25" height="12.90" fill="#36893a"/><rect x="44.25" y="39.00" width="7.25" height="12.90" fill="#36893a"/><rect x="52.10" y="39.00" width="7.25" height="12.90" fill="#36893a"/><rect x="59.95" y="39.00" width="7.25" height="12.90" fill="#86bd4a"/><rect x="67.80" y="39.00" width="7.25" height="12.90" fill="#f5b548"/><rect x="75.65" y="39.00" width="7.25" height="12.90" fill="#f5e24c"/><rect x="83.50" y="39.00" width="7.25" height="12.90" fill="#bed548"/><rect x="91.35" y="39.00" width="7.25" height="12.90" fill="#bed548"/><rect x="99.20" y="39.00" width="7.25" height="12.90" fill="#bed548"/><rect x="107.05" y="39.00" width="7.25" height="12.90" fill="#bed548"/><rect x="114.90" y="39.00" width="7.25" height="12.90" fill="#bed548"/><rect x="122.75" y="39.00" width="7.25" height="12.90" fill="#f5e24c"/><rect x="130.60" y="39.00" width="7.25" height="12.90" fill="#ee6a33"/><rect x="138.45" y="39.00" width="7.25" height="12.90" fill="#ee6a33"/><rect x="146.30" y="39.00" width="7.25" height="12.90" fill="#ee6a33"/><rect x="154.15" y="39.00" width="7.25" height="12.90" fill="#f5e24c"/><rect x="162.00" y="39.00" width="7.25" height="12.90" fill="#bed548"/><rect x="169.85" y="39.00" width="7.25" height="12.90" fill="#86bd4a"/><rect x="177.70" y="39.00" width="7.25" height="12.90" fill="#86bd4a"/><rect x="185.55" y="39.00" width="7.25" height="12.90" fill="#4da648"/><rect x="193.40" y="39.00" width="7.25" height="12.90" fill="#36893a"/><rect x="201.25" y="39.00" width="7.25" height="12.90" fill="#36893a"/><rect x="20.70" y="52.50" width="7.25" height="12.90" fill="#36893a"/><rect x="28.55" y="52.50" width="7.25" height="12.90" fill="#36893a"/><rect x="36.40" y="52.50" width="7.25" height="12.90" fill="#36893a"/><rect x="44.25" y="52.50" width="7.25" height="12.90" fill="#36893a"/><rect x="52.10" y="52.50" width="7.25" height="12.90" fill="#36893a"/><rect x="59.95" y="52.50" width="7.25" height="12.90" fill="#bed548"/><rect x="67.80" y="52.50" width="7.25" height="12.90" fill="#f5b548"/><rect x="75.65" y="52.50" width="7.25" height="12.90" fill="#f5e24c"/><rect x="83.50" y="52.50" width="7.25" height="12.90" fill="#bed548"/><rect x="91.35" y="52.50" width="7.25" height="12.90" fill="#bed548"/><rect x="99.20" y="52.50" width="7.25" height="12.90" fill="#bed548"/><rect x="107.05" y="52.50" width="7.25" height="12.90" fill="#f5e24c"/><rect x="114.90" y="52.50" width="7.25" height="12.90" fill="#f5e24c"/><rect x="122.75" y="52.50" width="7.25" height="12.90" fill="#f5e24c"/><rect x="130.60" y="52.50" width="7.25" height="12.90" fill="#f3943f"/><rect x="138.45" y="52.50" width="7.25" height="12.90" fill="#ee6a33"/><rect x="146.30" y="52.50" width="7.25" height="12.90" fill="#e23e27"/><rect x="154.15" y="52.50" width="7.25" height="12.90" fill="#f5b548"/><rect x="162.00" y="52.50" width="7.25" height="12.90" fill="#bed548"/><rect x="169.85" y="52.50" width="7.25" height="12.90" fill="#bed548"/><rect x="177.70" y="52.50" width="7.25" height="12.90" fill="#86bd4a"/><rect x="185.55" y="52.50" width="7.25" height="12.90" fill="#4da648"/><rect x="193.40" y="52.50" width="7.25" height="12.90" fill="#4da648"/><rect x="201.25" y="52.50" width="7.25" height="12.90" fill="#36893a"/><rect x="20.70" y="66.00" width="7.25" height="12.90" fill="#36893a"/><rect x="28.55" y="66.00" width="7.25" height="12.90" fill="#36893a"/><rect x="36.40" y="66.00" width="7.25" height="12.90" fill="#36893a"/><rect x="44.25" y="66.00" width="7.25" height="12.90" fill="#36893a"/><rect x="52.10" y="66.00" width="7.25" height="12.90" fill="#36893a"/><rect x="59.95" y="66.00" width="7.25" height="12.90" fill="#86bd4a"/><rect x="67.80" y="66.00" width="7.25" height="12.90" fill="#f5e24c"/><rect x="75.65" y="66.00" width="7.25" height="12.90" fill="#f5e24c"/><rect x="83.50" y="66.00" width="7.25" height="12.90" fill="#f5e24c"/><rect x="91.35" y="66.00" width="7.25" height="12.90" fill="#bed548"/><rect x="99.20" y="66.00" width="7.25" height="12.90" fill="#f5e24c"/><rect x="107.05" y="66.00" width="7.25" height="12.90" fill="#f5b548"/><rect x="114.90" y="66.00" width="7.25" height="12.90" fill="#f5e24c"/><rect x="122.75" y="66.00" width="7.25" height="12.90" fill="#f5b548"/><rect x="130.60" y="66.00" width="7.25" height="12.90" fill="#e23e27"/><rect x="138.45" y="66.00" width="7.25" height="12.90" fill="#e23e27"/><rect x="146.30" y="66.00" width="7.25" height="12.90" fill="#e23e27"/><rect x="154.15" y="66.00" width="7.25" height="12.90" fill="#f5b548"/><rect x="162.00" y="66.00" width="7.25" height="12.90" fill="#bed548"/><rect x="169.85" y="66.00" width="7.25" height="12.90" fill="#86bd4a"/><rect x="177.70" y="66.00" width="7.25" height="12.90" fill="#86bd4a"/><rect x="185.55" y="66.00" width="7.25" height="12.90" fill="#4da648"/><rect x="193.40" y="66.00" width="7.25" height="12.90" fill="#36893a"/><rect x="201.25" y="66.00" width="7.25" height="12.90" fill="#36893a"/><rect x="20.70" y="79.50" width="7.25" height="12.90" fill="#36893a"/><rect x="28.55" y="79.50" width="7.25" height="12.90" fill="#36893a"/><rect x="36.40" y="79.50" width="7.25" height="12.90" fill="#36893a"/><rect x="44.25" y="79.50" width="7.25" height="12.90" fill="#36893a"/><rect x="52.10" y="79.50" width="7.25" height="12.90" fill="#36893a"/><rect x="59.95" y="79.50" width="7.25" height="12.90" fill="#86bd4a"/><rect x="67.80" y="79.50" width="7.25" height="12.90" fill="#f5e24c"/><rect x="75.65" y="79.50" width="7.25" height="12.90" fill="#f5e24c"/><rect x="83.50" y="79.50" width="7.25" height="12.90" fill="#f5e24c"/><rect x="91.35" y="79.50" width="7.25" height="12.90" fill="#bed548"/><rect x="99.20" y="79.50" width="7.25" height="12.90" fill="#f5e24c"/><rect x="107.05" y="79.50" width="7.25" height="12.90" fill="#f5b548"/><rect x="114.90" y="79.50" width="7.25" height="12.90" fill="#f3943f"/><rect x="122.75" y="79.50" width="7.25" height="12.90" fill="#ee6a33"/><rect x="130.60" y="79.50" width="7.25" height="12.90" fill="#c42222"/><rect x="138.45" y="79.50" width="7.25" height="12.90" fill="#c42222"/><rect x="146.30" y="79.50" width="7.25" height="12.90" fill="#e23e27"/><rect x="154.15" y="79.50" width="7.25" height="12.90" fill="#e23e27"/><rect x="162.00" y="79.50" width="7.25" height="12.90" fill="#f5e24c"/><rect x="169.85" y="79.50" width="7.25" height="12.90" fill="#bed548"/><rect x="177.70" y="79.50" width="7.25" height="12.90" fill="#86bd4a"/><rect x="185.55" y="79.50" width="7.25" height="12.90" fill="#4da648"/><rect x="193.40" y="79.50" width="7.25" height="12.90" fill="#4da648"/><rect x="201.25" y="79.50" width="7.25" height="12.90" fill="#36893a"/><rect x="20.70" y="93.00" width="7.25" height="12.90" fill="#4da648"/><rect x="28.55" y="93.00" width="7.25" height="12.90" fill="#3d923e"/><rect x="36.40" y="93.00" width="7.25" height="12.90" fill="#3d923e"/><rect x="44.25" y="93.00" width="7.25" height="12.90" fill="#3d923e"/><rect x="52.10" y="93.00" width="7.25" height="12.90" fill="#3d923e"/><rect x="59.95" y="93.00" width="7.25" height="12.90" fill="#3d923e"/><rect x="67.80" y="93.00" width="7.25" height="12.90" fill="#4da648"/><rect x="75.65" y="93.00" width="7.25" height="12.90" fill="#86bd4a"/><rect x="83.50" y="93.00" width="7.25" height="12.90" fill="#f5e24c"/><rect x="91.35" y="93.00" width="7.25" height="12.90" fill="#f5e24c"/><rect x="99.20" y="93.00" width="7.25" height="12.90" fill="#f5b548"/><rect x="107.05" y="93.00" width="7.25" height="12.90" fill="#ee6a33"/><rect x="114.90" y="93.00" width="7.25" height="12.90" fill="#f5b548"/><rect x="122.75" y="93.00" width="7.25" height="12.90" fill="#f3943f"/><rect x="130.60" y="93.00" width="7.25" height="12.90" fill="#f07b38"/><rect x="138.45" y="93.00" width="7.25" height="12.90" fill="#f07b38"/><rect x="146.30" y="93.00" width="7.25" height="12.90" fill="#f3943f"/><rect x="154.15" y="93.00" width="7.25" height="12.90" fill="#f5b548"/><rect x="162.00" y="93.00" width="7.25" height="12.90" fill="#f5e24c"/><rect x="169.85" y="93.00" width="7.25" height="12.90" fill="#bed548"/><rect x="177.70" y="93.00" width="7.25" height="12.90" fill="#bed548"/><rect x="185.55" y="93.00" width="7.25" height="12.90" fill="#a2c949"/><rect x="193.40" y="93.00" width="7.25" height="12.90" fill="#86bd4a"/><rect x="201.25" y="93.00" width="7.25" height="12.90" fill="#86bd4a"/><rect x="20.70" y="106.50" width="7.25" height="12.90" fill="#4da648"/><rect x="28.55" y="106.50" width="7.25" height="12.90" fill="#3b8f3d"/><rect x="36.40" y="106.50" width="7.25" height="12.90" fill="#3b8f3d"/><rect x="44.25" y="106.50" width="7.25" height="12.90" fill="#3b8f3d"/><rect x="52.10" y="106.50" width="7.25" height="12.90" fill="#3b8f3d"/><rect x="59.95" y="106.50" width="7.25" height="12.90" fill="#3b8f3d"/><rect x="67.80" y="106.50" width="7.25" height="12.90" fill="#3b8f3d"/><rect x="75.65" y="106.50" width="7.25" height="12.90" fill="#4da648"/><rect x="83.50" y="106.50" width="7.25" height="12.90" fill="#86bd4a"/><rect x="91.35" y="106.50" width="7.25" height="12.90" fill="#bed548"/><rect x="99.20" y="106.50" width="7.25" height="12.90" fill="#f5e24c"/><rect x="107.05" y="106.50" width="7.25" height="12.90" fill="#f5b548"/><rect x="114.90" y="106.50" width="7.25" height="12.90" fill="#f5b548"/><rect x="122.75" y="106.50" width="7.25" height="12.90" fill="#f5b548"/><rect x="130.60" y="106.50" width="7.25" height="12.90" fill="#f5b548"/><rect x="138.45" y="106.50" width="7.25" height="12.90" fill="#f5b548"/><rect x="146.30" y="106.50" width="7.25" height="12.90" fill="#f5e24c"/><rect x="154.15" y="106.50" width="7.25" height="12.90" fill="#f5e24c"/><rect x="162.00" y="106.50" width="7.25" height="12.90" fill="#bed548"/><rect x="169.85" y="106.50" width="7.25" height="12.90" fill="#64af49"/><rect x="177.70" y="106.50" width="7.25" height="12.90" fill="#4da648"/><rect x="185.55" y="106.50" width="7.25" height="12.90" fill="#4da648"/><rect x="193.40" y="106.50" width="7.25" height="12.90" fill="#36893a"/><rect x="201.25" y="106.50" width="7.25" height="12.90" fill="#36893a"/><text x="17.90" y="33.25" font-size="3.6" fill="#8a8a8a" text-anchor="end">Mon</text><text x="17.90" y="46.75" font-size="3.6" fill="#8a8a8a" text-anchor="end">Tue</text><text x="17.90" y="60.25" font-size="3.6" fill="#8a8a8a" text-anchor="end">Wed</text><text x="17.90" y="73.75" font-size="3.6" fill="#8a8a8a" text-anchor="end">Thu</text><text x="17.90" y="87.25" font-size="3.6" fill="#8a8a8a" text-anchor="end">Fri</text><text x="17.90" y="100.75" font-size="3.6" fill="#8a8a8a" text-anchor="end">Sat</text><text x="17.90" y="114.25" font-size="3.6" fill="#8a8a8a" text-anchor="end">Sun</text><text transform="translate(25.53,121.50) rotate(-90)" font-size="3.3" fill="#8a8a8a" text-anchor="end">12AM</text><text transform="translate(33.38,121.50) rotate(-90)" font-size="3.3" fill="#8a8a8a" text-anchor="end">1AM</text><text transform="translate(41.23,121.50) rotate(-90)" font-size="3.3" fill="#8a8a8a" text-anchor="end">2AM</text><text transform="translate(49.08,121.50) rotate(-90)" font-size="3.3" fill="#8a8a8a" text-anchor="end">3AM</text><text transform="translate(56.93,121.50) rotate(-90)" font-size="3.3" fill="#8a8a8a" text-anchor="end">4AM</text><text transform="translate(64.78,121.50) rotate(-90)" font-size="3.3" fill="#8a8a8a" text-anchor="end">5AM</text><text transform="translate(72.63,121.50) rotate(-90)" font-size="3.3" fill="#8a8a8a" text-anchor="end">6AM</text><text transform="translate(80.48,121.50) rotate(-90)" font-size="3.3" fill="#8a8a8a" text-anchor="end">7AM</text><text transform="translate(88.33,121.50) rotate(-90)" font-size="3.3" fill="#8a8a8a" text-anchor="end">8AM</text><text transform="translate(96.18,121.50) rotate(-90)" font-size="3.3" fill="#8a8a8a" text-anchor="end">9AM</text><text transform="translate(104.03,121.50) rotate(-90)" font-size="3.3" fill="#8a8a8a" text-anchor="end">10AM</text><text transform="translate(111.88,121.50) rotate(-90)" font-size="3.3" fill="#8a8a8a" text-anchor="end">11AM</text><text transform="translate(119.73,121.50) rotate(-90)" font-size="3.3" fill="#8a8a8a" text-anchor="end">12PM</text><text transform="translate(127.58,121.50) rotate(-90)" font-size="3.3" fill="#8a8a8a" text-anchor="end">1PM</text><text transform="translate(135.43,121.50) rotate(-90)" font-size="3.3" fill="#8a8a8a" text-anchor="end">2PM</text><text transform="translate(143.28,121.50) rotate(-90)" font-size="3.3" fill="#8a8a8a" text-anchor="end">3PM</text><text transform="translate(151.13,121.50) rotate(-90)" font-size="3.3" fill="#8a8a8a" text-anchor="end">4PM</text><text transform="translate(158.98,121.50) rotate(-90)" font-size="3.3" fill="#8a8a8a" text-anchor="end">5PM</text><text transform="translate(166.83,121.50) rotate(-90)" font-size="3.3" fill="#8a8a8a" text-anchor="end">6PM</text><text transform="translate(174.68,121.50) rotate(-90)" font-size="3.3" fill="#8a8a8a" text-anchor="end">7PM</text><text transform="translate(182.53,121.50) rotate(-90)" font-size="3.3" fill="#8a8a8a" text-anchor="end">8PM</text><text transform="translate(190.38,121.50) rotate(-90)" font-size="3.3" fill="#8a8a8a" text-anchor="end">9PM</text><text transform="translate(198.23,121.50) rotate(-90)" font-size="3.3" fill="#8a8a8a" text-anchor="end">10PM</text><text transform="translate(206.08,121.50) rotate(-90)" font-size="3.3" fill="#8a8a8a" text-anchor="end">11PM</text><text transform="translate(5.80,72.45) rotate(-90)" font-size="4" fill="#777" text-anchor="middle">Day of Week</text><text x="101.00" y="139.80" font-size="5.2" fill="#777" text-anchor="middle">Hour of day</text><rect x="8.20" y="131.50" width="3.2" height="3.6" fill="#36893a"/><rect x="12.36" y="131.50" width="3.2" height="3.6" fill="#4da648"/><rect x="16.52" y="131.50" width="3.2" height="3.6" fill="#86bd4a"/><rect x="20.68" y="131.50" width="3.2" height="3.6" fill="#bed548"/><rect x="24.84" y="131.50" width="3.2" height="3.6" fill="#f5e24c"/><rect x="29.00" y="131.50" width="3.2" height="3.6" fill="#f5b548"/><rect x="33.16" y="131.50" width="3.2" height="3.6" fill="#f3943f"/><rect x="37.32" y="131.50" width="3.2" height="3.6" fill="#e23e27"/><rect x="41.48" y="131.50" width="3.2" height="3.6" fill="#c42222"/><text x="7.80" y="140.20" font-size="3.3" fill="#777">186</text><text x="39.00" y="140.20" font-size="3.3" fill="#777">13,315</text></svg></div>
<div class="panel" style="left:326.7px;top:160.7px;width:215.3px;height:146.3px"><div class="title" style="top:6.5px;letter-spacing:-0.17px">Hard Accelerations Heatmap</div><svg width="215.3" height="146.3" viewBox="0 0 215.3 146.3"><rect x="20.70" y="25.50" width="7.25" height="12.90" fill="#449a42"/><rect x="28.55" y="25.50" width="7.25" height="12.90" fill="#449a42"/><rect x="36.40" y="25.50" width="7.25" height="12.90" fill="#449a42"/><rect x="44.25" y="25.50" width="7.25" height="12.90" fill="#449a42"/><rect x="52.10" y="25.50" width="7.25" height="12.90" fill="#449a42"/><rect x="59.95" y="25.50" width="7.25" height="12.90" fill="#4da648"/><rect x="67.80" y="25.50" width="7.25" height="12.90" fill="#86bd4a"/><rect x="75.65" y="25.50" width="7.25" height="12.90" fill="#86bd4a"/><rect x="83.50" y="25.50" width="7.25" height="12.90" fill="#58ab48"/><rect x="91.35" y="25.50" width="7.25" height="12.90" fill="#58ab48"/><rect x="99.20" y="25.50" width="7.25" height="12.90" fill="#86bd4a"/><rect x="107.05" y="25.50" width="7.25" height="12.90" fill="#bed548"/><rect x="114.90" y="25.50" width="7.25" height="12.90" fill="#bed548"/><rect x="122.75" y="25.50" width="7.25" height="12.90" fill="#bed548"/><rect x="130.60" y="25.50" width="7.25" height="12.90" fill="#f5e24c"/><rect x="138.45" y="25.50" width="7.25" height="12.90" fill="#f5e24c"/><rect x="146.30" y="25.50" width="7.25" height="12.90" fill="#bed548"/><rect x="154.15" y="25.50" width="7.25" height="12.90" fill="#bed548"/><rect x="162.00" y="25.50" width="7.25" height="12.90" fill="#a8cb49"/><rect x="169.85" y="25.50" width="7.25" height="12.90" fill="#86bd4a"/><rect x="177.70" y="25.50" width="7.25" height="12.90" fill="#4da648"/><rect x="185.55" y="25.50" width="7.25" height="12.90" fill="#4da648"/><rect x="193.40" y="25.50" width="7.25" height="12.90" fill="#3b8f3d"/><rect x="201.25" y="25.50" width="7.25" height="12.90" fill="#48a045"/><rect x="20.70" y="39.00" width="7.25" height="12.90" fill="#36893a"/><rect x="28.55" y="39.00" width="7.25" height="12.90" fill="#36893a"/><rect x="36.40" y="39.00" width="7.25" height="12.90" fill="#36893a"/><rect x="44.25" y="39.00" width="7.25" height="12.90" fill="#36893a"/><rect x="52.10" y="39.00" width="7.25" height="12.90" fill="#36893a"/><rect x="59.95" y="39.00" width="7.25" height="12.90" fill="#86bd4a"/><rect x="67.80" y="39.00" width="7.25" height="12.90" fill="#bed548"/><rect x="75.65" y="39.00" width="7.25" height="12.90" fill="#86bd4a"/><rect x="83.50" y="39.00" width="7.25" height="12.90" fill="#86bd4a"/><rect x="91.35" y="39.00" width="7.25" height="12.90" fill="#86bd4a"/><rect x="99.20" y="39.00" width="7.25" height="12.90" fill="#86bd4a"/><rect x="107.05" y="39.00" width="7.25" height="12.90" fill="#86bd4a"/><rect x="114.90" y="39.00" width="7.25" height="12.90" fill="#86bd4a"/><rect x="122.75" y="39.00" width="7.25" height="12.90" fill="#bed548"/><rect x="130.60" y="39.00" width="7.25" height="12.90" fill="#f5e24c"/><rect x="138.45" y="39.00" width="7.25" height="12.90" fill="#f5e24c"/><rect x="146.30" y="39.00" width="7.25" height="12.90" fill="#f5e24c"/><rect x="154.15" y="39.00" width="7.25" height="12.90" fill="#bed548"/><rect x="162.00" y="39.00" width="7.25" height="12.90" fill="#86bd4a"/><rect x="169.85" y="39.00" width="7.25" height="12.90" fill="#86bd4a"/><rect x="177.70" y="39.00" width="7.25" height="12.90" fill="#4da648"/><rect x="185.55" y="39.00" width="7.25" height="12.90" fill="#4da648"/><rect x="193.40" y="39.00" width="7.25" height="12.90" fill="#4da648"/><rect x="201.25" y="39.00" width="7.25" height="12.90" fill="#36893a"/><rect x="20.70" y="52.50" width="7.25" height="12.90" fill="#36893a"/><rect x="28.55" y="52.50" width="7.25" height="12.90" fill="#36893a"/><rect x="36.40" y="52.50" width="7.25" height="12.90" fill="#36893a"/><rect x="44.25" y="52.50" width="7.25" height="12.90" fill="#36893a"/><rect x="52.10" y="52.50" width="7.25" height="12.90" fill="#36893a"/><rect x="59.95" y="52.50" width="7.25" height="12.90" fill="#86bd4a"/><rect x="67.80" y="52.50" width="7.25" height="12.90" fill="#bed548"/><rect x="75.65" y="52.50" width="7.25" height="12.90" fill="#bed548"/><rect x="83.50" y="52.50" width="7.25" height="12.90" fill="#86bd4a"/><rect x="91.35" y="52.50" width="7.25" height="12.90" fill="#86bd4a"/><rect x="99.20" y="52.50" width="7.25" height="12.90" fill="#86bd4a"/><rect x="107.05" y="52.50" width="7.25" height="12.90" fill="#bed548"/><rect x="114.90" y="52.50" width="7.25" height="12.90" fill="#bed548"/><rect x="122.75" y="52.50" width="7.25" height="12.90" fill="#bed548"/><rect x="130.60" y="52.50" width="7.25" height="12.90" fill="#f5e24c"/><rect x="138.45" y="52.50" width="7.25" height="12.90" fill="#f5e24c"/><rect x="146.30" y="52.50" width="7.25" height="12.90" fill="#f5e24c"/><rect x="154.15" y="52.50" width="7.25" height="12.90" fill="#f5e24c"/><rect x="162.00" y="52.50" width="7.25" height="12.90" fill="#bed548"/><rect x="169.85" y="52.50" width="7.25" height="12.90" fill="#86bd4a"/><rect x="177.70" y="52.50" width="7.25" height="12.90" fill="#4da648"/><rect x="185.55" y="52.50" width="7.25" height="12.90" fill="#4da648"/><rect x="193.40" y="52.50" width="7.25" height="12.90" fill="#4da648"/><rect x="201.25" y="52.50" width="7.25" height="12.90" fill="#36893a"/><rect x="20.70" y="66.00" width="7.25" height="12.90" fill="#36893a"/><rect x="28.55" y="66.00" width="7.25" height="12.90" fill="#36893a"/><rect x="36.40" y="66.00" width="7.25" height="12.90" fill="#36893a"/><rect x="44.25" y="66.00" width="7.25" height="12.90" fill="#36893a"/><rect x="52.10" y="66.00" width="7.25" height="12.90" fill="#36893a"/><rect x="59.95" y="66.00" width="7.25" height="12.90" fill="#86bd4a"/><rect x="67.80" y="66.00" width="7.25" height="12.90" fill="#bed548"/><rect x="75.65" y="66.00" width="7.25" height="12.90" fill="#bed548"/><rect x="83.50" y="66.00" width="7.25" height="12.90" fill="#86bd4a"/><rect x="91.35" y="66.00" width="7.25" height="12.90" fill="#86bd4a"/><rect x="99.20" y="66.00" width="7.25" height="12.90" fill="#86bd4a"/><rect x="107.05" y="66.00" width="7.25" height="12.90" fill="#bed548"/><rect x="114.90" y="66.00" width="7.25" height="12.90" fill="#bed548"/><rect x="122.75" y="66.00" width="7.25" height="12.90" fill="#f5e24c"/><rect x="130.60" y="66.00" width="7.25" height="12.90" fill="#f5b548"/><rect x="138.45" y="66.00" width="7.25" height="12.90" fill="#f5b548"/><rect x="146.30" y="66.00" width="7.25" height="12.90" fill="#f5b548"/><rect x="154.15" y="66.00" width="7.25" height="12.90" fill="#f5e24c"/><rect x="162.00" y="66.00" width="7.25" height="12.90" fill="#bed548"/><rect x="169.85" y="66.00" width="7.25" height="12.90" fill="#86bd4a"/><rect x="177.70" y="66.00" width="7.25" height="12.90" fill="#4da648"/><rect x="185.55" y="66.00" width="7.25" height="12.90" fill="#4da648"/><rect x="193.40" y="66.00" width="7.25" height="12.90" fill="#4da648"/><rect x="201.25" y="66.00" width="7.25" height="12.90" fill="#36893a"/><rect x="20.70" y="79.50" width="7.25" height="12.90" fill="#36893a"/><rect x="28.55" y="79.50" width="7.25" height="12.90" fill="#36893a"/><rect x="36.40" y="79.50" width="7.25" height="12.90" fill="#36893a"/><rect x="44.25" y="79.50" width="7.25" height="12.90" fill="#36893a"/><rect x="52.10" y="79.50" width="7.25" height="12.90" fill="#36893a"/><rect x="59.95" y="79.50" width="7.25" height="12.90" fill="#86bd4a"/><rect x="67.80" y="79.50" width="7.25" height="12.90" fill="#bed548"/><rect x="75.65" y="79.50" width="7.25" height="12.90" fill="#bed548"/><rect x="83.50" y="79.50" width="7.25" height="12.90" fill="#bed548"/><rect x="91.35" y="79.50" width="7.25" height="12.90" fill="#bed548"/><rect x="99.20" y="79.50" width="7.25" height="12.90" fill="#bed548"/><rect x="107.05" y="79.50" width="7.25" height="12.90" fill="#f5e24c"/><rect x="114.90" y="79.50" width="7.25" height="12.90" fill="#f5e24c"/><rect x="122.75" y="79.50" width="7.25" height="12.90" fill="#f5b548"/><rect x="130.60" y="79.50" width="7.25" height="12.90" fill="#c42222"/><rect x="138.45" y="79.50" width="7.25" height="12.90" fill="#c42222"/><rect x="146.30" y="79.50" width="7.25" height="12.90" fill="#ee6a33"/><rect x="154.15" y="79.50" width="7.25" height="12.90" fill="#e23e27"/><rect x="162.00" y="79.50" width="7.25" height="12.90" fill="#f5e24c"/><rect x="169.85" y="79.50" width="7.25" height="12.90" fill="#bed548"/><rect x="177.70" y="79.50" width="7.25" height="12.90" fill="#86bd4a"/><rect x="185.55" y="79.50" width="7.25" height="12.90" fill="#86bd4a"/><rect x="193.40" y="79.50" width="7.25" height="12.90" fill="#86bd4a"/><rect x="201.25" y="79.50" width="7.25" height="12.90" fill="#86bd4a"/><rect x="20.70" y="93.00" width="7.25" height="12.90" fill="#6ab249"/><rect x="28.55" y="93.00" width="7.25" height="12.90" fill="#4da648"/><rect x="36.40" y="93.00" width="7.25" height="12.90" fill="#3f9540"/><rect x="44.25" y="93.00" width="7.25" height="12.90" fill="#3f9540"/><rect x="52.10" y="93.00" width="7.25" height="12.90" fill="#3f9540"/><rect x="59.95" y="93.00" width="7.25" height="12.90" fill="#36893a"/><rect x="67.80" y="93.00" width="7.25" height="12.90" fill="#4da648"/><rect x="75.65" y="93.00" width="7.25" height="12.90" fill="#4da648"/><rect x="83.50" y="93.00" width="7.25" height="12.90" fill="#bed548"/><rect x="91.35" y="93.00" width="7.25" height="12.90" fill="#9cc749"/><rect x="99.20" y="93.00" width="7.25" height="12.90" fill="#bed548"/><rect x="107.05" y="93.00" width="7.25" height="12.90" fill="#bed548"/><rect x="114.90" y="93.00" width="7.25" height="12.90" fill="#f5e24c"/><rect x="122.75" y="93.00" width="7.25" height="12.90" fill="#f5e24c"/><rect x="130.60" y="93.00" width="7.25" height="12.90" fill="#f5e24c"/><rect x="138.45" y="93.00" width="7.25" height="12.90" fill="#f5e24c"/><rect x="146.30" y="93.00" width="7.25" height="12.90" fill="#f5b548"/><rect x="154.15" y="93.00" width="7.25" height="12.90" fill="#f5e24c"/><rect x="162.00" y="93.00" width="7.25" height="12.90" fill="#bed548"/><rect x="169.85" y="93.00" width="7.25" height="12.90" fill="#bed548"/><rect x="177.70" y="93.00" width="7.25" height="12.90" fill="#bed548"/><rect x="185.55" y="93.00" width="7.25" height="12.90" fill="#91c24a"/><rect x="193.40" y="93.00" width="7.25" height="12.90" fill="#86bd4a"/><rect x="201.25" y="93.00" width="7.25" height="12.90" fill="#86bd4a"/><rect x="20.70" y="106.50" width="7.25" height="12.90" fill="#86bd4a"/><rect x="28.55" y="106.50" width="7.25" height="12.90" fill="#4da648"/><rect x="36.40" y="106.50" width="7.25" height="12.90" fill="#3d923e"/><rect x="44.25" y="106.50" width="7.25" height="12.90" fill="#3d923e"/><rect x="52.10" y="106.50" width="7.25" height="12.90" fill="#3d923e"/><rect x="59.95" y="106.50" width="7.25" height="12.90" fill="#36893a"/><rect x="67.80" y="106.50" width="7.25" height="12.90" fill="#36893a"/><rect x="75.65" y="106.50" width="7.25" height="12.90" fill="#3d923e"/><rect x="83.50" y="106.50" width="7.25" height="12.90" fill="#86bd4a"/><rect x="91.35" y="106.50" width="7.25" height="12.90" fill="#86bd4a"/><rect x="99.20" y="106.50" width="7.25" height="12.90" fill="#86bd4a"/><rect x="107.05" y="106.50" width="7.25" height="12.90" fill="#bed548"/><rect x="114.90" y="106.50" width="7.25" height="12.90" fill="#f5e24c"/><rect x="122.75" y="106.50" width="7.25" height="12.90" fill="#f5e24c"/><rect x="130.60" y="106.50" width="7.25" height="12.90" fill="#bed548"/><rect x="138.45" y="106.50" width="7.25" height="12.90" fill="#bed548"/><rect x="146.30" y="106.50" width="7.25" height="12.90" fill="#bed548"/><rect x="154.15" y="106.50" width="7.25" height="12.90" fill="#bed548"/><rect x="162.00" y="106.50" width="7.25" height="12.90" fill="#86bd4a"/><rect x="169.85" y="106.50" width="7.25" height="12.90" fill="#86bd4a"/><rect x="177.70" y="106.50" width="7.25" height="12.90" fill="#86bd4a"/><rect x="185.55" y="106.50" width="7.25" height="12.90" fill="#4da648"/><rect x="193.40" y="106.50" width="7.25" height="12.90" fill="#469d44"/><rect x="201.25" y="106.50" width="7.25" height="12.90" fill="#4da648"/><text x="17.90" y="33.25" font-size="3.6" fill="#8a8a8a" text-anchor="end">Mon</text><text x="17.90" y="46.75" font-size="3.6" fill="#8a8a8a" text-anchor="end">Tue</text><text x="17.90" y="60.25" font-size="3.6" fill="#8a8a8a" text-anchor="end">Wed</text><text x="17.90" y="73.75" font-size="3.6" fill="#8a8a8a" text-anchor="end">Thu</text><text x="17.90" y="87.25" font-size="3.6" fill="#8a8a8a" text-anchor="end">Fri</text><text x="17.90" y="100.75" font-size="3.6" fill="#8a8a8a" text-anchor="end">Sat</text><text x="17.90" y="114.25" font-size="3.6" fill="#8a8a8a" text-anchor="end">Sun</text><text transform="translate(25.53,121.50) rotate(-90)" font-size="3.3" fill="#8a8a8a" text-anchor="end">12AM</text><text transform="translate(33.38,121.50) rotate(-90)" font-size="3.3" fill="#8a8a8a" text-anchor="end">1AM</text><text transform="translate(41.23,121.50) rotate(-90)" font-size="3.3" fill="#8a8a8a" text-anchor="end">2AM</text><text transform="translate(49.08,121.50) rotate(-90)" font-size="3.3" fill="#8a8a8a" text-anchor="end">3AM</text><text transform="translate(56.93,121.50) rotate(-90)" font-size="3.3" fill="#8a8a8a" text-anchor="end">4AM</text><text transform="translate(64.78,121.50) rotate(-90)" font-size="3.3" fill="#8a8a8a" text-anchor="end">5AM</text><text transform="translate(72.63,121.50) rotate(-90)" font-size="3.3" fill="#8a8a8a" text-anchor="end">6AM</text><text transform="translate(80.48,121.50) rotate(-90)" font-size="3.3" fill="#8a8a8a" text-anchor="end">7AM</text><text transform="translate(88.33,121.50) rotate(-90)" font-size="3.3" fill="#8a8a8a" text-anchor="end">8AM</text><text transform="translate(96.18,121.50) rotate(-90)" font-size="3.3" fill="#8a8a8a" text-anchor="end">9AM</text><text transform="translate(104.03,121.50) rotate(-90)" font-size="3.3" fill="#8a8a8a" text-anchor="end">10AM</text><text transform="translate(111.88,121.50) rotate(-90)" font-size="3.3" fill="#8a8a8a" text-anchor="end">11AM</text><text transform="translate(119.73,121.50) rotate(-90)" font-size="3.3" fill="#8a8a8a" text-anchor="end">12PM</text><text transform="translate(127.58,121.50) rotate(-90)" font-size="3.3" fill="#8a8a8a" text-anchor="end">1PM</text><text transform="translate(135.43,121.50) rotate(-90)" font-size="3.3" fill="#8a8a8a" text-anchor="end">2PM</text><text transform="translate(143.28,121.50) rotate(-90)" font-size="3.3" fill="#8a8a8a" text-anchor="end">3PM</text><text transform="translate(151.13,121.50) rotate(-90)" font-size="3.3" fill="#8a8a8a" text-anchor="end">4PM</text><text transform="translate(158.98,121.50) rotate(-90)" font-size="3.3" fill="#8a8a8a" text-anchor="end">5PM</text><text transform="translate(166.83,121.50) rotate(-90)" font-size="3.3" fill="#8a8a8a" text-anchor="end">6PM</text><text transform="translate(174.68,121.50) rotate(-90)" font-size="3.3" fill="#8a8a8a" text-anchor="end">7PM</text><text transform="translate(182.53,121.50) rotate(-90)" font-size="3.3" fill="#8a8a8a" text-anchor="end">8PM</text><text transform="translate(190.38,121.50) rotate(-90)" font-size="3.3" fill="#8a8a8a" text-anchor="end">9PM</text><text transform="translate(198.23,121.50) rotate(-90)" font-size="3.3" fill="#8a8a8a" text-anchor="end">10PM</text><text transform="translate(206.08,121.50) rotate(-90)" font-size="3.3" fill="#8a8a8a" text-anchor="end">11PM</text><text transform="translate(5.80,72.45) rotate(-90)" font-size="4" fill="#777" text-anchor="middle">Day of Week</text><text x="101.00" y="139.80" font-size="5.2" fill="#777" text-anchor="middle">Hour of day</text><rect x="8.20" y="131.50" width="3.2" height="3.6" fill="#36893a"/><rect x="12.36" y="131.50" width="3.2" height="3.6" fill="#4da648"/><rect x="16.52" y="131.50" width="3.2" height="3.6" fill="#86bd4a"/><rect x="20.68" y="131.50" width="3.2" height="3.6" fill="#bed548"/><rect x="24.84" y="131.50" width="3.2" height="3.6" fill="#f5e24c"/><rect x="29.00" y="131.50" width="3.2" height="3.6" fill="#f5b548"/><rect x="33.16" y="131.50" width="3.2" height="3.6" fill="#f3943f"/><rect x="37.32" y="131.50" width="3.2" height="3.6" fill="#e23e27"/><rect x="41.48" y="131.50" width="3.2" height="3.6" fill="#c42222"/><text x="7.80" y="140.20" font-size="3.3" fill="#777">69</text><text x="39.00" y="140.20" font-size="3.3" fill="#777">3,716</text></svg></div>
<div class="panel" style="left:6.5px;top:200.7px;width:151.5px;height:106.3px"><div class="title" style="top:6.5px;letter-spacing:-0.15px">Avg Diffs</div><svg width="151.5" height="106.3" viewBox="0 0 151.5 106.3"><line x1="1.5" x2="150.0" y1="23.30000000000001" y2="23.30000000000001" stroke="#ececec" stroke-width="0.6"/><text transform="translate(24.35,84.50) scale(1.16,1)" x="0" y="0" font-size="57.9" fill="#2aa3ef" stroke="#fff" stroke-width="1.2" text-anchor="middle">2</text><text transform="translate(58.50,84.50) scale(1.16,1)" x="0" y="0" font-size="57.9" fill="#2aa3ef" stroke="#fff" stroke-width="1.2" text-anchor="middle">7</text><text transform="translate(74.70,84.50) scale(1.16,1)" x="0" y="0" font-size="57.9" fill="#2aa3ef" stroke="#fff" stroke-width="1.2" text-anchor="middle">.</text><text transform="translate(96.65,84.50) scale(1.16,1)" x="0" y="0" font-size="57.9" fill="#2aa3ef" stroke="#fff" stroke-width="1.2" text-anchor="middle">7</text><text transform="translate(128.80,84.50) scale(1.16,1)" x="0" y="0" font-size="57.9" fill="#2aa3ef" stroke="#fff" stroke-width="1.2" text-anchor="middle">5</text></svg></div>
<div class="panel" style="left:166.7px;top:200.7px;width:151.5px;height:106.3px"><div class="title" style="top:6.5px;letter-spacing:-0.15px">Avg Diffs By Direction</div><svg width="151.5" height="106.3" viewBox="0 0 151.5 106.3"><line x1="1.5" x2="150.0" y1="23.30000000000001" y2="23.30000000000001" stroke="#ececec" stroke-width="0.6"/><rect x="19.20" y="28.70" width="112.50" height="8.5" fill="#49a7f1"/><text x="24.10" y="34.90" font-size="5.9" font-weight="bold" fill="#2c3e50" letter-spacing="0.32">WESTBOUND</text><text x="128.50" y="35.10" font-size="6.5" fill="#3f4a55" text-anchor="end">29.19</text><rect x="19.20" y="40.10" width="109.20" height="8.5" fill="#d5e67b"/><text x="24.10" y="46.30" font-size="5.9" font-weight="bold" fill="#2c3e50" letter-spacing="0.32">EASTBOUND</text><text x="125.20" y="46.50" font-size="6.5" fill="#3f4a55" text-anchor="end">28.32</text><rect x="19.20" y="51.40" width="98.50" height="8.5" fill="#58d3d1"/><text x="24.10" y="57.60" font-size="5.9" font-weight="bold" fill="#2c3e50" letter-spacing="0.32">SOUTHBOUND</text><text x="114.50" y="57.80" font-size="6.5" fill="#3f4a55" text-anchor="end">25.63</text><rect x="19.20" y="62.70" width="95.20" height="8.5" fill="#49a7f1"/><text x="24.10" y="68.90" font-size="5.9" font-weight="bold" fill="#2c3e50" letter-spacing="0.32">NORTHBOUND</text><text x="111.20" y="69.10" font-size="6.5" fill="#3f4a55" text-anchor="end">24.71</text><line x1="19.20" x2="131.90" y1="77.30" y2="77.30" stroke="#ccc" stroke-width="0.5"/><line x1="19.20" x2="19.20" y1="77.30" y2="78.90" stroke="#ccc" stroke-width="0.5"/><text x="19.20" y="86.10" font-size="5" fill="#888" text-anchor="middle">0.0</text><line x1="57.73" x2="57.73" y1="77.30" y2="78.90" stroke="#ccc" stroke-width="0.5"/><text x="57.73" y="86.10" font-size="5" fill="#888" text-anchor="middle">10</text><line x1="96.26" x2="96.26" y1="77.30" y2="78.90" stroke="#ccc" stroke-width="0.5"/><text x="96.26" y="86.10" font-size="5" fill="#888" text-anchor="middle">20</text><line x1="131.70" x2="131.70" y1="77.30" y2="78.90" stroke="#ccc" stroke-width="0.5"/></svg></div>
<svg style="left:5.4px;top:313.4px" width="535.4" height="214.4" viewBox="5.4 313.4 535.4 214.4"><defs><clipPath id="mo"><polygon points="333.8,313.0 328.7,322.7 321.0,333.0 314.7,343.0 313.4,350.7 317.3,361.0 322.3,371.0 327.4,381.2 331.2,391.4 332.5,401.6 331.6,411.8 332.5,422.6 330.0,432.8 323.6,443.0 314.7,453.2 305.8,463.3 298.2,473.5 291.8,483.7 286.7,493.9 281.6,504.0 277.8,516.8 276.5,528.2 0.0,528.2 0.0,313.0"/></clipPath></defs><rect x="5.4" y="313.4" width="535.4" height="214.4" fill="#2f2e2d"/><polyline points="333.8,313.0 328.7,322.7 321.0,333.0 314.7,343.0 313.4,350.7 317.3,361.0 322.3,371.0 327.4,381.2 331.2,391.4 332.5,401.6 331.6,411.8 332.5,422.6" fill="none" stroke="#1f1f1f" stroke-width="8" stroke-linejoin="round"/><polyline points="332.5,422.6 330.0,432.8 323.6,443.0 314.7,453.2 305.8,463.3 298.2,473.5 291.8,483.7 286.7,493.9 281.6,504.0 277.8,516.8 276.5,528.2" fill="none" stroke="#202020" stroke-width="5.6" stroke-linejoin="round"/><path d="M358.6 313 L330 362.6" stroke="#1c1c1c" stroke-width="1.3" fill="none"/><path d="M352.5 313 L333 347.6" stroke="#1c1c1c" stroke-width="0.9" fill="none"/><path d="M340 321 l6 -2 l4 3 l-3 5 l-5 4 l-4 -2 z M345 334 l4 -3 l2 2 l-4 5 z M336 338 l3 -4 l2 1 l-3 6 z" fill="#1c1c1c"/><path d="M369 385 L373 376 L378 367 L385.6 360.4 L393 358 L397 361" fill="none" stroke="#202020" stroke-width="3" stroke-linejoin="round" stroke-linecap="round"/><path d="M393 358.5 L392 368 L389.5 378 L391 387" fill="none" stroke="#202020" stroke-width="2.4" stroke-linejoin="round" stroke-linecap="round"/><path d="M414 352 q3 5 1 10 M420 350 q3 6 0 12" fill="none" stroke="#1c1c1c" stroke-width="1"/><rect x="462.7" y="472.0" width="1.9" height="1.2" fill="#1c1c1c" transform="rotate(166 462.7 472.0)"/><rect x="524.1" y="320.2" width="1.3" height="1.2" fill="#1c1c1c" transform="rotate(166 524.1 320.2)"/><rect x="345.6" y="347.4" width="1.1" height="1.2" fill="#1c1c1c" transform="rotate(97 345.6 347.4)"/><rect x="446.5" y="436.2" width="0.5" height="0.6" fill="#1c1c1c" transform="rotate(71 446.5 436.2)"/><rect x="372.3" y="498.8" width="1.2" height="1.1" fill="#1c1c1c" transform="rotate(18 372.3 498.8)"/><rect x="363.4" y="445.5" width="0.7" height="0.4" fill="#1c1c1c" transform="rotate(1 363.4 445.5)"/><rect x="377.9" y="359.9" width="2.2" height="1.2" fill="#1c1c1c" transform="rotate(74 377.9 359.9)"/><rect x="399.3" y="356.4" width="2.0" height="1.0" fill="#1c1c1c" transform="rotate(46 399.3 356.4)"/><rect x="527.9" y="461.1" width="2.1" height="1.2" fill="#1c1c1c" transform="rotate(76 527.9 461.1)"/><rect x="339.4" y="402.4" width="2.1" height="0.6" fill="#1c1c1c" transform="rotate(84 339.4 402.4)"/><rect x="396.8" y="442.5" width="0.5" height="1.0" fill="#1c1c1c" transform="rotate(86 396.8 442.5)"/><rect x="348.5" y="389.7" width="1.0" height="1.0" fill="#1c1c1c" transform="rotate(47 348.5 389.7)"/><rect x="433.6" y="464.1" width="0.6" height="1.3" fill="#1c1c1c" transform="rotate(5 433.6 464.1)"/><rect x="529.6" y="390.2" width="1.2" height="0.9" fill="#1c1c1c" transform="rotate(107 529.6 390.2)"/><rect x="410.1" y="437.2" width="0.5" height="0.4" fill="#1c1c1c" transform="rotate(46 410.1 437.2)"/><rect x="462.9" y="517.3" width="0.7" height="0.6" fill="#1c1c1c" transform="rotate(118 462.9 517.3)"/><rect x="405.6" y="389.6" width="1.4" height="1.1" fill="#1c1c1c" transform="rotate(27 405.6 389.6)"/><rect x="455.9" y="480.4" width="1.1" height="0.7" fill="#1c1c1c" transform="rotate(110 455.9 480.4)"/><rect x="528.9" y="333.4" width="1.1" height="0.9" fill="#1c1c1c" transform="rotate(37 528.9 333.4)"/><rect x="404.7" y="510.9" width="1.4" height="0.7" fill="#1c1c1c" transform="rotate(81 404.7 510.9)"/><rect x="397.8" y="484.1" width="1.6" height="1.0" fill="#1c1c1c" transform="rotate(79 397.8 484.1)"/><rect x="539.3" y="348.4" width="0.6" height="1.3" fill="#1c1c1c" transform="rotate(136 539.3 348.4)"/><rect x="524.3" y="320.8" width="1.8" height="0.7" fill="#1c1c1c" transform="rotate(64 524.3 320.8)"/><rect x="428.4" y="403.8" width="0.6" height="1.2" fill="#1c1c1c" transform="rotate(8 428.4 403.8)"/><rect x="499.3" y="385.2" width="0.9" height="1.3" fill="#1c1c1c" transform="rotate(144 499.3 385.2)"/><rect x="529.7" y="448.3" width="1.8" height="0.5" fill="#1c1c1c" transform="rotate(111 529.7 448.3)"/><rect x="411.5" y="326.5" width="1.2" height="0.5" fill="#1c1c1c" transform="rotate(158 411.5 326.5)"/><rect x="509.7" y="521.9" width="1.3" height="0.8" fill="#1c1c1c" transform="rotate(81 509.7 521.9)"/><rect x="433.2" y="376.0" width="1.2" height="0.5" fill="#1c1c1c" transform="rotate(96 433.2 376.0)"/><rect x="503.5" y="427.3" width="0.8" height="1.2" fill="#1c1c1c" transform="rotate(86 503.5 427.3)"/><rect x="371.9" y="418.8" width="1.4" height="0.9" fill="#1c1c1c" transform="rotate(128 371.9 418.8)"/><rect x="409.1" y="481.4" width="1.8" height="1.0" fill="#1c1c1c" transform="rotate(169 409.1 481.4)"/><rect x="342.0" y="379.1" width="1.5" height="1.0" fill="#1c1c1c" transform="rotate(124 342.0 379.1)"/><rect x="389.3" y="522.9" width="1.7" height="1.3" fill="#1c1c1c" transform="rotate(87 389.3 522.9)"/><rect x="468.2" y="437.7" width="0.5" height="0.9" fill="#1c1c1c" transform="rotate(64 468.2 437.7)"/><rect x="401.8" y="372.3" width="1.0" height="0.9" fill="#1c1c1c" transform="rotate(172 401.8 372.3)"/><rect x="498.5" y="388.1" width="1.6" height="1.1" fill="#1c1c1c" transform="rotate(104 498.5 388.1)"/><rect x="406.8" y="493.5" width="2.0" height="1.0" fill="#1c1c1c" transform="rotate(93 406.8 493.5)"/><rect x="531.1" y="424.4" width="1.4" height="0.5" fill="#1c1c1c" transform="rotate(92 531.1 424.4)"/><rect x="527.2" y="415.7" width="1.7" height="1.0" fill="#1c1c1c" transform="rotate(106 527.2 415.7)"/><rect x="370.2" y="480.2" width="1.5" height="1.0" fill="#1c1c1c" transform="rotate(107 370.2 480.2)"/><rect x="397.0" y="431.8" width="2.0" height="0.6" fill="#1c1c1c" transform="rotate(7 397.0 431.8)"/><rect x="375.1" y="438.9" width="1.6" height="0.6" fill="#1c1c1c" transform="rotate(175 375.1 438.9)"/><rect x="372.0" y="467.0" width="2.2" height="1.3" fill="#1c1c1c" transform="rotate(42 372.0 467.0)"/><rect x="346.1" y="342.4" width="1.0" height="0.6" fill="#1c1c1c" transform="rotate(49 346.1 342.4)"/><rect x="447.4" y="402.5" width="1.1" height="1.0" fill="#1c1c1c" transform="rotate(18 447.4 402.5)"/><rect x="456.0" y="364.7" width="2.0" height="0.4" fill="#1c1c1c" transform="rotate(103 456.0 364.7)"/><rect x="530.2" y="496.3" width="2.0" height="1.0" fill="#1c1c1c" transform="rotate(140 530.2 496.3)"/><rect x="411.6" y="321.7" width="1.5" height="0.5" fill="#1c1c1c" transform="rotate(139 411.6 321.7)"/><rect x="440.1" y="516.6" width="1.0" height="0.7" fill="#1c1c1c" transform="rotate(33 440.1 516.6)"/><rect x="420.9" y="487.2" width="1.6" height="0.7" fill="#1c1c1c" transform="rotate(36 420.9 487.2)"/><rect x="367.1" y="395.5" width="1.3" height="0.6" fill="#1c1c1c" transform="rotate(34 367.1 395.5)"/><rect x="459.8" y="388.8" width="2.0" height="0.4" fill="#1c1c1c" transform="rotate(27 459.8 388.8)"/><rect x="401.8" y="509.2" width="1.4" height="0.7" fill="#1c1c1c" transform="rotate(144 401.8 509.2)"/><rect x="412.0" y="405.9" width="0.9" height="0.7" fill="#1c1c1c" transform="rotate(97 412.0 405.9)"/><rect x="413.7" y="496.1" width="0.8" height="0.9" fill="#1c1c1c" transform="rotate(77 413.7 496.1)"/><rect x="436.7" y="402.5" width="1.0" height="1.3" fill="#1c1c1c" transform="rotate(125 436.7 402.5)"/><rect x="525.6" y="344.5" width="0.5" height="1.0" fill="#1c1c1c" transform="rotate(113 525.6 344.5)"/><rect x="385.3" y="322.5" width="0.7" height="0.8" fill="#1c1c1c" transform="rotate(122 385.3 322.5)"/><rect x="444.2" y="372.3" width="2.1" height="1.1" fill="#1c1c1c" transform="rotate(62 444.2 372.3)"/><rect x="435.5" y="493.8" width="1.7" height="0.7" fill="#1c1c1c" transform="rotate(126 435.5 493.8)"/><rect x="459.6" y="415.1" width="1.6" height="0.9" fill="#1c1c1c" transform="rotate(30 459.6 415.1)"/><rect x="338.3" y="340.8" width="1.0" height="1.0" fill="#1c1c1c" transform="rotate(157 338.3 340.8)"/><rect x="395.8" y="426.9" width="1.3" height="0.7" fill="#1c1c1c" transform="rotate(151 395.8 426.9)"/><rect x="362.2" y="314.6" width="1.4" height="1.0" fill="#1c1c1c" transform="rotate(27 362.2 314.6)"/><rect x="517.0" y="430.2" width="0.5" height="1.1" fill="#1c1c1c" transform="rotate(109 517.0 430.2)"/><rect x="457.0" y="460.8" width="2.1" height="1.0" fill="#1c1c1c" transform="rotate(98 457.0 460.8)"/><rect x="432.5" y="459.3" width="1.7" height="1.2" fill="#1c1c1c" transform="rotate(119 432.5 459.3)"/><rect x="505.2" y="328.1" width="1.9" height="1.0" fill="#1c1c1c" transform="rotate(110 505.2 328.1)"/><rect x="454.3" y="452.1" width="1.3" height="0.7" fill="#1c1c1c" transform="rotate(42 454.3 452.1)"/><rect x="433.1" y="431.0" width="1.3" height="0.7" fill="#1c1c1c" transform="rotate(39 433.1 431.0)"/><rect x="422.2" y="429.3" width="0.6" height="1.1" fill="#1c1c1c" transform="rotate(68 422.2 429.3)"/><rect x="503.0" y="482.6" width="1.6" height="0.4" fill="#1c1c1c" transform="rotate(109 503.0 482.6)"/><rect x="535.6" y="526.6" width="1.7" height="0.4" fill="#1c1c1c" transform="rotate(31 535.6 526.6)"/><rect x="379.9" y="451.5" width="2.1" height="1.0" fill="#1c1c1c" transform="rotate(34 379.9 451.5)"/><rect x="538.8" y="464.3" width="1.2" height="0.6" fill="#1c1c1c" transform="rotate(47 538.8 464.3)"/><rect x="419.9" y="348.3" width="1.6" height="0.4" fill="#1c1c1c" transform="rotate(27 419.9 348.3)"/><rect x="470.3" y="472.8" width="1.0" height="0.9" fill="#1c1c1c" transform="rotate(30 470.3 472.8)"/><rect x="487.2" y="501.1" width="0.7" height="0.8" fill="#1c1c1c" transform="rotate(80 487.2 501.1)"/><rect x="475.5" y="418.3" width="1.1" height="1.0" fill="#1c1c1c" transform="rotate(14 475.5 418.3)"/><rect x="363.3" y="376.8" width="1.5" height="1.0" fill="#1c1c1c" transform="rotate(74 363.3 376.8)"/><rect x="521.6" y="432.2" width="1.6" height="0.6" fill="#1c1c1c" transform="rotate(141 521.6 432.2)"/><rect x="383.3" y="491.3" width="1.0" height="1.3" fill="#1c1c1c" transform="rotate(60 383.3 491.3)"/><rect x="512.0" y="410.6" width="1.2" height="0.5" fill="#1c1c1c" transform="rotate(4 512.0 410.6)"/><rect x="469.3" y="332.2" width="1.6" height="0.5" fill="#1c1c1c" transform="rotate(31 469.3 332.2)"/><rect x="438.8" y="410.6" width="1.2" height="0.8" fill="#1c1c1c" transform="rotate(82 438.8 410.6)"/><rect x="357.1" y="427.0" width="1.4" height="0.7" fill="#1c1c1c" transform="rotate(38 357.1 427.0)"/><rect x="528.6" y="405.4" width="1.9" height="1.1" fill="#1c1c1c" transform="rotate(21 528.6 405.4)"/><rect x="534.4" y="455.7" width="1.9" height="0.5" fill="#1c1c1c" transform="rotate(159 534.4 455.7)"/><rect x="412.1" y="492.0" width="1.0" height="1.2" fill="#1c1c1c" transform="rotate(89 412.1 492.0)"/><rect x="498.2" y="394.5" width="1.7" height="0.7" fill="#1c1c1c" transform="rotate(75 498.2 394.5)"/><rect x="499.9" y="406.3" width="1.9" height="0.9" fill="#1c1c1c" transform="rotate(151 499.9 406.3)"/><rect x="538.6" y="359.8" width="0.8" height="0.5" fill="#1c1c1c" transform="rotate(9 538.6 359.8)"/><rect x="341.8" y="357.1" width="0.6" height="1.2" fill="#1c1c1c" transform="rotate(123 341.8 357.1)"/><rect x="470.6" y="388.2" width="1.2" height="0.7" fill="#1c1c1c" transform="rotate(158 470.6 388.2)"/><rect x="524.0" y="382.9" width="1.3" height="0.6" fill="#1c1c1c" transform="rotate(167 524.0 382.9)"/><rect x="367.6" y="393.8" width="1.2" height="1.2" fill="#1c1c1c" transform="rotate(38 367.6 393.8)"/><rect x="448.2" y="337.5" width="1.9" height="1.1" fill="#1c1c1c" transform="rotate(172 448.2 337.5)"/><rect x="383.2" y="416.7" width="0.6" height="1.2" fill="#1c1c1c" transform="rotate(94 383.2 416.7)"/><rect x="399.8" y="326.5" width="0.5" height="0.8" fill="#1c1c1c" transform="rotate(39 399.8 326.5)"/><rect x="359.2" y="456.4" width="1.0" height="1.0" fill="#1c1c1c" transform="rotate(41 359.2 456.4)"/><rect x="341.9" y="466.3" width="1.5" height="1.0" fill="#1c1c1c" transform="rotate(158 341.9 466.3)"/><rect x="417.2" y="521.4" width="1.1" height="0.7" fill="#1c1c1c" transform="rotate(119 417.2 521.4)"/><rect x="409.1" y="328.2" width="2.2" height="0.8" fill="#1c1c1c" transform="rotate(61 409.1 328.2)"/><rect x="371.0" y="358.5" width="0.6" height="0.9" fill="#1c1c1c" transform="rotate(69 371.0 358.5)"/><rect x="336.3" y="327.0" width="1.8" height="0.8" fill="#1c1c1c" transform="rotate(11 336.3 327.0)"/><rect x="341.8" y="492.0" width="1.9" height="0.9" fill="#1c1c1c" transform="rotate(24 341.8 492.0)"/><rect x="481.9" y="364.5" width="1.9" height="0.5" fill="#1c1c1c" transform="rotate(120 481.9 364.5)"/><rect x="346.0" y="365.9" width="0.6" height="0.8" fill="#1c1c1c" transform="rotate(15 346.0 365.9)"/><rect x="344.8" y="491.5" width="1.3" height="1.0" fill="#1c1c1c" transform="rotate(9 344.8 491.5)"/><rect x="529.8" y="355.4" width="1.7" height="1.0" fill="#1c1c1c" transform="rotate(48 529.8 355.4)"/><rect x="443.9" y="332.0" width="1.0" height="0.5" fill="#1c1c1c" transform="rotate(138 443.9 332.0)"/><rect x="537.0" y="348.5" width="0.6" height="1.1" fill="#1c1c1c" transform="rotate(159 537.0 348.5)"/><rect x="338.6" y="428.9" width="1.3" height="0.9" fill="#1c1c1c" transform="rotate(96 338.6 428.9)"/><rect x="442.1" y="342.3" width="0.5" height="1.1" fill="#1c1c1c" transform="rotate(176 442.1 342.3)"/><rect x="427.1" y="490.0" width="0.9" height="0.5" fill="#1c1c1c" transform="rotate(79 427.1 490.0)"/><rect x="434.1" y="480.1" width="0.9" height="0.8" fill="#1c1c1c" transform="rotate(33 434.1 480.1)"/><rect x="361.6" y="331.5" width="0.9" height="0.5" fill="#1c1c1c" transform="rotate(109 361.6 331.5)"/><rect x="533.4" y="455.9" width="1.0" height="0.8" fill="#1c1c1c" transform="rotate(63 533.4 455.9)"/><rect x="344.8" y="356.6" width="1.0" height="0.7" fill="#1c1c1c" transform="rotate(25 344.8 356.6)"/><rect x="349.7" y="477.9" width="1.1" height="1.1" fill="#1c1c1c" transform="rotate(0 349.7 477.9)"/><rect x="518.7" y="453.3" width="1.8" height="0.9" fill="#1c1c1c" transform="rotate(113 518.7 453.3)"/><rect x="364.4" y="460.5" width="1.8" height="0.4" fill="#1c1c1c" transform="rotate(12 364.4 460.5)"/><rect x="478.7" y="371.0" width="1.9" height="0.7" fill="#1c1c1c" transform="rotate(33 478.7 371.0)"/><rect x="400.9" y="379.3" width="0.7" height="0.8" fill="#1c1c1c" transform="rotate(82 400.9 379.3)"/><rect x="393.5" y="327.5" width="1.8" height="0.9" fill="#1c1c1c" transform="rotate(7 393.5 327.5)"/><rect x="359.9" y="520.5" width="1.9" height="0.8" fill="#1c1c1c" transform="rotate(66 359.9 520.5)"/><rect x="529.6" y="444.4" width="0.9" height="0.8" fill="#1c1c1c" transform="rotate(92 529.6 444.4)"/><rect x="376.2" y="390.3" width="0.8" height="1.0" fill="#1c1c1c" transform="rotate(41 376.2 390.3)"/><rect x="484.0" y="334.3" width="1.4" height="0.6" fill="#1c1c1c" transform="rotate(36 484.0 334.3)"/><ellipse cx="380" cy="444" rx="5" ry="1.4" fill="#232323" transform="rotate(30 380 444)"/><ellipse cx="388" cy="455" rx="2.4" ry="4" fill="#232323" transform="rotate(10 388 455)"/><ellipse cx="365" cy="480" rx="4" ry="1.1" fill="#232323" transform="rotate(-20 365 480)"/><ellipse cx="342" cy="470" rx="2.5" ry="0.8" fill="#232323" transform="rotate(10 342 470)"/><ellipse cx="330" cy="500" rx="2.5" ry="0.9" fill="#232323" transform="rotate(40 330 500)"/><ellipse cx="298" cy="505" rx="3" ry="1" fill="#232323" transform="rotate(20 298 505)"/><ellipse cx="300" cy="520" rx="3" ry="1.2" fill="#232323" transform="rotate(70 300 520)"/><ellipse cx="506" cy="447" rx="3" ry="1.2" fill="#232323" transform="rotate(60 506 447)"/><ellipse cx="497" cy="452" rx="2.5" ry="1" fill="#232323" transform="rotate(80 497 452)"/><g clip-path="url(#mo)"><rect x="5.4" y="313.4" width="535.4" height="214.4" fill="#2d3b56"/><polyline points="0.0,384.0 10.0,380.5 20.0,377.0 34.0,372.0 48.0,370.0 60.0,371.0 74.0,375.0 88.0,377.5 100.0,377.0 110.0,378.0 118.0,373.0 124.0,363.0 125.0,353.0 127.0,343.0 134.0,333.0 143.0,325.0 150.0,319.0 157.0,311.0" fill="none" stroke="#212b43" stroke-width="5" stroke-linejoin="round" stroke-linecap="round"/><polyline points="3.0,392.0 14.0,387.0 26.0,381.0 34.0,376.0" fill="none" stroke="#212b43" stroke-width="3" /><ellipse cx="150" cy="352" rx="2.6" ry="7" fill="#212b43" transform="rotate(-12 150 355)"/><polyline points="66.0,483.0 76.0,488.0 89.0,491.0 101.0,489.0 112.0,481.0 122.0,483.0 140.0,482.0 150.0,484.0" fill="none" stroke="#222c44" stroke-width="0.7"/><polyline points="101.0,489.0 97.0,497.0 92.0,503.0" fill="none" stroke="#222c44" stroke-width="0.7"/><polyline points="333.8,313.0 328.7,322.7 321.0,333.0 314.7,343.0 313.4,350.7 317.3,361.0 322.3,371.0 327.4,381.2 331.2,391.4 332.5,401.6 331.6,411.8 332.5,422.6 330.0,432.8 323.6,443.0 314.7,453.2 305.8,463.3 298.2,473.5 291.8,483.7 286.7,493.9 281.6,504.0 277.8,516.8 276.5,528.2" fill="none" stroke="#2f4673" stroke-width="7.6" stroke-linejoin="round"/><line x1="149.5" y1="512.2" x2="163.0" y2="512.8" stroke="#3a4966" stroke-width="0.4"/><line x1="113.7" y1="409.2" x2="119.3" y2="405.4" stroke="#3a4966" stroke-width="0.4"/><line x1="62.4" y1="326.1" x2="62.0" y2="338.1" stroke="#3a4966" stroke-width="0.4"/><line x1="176.8" y1="518.7" x2="188.0" y2="519.2" stroke="#3a4966" stroke-width="0.4"/><line x1="48.2" y1="493.8" x2="47.9" y2="506.0" stroke="#3a4966" stroke-width="0.4"/><line x1="318.0" y1="322.9" x2="327.0" y2="316.7" stroke="#3a4966" stroke-width="0.4"/><line x1="231.5" y1="390.0" x2="231.2" y2="399.6" stroke="#3a4966" stroke-width="0.4"/><line x1="95.8" y1="358.0" x2="105.3" y2="363.2" stroke="#3a4966" stroke-width="0.4"/><line x1="250.4" y1="480.1" x2="250.1" y2="488.5" stroke="#3a4966" stroke-width="0.4"/><line x1="266.1" y1="454.6" x2="281.0" y2="455.3" stroke="#3a4966" stroke-width="0.4"/><line x1="204.0" y1="399.8" x2="203.8" y2="405.5" stroke="#3a4966" stroke-width="0.4"/><line x1="163.4" y1="323.9" x2="169.4" y2="324.2" stroke="#3a4966" stroke-width="0.4"/><line x1="246.9" y1="374.8" x2="260.1" y2="382.0" stroke="#3a4966" stroke-width="0.4"/><line x1="159.3" y1="414.3" x2="169.6" y2="414.8" stroke="#3a4966" stroke-width="0.4"/><line x1="261.7" y1="394.7" x2="261.6" y2="398.8" stroke="#3a4966" stroke-width="0.4"/><line x1="265.8" y1="320.6" x2="276.5" y2="326.5" stroke="#3a4966" stroke-width="0.4"/><line x1="170.8" y1="420.7" x2="179.5" y2="414.8" stroke="#3a4966" stroke-width="0.4"/><line x1="150.6" y1="480.6" x2="161.5" y2="481.2" stroke="#3a4966" stroke-width="0.4"/><line x1="178.1" y1="482.9" x2="186.5" y2="483.3" stroke="#3a4966" stroke-width="0.4"/><line x1="223.4" y1="425.1" x2="230.8" y2="425.5" stroke="#3a4966" stroke-width="0.4"/><line x1="16.7" y1="477.7" x2="26.0" y2="471.3" stroke="#3a4966" stroke-width="0.4"/><line x1="105.3" y1="510.2" x2="105.0" y2="517.5" stroke="#3a4966" stroke-width="0.4"/><line x1="30.8" y1="473.5" x2="41.4" y2="479.2" stroke="#3a4966" stroke-width="0.4"/><line x1="292.4" y1="459.7" x2="292.0" y2="473.8" stroke="#3a4966" stroke-width="0.4"/><line x1="161.1" y1="335.2" x2="165.9" y2="337.8" stroke="#3a4966" stroke-width="0.4"/><line x1="317.0" y1="429.7" x2="325.7" y2="430.1" stroke="#3a4966" stroke-width="0.4"/><line x1="220.8" y1="395.0" x2="220.4" y2="408.0" stroke="#3a4966" stroke-width="0.4"/><line x1="296.5" y1="444.2" x2="305.2" y2="444.7" stroke="#3a4966" stroke-width="0.4"/><line x1="275.3" y1="501.9" x2="286.0" y2="507.7" stroke="#3a4966" stroke-width="0.4"/><line x1="86.9" y1="336.9" x2="93.5" y2="340.5" stroke="#3a4966" stroke-width="0.4"/><line x1="260.7" y1="332.3" x2="276.1" y2="333.1" stroke="#3a4966" stroke-width="0.4"/><line x1="208.6" y1="476.2" x2="215.3" y2="476.5" stroke="#3a4966" stroke-width="0.4"/><line x1="188.7" y1="446.9" x2="198.3" y2="440.3" stroke="#3a4966" stroke-width="0.4"/><line x1="140.1" y1="404.9" x2="139.8" y2="415.2" stroke="#3a4966" stroke-width="0.4"/><line x1="103.8" y1="374.7" x2="113.7" y2="380.1" stroke="#3a4966" stroke-width="0.4"/><line x1="67.4" y1="322.4" x2="67.2" y2="327.8" stroke="#3a4966" stroke-width="0.4"/><line x1="145.5" y1="384.1" x2="150.1" y2="386.7" stroke="#3a4966" stroke-width="0.4"/><line x1="239.1" y1="328.8" x2="248.9" y2="329.3" stroke="#3a4966" stroke-width="0.4"/><line x1="108.9" y1="493.7" x2="108.6" y2="505.5" stroke="#3a4966" stroke-width="0.4"/><line x1="291.2" y1="444.6" x2="304.8" y2="445.3" stroke="#3a4966" stroke-width="0.4"/><line x1="8.5" y1="456.5" x2="13.2" y2="459.1" stroke="#3a4966" stroke-width="0.4"/><line x1="56.2" y1="444.7" x2="60.5" y2="441.7" stroke="#3a4966" stroke-width="0.4"/><line x1="241.4" y1="486.6" x2="255.0" y2="487.3" stroke="#3a4966" stroke-width="0.4"/><line x1="123.8" y1="486.2" x2="129.4" y2="489.2" stroke="#3a4966" stroke-width="0.4"/><line x1="126.7" y1="411.9" x2="138.8" y2="412.5" stroke="#3a4966" stroke-width="0.4"/><line x1="85.9" y1="512.8" x2="95.5" y2="513.2" stroke="#3a4966" stroke-width="0.4"/><line x1="45.3" y1="440.8" x2="53.7" y2="441.2" stroke="#3a4966" stroke-width="0.4"/><line x1="165.1" y1="517.2" x2="180.4" y2="518.0" stroke="#3a4966" stroke-width="0.4"/><line x1="163.5" y1="512.0" x2="176.1" y2="512.6" stroke="#3a4966" stroke-width="0.4"/><line x1="45.0" y1="416.1" x2="44.8" y2="424.4" stroke="#3a4966" stroke-width="0.4"/><line x1="299.1" y1="395.9" x2="305.3" y2="391.6" stroke="#3a4966" stroke-width="0.4"/><line x1="211.7" y1="476.1" x2="216.7" y2="476.4" stroke="#3a4966" stroke-width="0.4"/><line x1="101.8" y1="386.4" x2="113.5" y2="378.4" stroke="#3a4966" stroke-width="0.4"/><line x1="24.0" y1="403.9" x2="30.8" y2="404.3" stroke="#3a4966" stroke-width="0.4"/><line x1="54.2" y1="518.2" x2="63.0" y2="512.2" stroke="#3a4966" stroke-width="0.4"/><line x1="320.1" y1="429.1" x2="319.9" y2="437.8" stroke="#3a4966" stroke-width="0.4"/><line x1="37.1" y1="390.4" x2="50.8" y2="391.0" stroke="#3a4966" stroke-width="0.4"/><line x1="267.3" y1="345.4" x2="281.0" y2="346.1" stroke="#3a4966" stroke-width="0.4"/><line x1="87.5" y1="411.8" x2="96.1" y2="412.2" stroke="#3a4966" stroke-width="0.4"/><line x1="24.8" y1="361.7" x2="37.8" y2="352.8" stroke="#3a4966" stroke-width="0.4"/><line x1="11.9" y1="424.5" x2="24.6" y2="415.8" stroke="#3a4966" stroke-width="0.4"/><line x1="169.0" y1="327.1" x2="176.2" y2="322.2" stroke="#3a4966" stroke-width="0.4"/><line x1="280.7" y1="512.4" x2="292.6" y2="513.0" stroke="#3a4966" stroke-width="0.4"/><line x1="76.3" y1="404.1" x2="86.8" y2="397.0" stroke="#3a4966" stroke-width="0.4"/><line x1="298.2" y1="395.1" x2="297.7" y2="411.1" stroke="#3a4966" stroke-width="0.4"/><line x1="290.7" y1="347.0" x2="301.7" y2="339.4" stroke="#3a4966" stroke-width="0.4"/><line x1="272.4" y1="332.0" x2="279.4" y2="327.3" stroke="#3a4966" stroke-width="0.4"/><line x1="141.6" y1="372.6" x2="150.0" y2="377.2" stroke="#3a4966" stroke-width="0.4"/><line x1="8.8" y1="448.4" x2="19.7" y2="440.9" stroke="#3a4966" stroke-width="0.4"/><line x1="32.4" y1="459.7" x2="36.0" y2="457.2" stroke="#3a4966" stroke-width="0.4"/><line x1="288.6" y1="357.1" x2="292.1" y2="354.7" stroke="#3a4966" stroke-width="0.4"/><line x1="312.6" y1="441.2" x2="312.4" y2="446.8" stroke="#3a4966" stroke-width="0.4"/><line x1="32.5" y1="392.2" x2="43.9" y2="392.8" stroke="#3a4966" stroke-width="0.4"/><line x1="66.6" y1="405.7" x2="72.9" y2="409.1" stroke="#3a4966" stroke-width="0.4"/><line x1="113.9" y1="360.9" x2="121.4" y2="361.2" stroke="#3a4966" stroke-width="0.4"/><line x1="97.9" y1="338.1" x2="105.6" y2="342.3" stroke="#3a4966" stroke-width="0.4"/><line x1="124.9" y1="415.8" x2="124.6" y2="426.8" stroke="#3a4966" stroke-width="0.4"/><line x1="313.9" y1="345.4" x2="318.1" y2="345.6" stroke="#3a4966" stroke-width="0.4"/><line x1="239.9" y1="343.9" x2="249.6" y2="344.4" stroke="#3a4966" stroke-width="0.4"/><line x1="10.6" y1="477.2" x2="10.3" y2="486.2" stroke="#3a4966" stroke-width="0.4"/><line x1="259.3" y1="327.7" x2="269.3" y2="328.2" stroke="#3a4966" stroke-width="0.4"/><line x1="227.4" y1="500.8" x2="239.1" y2="507.2" stroke="#3a4966" stroke-width="0.4"/><line x1="147.3" y1="337.4" x2="152.2" y2="340.1" stroke="#3a4966" stroke-width="0.4"/><line x1="188.3" y1="373.6" x2="197.4" y2="367.4" stroke="#3a4966" stroke-width="0.4"/><line x1="321.2" y1="379.1" x2="327.2" y2="379.4" stroke="#3a4966" stroke-width="0.4"/><line x1="212.4" y1="327.5" x2="217.8" y2="323.8" stroke="#3a4966" stroke-width="0.4"/><line x1="39.2" y1="423.3" x2="51.3" y2="429.9" stroke="#3a4966" stroke-width="0.4"/><line x1="271.0" y1="344.8" x2="277.8" y2="340.2" stroke="#3a4966" stroke-width="0.4"/><line x1="9.2" y1="434.0" x2="20.0" y2="434.6" stroke="#3a4966" stroke-width="0.4"/><line x1="27.0" y1="334.4" x2="26.7" y2="342.5" stroke="#3a4966" stroke-width="0.4"/></g><polyline points="333.8,422.0 326.0,432.0 318.0,446.0 305.0,460.0 295.0,474.0 288.0,488.0 282.0,502.0 278.0,528.0" fill="none" stroke="#2f9a4a" stroke-width="0.55" stroke-linejoin="round" opacity="0.8"/><polyline points="260.0,394.0 275.0,396.0 282.9,399.0 298.2,396.5 310.0,402.0" fill="none" stroke="#2f9a4a" stroke-width="0.55" stroke-linejoin="round" opacity="0.8"/><polyline points="275.3,361.0 272.0,372.0 267.6,381.2" fill="none" stroke="#2f9a4a" stroke-width="0.55" stroke-linejoin="round" opacity="0.8"/><polyline points="5.0,345.5 14.0,351.0 22.0,354.0 32.0,356.0 37.0,360.0 40.0,367.0 43.0,375.0 47.0,381.0 58.0,384.0 76.0,386.0 88.0,388.0 96.0,390.0 107.0,397.8 112.0,402.9 127.0,406.5 145.0,411.0 172.0,411.8" fill="none" stroke="#2d9c48" stroke-width="1.05" stroke-linejoin="round"/><polyline points="25.0,328.0 27.0,335.0 25.0,343.0 21.0,351.0 16.0,359.0 10.0,367.0 5.0,374.0" fill="none" stroke="#2d9c48" stroke-width="1.05" stroke-linejoin="round"/><polyline points="31.0,329.0 37.0,331.0 42.0,336.0 48.0,340.0 56.0,338.0 62.0,335.0 72.0,332.0 84.0,329.0 96.0,326.0 110.0,323.5 117.0,322.7 124.7,330.4 132.3,340.5 140.0,350.7 142.7,355.8" fill="none" stroke="#2d9c48" stroke-width="1.05" stroke-linejoin="round"/><polyline points="61.0,313.4 60.0,323.0 62.0,335.0 48.0,345.0 40.0,350.0 32.0,356.0" fill="none" stroke="#2d9c48" stroke-width="1.05" stroke-linejoin="round"/><polyline points="92.0,313.4 91.0,321.0 88.0,328.0" fill="none" stroke="#2d9c48" stroke-width="1.05" stroke-linejoin="round"/><polyline points="117.0,313.4 118.3,322.7" fill="none" stroke="#2d9c48" stroke-width="1.05" stroke-linejoin="round"/><polyline points="40.7,409.2 44.5,414.3 45.8,420.0" fill="none" stroke="#2d9c48" stroke-width="1.05" stroke-linejoin="round"/><polyline points="112.0,402.9 101.8,411.8 96.7,420.0" fill="none" stroke="#2d9c48" stroke-width="1.05" stroke-linejoin="round"/><polyline points="140.0,378.7 129.8,383.8 119.6,394.0 112.0,402.9" fill="none" stroke="#2d9c48" stroke-width="1.05" stroke-linejoin="round"/><polyline points="168.2,313.4 173.3,325.3 177.0,335.4 175.8,350.7 173.3,366.0 172.0,386.3 172.0,406.7 170.7,420.0 172.0,440.4 173.3,453.2 178.3,471.0 188.5,483.7 201.2,496.4 214.0,506.6 215.2,528.0" fill="none" stroke="#2d9c48" stroke-width="1.05" stroke-linejoin="round"/><polyline points="184.7,322.7 197.4,333.0 196.7,361.0 197.4,386.3 198.2,420.0 197.4,440.4 196.7,465.9" fill="none" stroke="#2d9c48" stroke-width="1.05" stroke-linejoin="round"/><polyline points="240.7,313.4 242.0,335.4 240.7,350.7 234.3,363.4 228.0,376.2 225.4,386.3 231.8,401.6 238.1,404.7 239.4,420.0 240.7,430.3 239.4,453.2 236.9,465.9 234.3,481.2 231.8,496.4 224.0,504.0 214.0,506.6" fill="none" stroke="#2d9c48" stroke-width="1.05" stroke-linejoin="round"/><polyline points="252.0,313.4 254.7,327.8 257.2,343.0 259.8,361.0 257.2,386.3 254.7,406.7 257.2,420.0 257.2,437.9 262.3,453.2 264.9,465.9 267.4,481.2 270.0,491.3" fill="none" stroke="#2d9c48" stroke-width="1.05" stroke-linejoin="round"/><polyline points="130.0,378.7 145.3,377.4 158.0,367.3 173.3,364.7 196.2,367.3 214.0,369.8 228.0,372.3 242.0,374.9 254.7,376.2 270.0,380.0 275.3,386.3" fill="none" stroke="#2d9c48" stroke-width="1.05" stroke-linejoin="round"/><polyline points="170.7,385.0 197.4,383.8 225.4,385.0 257.2,386.3 270.0,387.6 290.5,391.4 303.3,399.0 316.0,406.7 326.2,411.8" fill="none" stroke="#2d9c48" stroke-width="1.05" stroke-linejoin="round"/><polyline points="172.0,411.8 197.4,412.6 214.0,413.8 231.8,415.6" fill="none" stroke="#2d9c48" stroke-width="1.05" stroke-linejoin="round"/><polyline points="231.8,401.6 238.1,404.7 257.2,403.6 272.7,406.7 285.4,405.4 298.2,408.0 310.9,410.5 323.6,413.0" fill="none" stroke="#2d9c48" stroke-width="1.05" stroke-linejoin="round"/><polyline points="130.0,335.4 137.6,343.0 142.7,355.8 141.5,371.0 145.3,378.7 140.2,394.0 135.0,411.8 132.5,420.0 134.9,430.3 136.0,445.5 140.0,455.7 141.5,465.9 145.3,476.0" fill="none" stroke="#2d9c48" stroke-width="1.05" stroke-linejoin="round"/><polyline points="168.0,313.4 167.0,319.0 164.0,327.0 158.0,334.0 150.0,339.0 143.0,343.0 141.0,351.0 140.0,358.0 150.0,359.0 160.0,366.0" fill="none" stroke="#2d9c48" stroke-width="1.05" stroke-linejoin="round"/><polyline points="170.7,385.0 160.0,381.0 146.0,379.0 134.0,379.0 122.0,383.0 110.0,386.0" fill="none" stroke="#2d9c48" stroke-width="1.05" stroke-linejoin="round"/><polyline points="202.0,331.0 206.0,325.0 210.0,319.0 214.0,313.4" fill="none" stroke="#2d9c48" stroke-width="1.05" stroke-linejoin="round"/><polyline points="285.4,313.4 286.7,325.3 293.0,338.0 298.2,345.6" fill="none" stroke="#2d9c48" stroke-width="1.05" stroke-linejoin="round"/><polyline points="296.8,313.4 296.8,322.0 296.0,332.5 296.8,347.0" fill="none" stroke="#2d9c48" stroke-width="1.05" stroke-linejoin="round"/><polyline points="330.6,316.0 328.3,323.5 323.8,331.0 315.6,338.6 306.5,343.0 297.5,346.8 285.4,353.3 270.2,358.3 260.0,361.0" fill="none" stroke="#2d9c48" stroke-width="1.05" stroke-linejoin="round"/><polyline points="305.8,343.0 308.3,361.0 314.7,376.2 322.3,391.4 327.4,406.7" fill="none" stroke="#2d9c48" stroke-width="1.05" stroke-linejoin="round"/><polyline points="290.5,373.6 285.4,386.3 282.9,399.0 281.6,411.8 280.4,420.0" fill="none" stroke="#2d9c48" stroke-width="1.05" stroke-linejoin="round"/><polyline points="303.3,383.8 298.2,396.5 294.4,408.0 293.0,420.0" fill="none" stroke="#2d9c48" stroke-width="1.05" stroke-linejoin="round"/><polyline points="333.8,314.5 345.0,316.8 354.0,315.3 364.6,314.5 375.0,315.3 382.6,319.0 393.2,319.8 413.3,321.6 436.5,321.6 465.6,323.0 494.7,324.0 515.0,322.6 532.5,320.6 541.0,320.0" fill="none" stroke="#2d9c48" stroke-width="1.05" stroke-linejoin="round"/><polyline points="365.3,313.4 365.3,325.0 361.6,332.5 355.6,337.8 348.0,343.0 342.0,352.0 339.0,364.0 336.8,376.0 335.3,385.0 334.5,393.0 333.8,406.7 330.0,411.8" fill="none" stroke="#2d9c48" stroke-width="1.05" stroke-linejoin="round"/><polyline points="436.5,333.3 419.2,339.0 410.0,342.3 400.7,347.6 390.0,355.0 379.6,360.4 367.6,365.0 358.6,369.4 352.6,374.7 351.0,382.2 352.6,389.7 354.0,396.5 361.8,406.7 366.9,414.3" fill="none" stroke="#2d9c48" stroke-width="1.05" stroke-linejoin="round"/><polyline points="382.6,319.0 378.0,326.5 372.0,334.0 366.0,340.8 366.0,352.0 366.0,365.0" fill="none" stroke="#2d9c48" stroke-width="1.05" stroke-linejoin="round"/><polyline points="338.9,383.8 349.0,386.3 361.8,388.9 374.5,394.0 382.0,397.8 390.0,395.8 407.5,396.4 427.8,397.3" fill="none" stroke="#2d9c48" stroke-width="1.05" stroke-linejoin="round"/><polyline points="333.8,397.8 344.0,401.6 351.6,411.8 356.7,420.0" fill="none" stroke="#2d9c48" stroke-width="1.05" stroke-linejoin="round"/><polyline points="399.2,319.8 398.4,328.0 397.7,337.0 397.0,347.6 397.7,355.0 400.0,362.6 399.2,373.2 396.2,382.2 390.0,388.2 384.0,393.0 382.0,397.8 372.0,406.7 364.3,411.8 361.8,420.0" fill="none" stroke="#2d9c48" stroke-width="1.05" stroke-linejoin="round"/><polyline points="413.3,313.4 413.3,321.6 416.2,339.0 419.0,356.5 420.5,374.0 419.0,385.6" fill="none" stroke="#2d9c48" stroke-width="1.05" stroke-linejoin="round"/><polyline points="435.0,313.4 433.6,321.6 436.5,333.3 433.6,347.8 432.2,365.3 429.3,382.7 427.8,397.3 430.7,411.8 432.2,420.0" fill="none" stroke="#2d9c48" stroke-width="1.05" stroke-linejoin="round"/><polyline points="436.5,333.3 448.2,334.7 465.6,335.6 483.0,336.2 490.4,339.0" fill="none" stroke="#2d9c48" stroke-width="1.05" stroke-linejoin="round"/><polyline points="464.2,313.4 465.6,323.0 465.0,335.6 466.2,347.8 462.7,358.0 461.3,368.2" fill="none" stroke="#2d9c48" stroke-width="1.05" stroke-linejoin="round"/><polyline points="494.7,313.4 494.7,324.0 491.8,339.0 490.4,350.7 541.0,351.3" fill="none" stroke="#2d9c48" stroke-width="1.05" stroke-linejoin="round"/><polyline points="490.4,350.7 477.3,355.0 462.7,358.0 448.2,363.8 436.5,374.0 429.3,382.7 407.5,388.5 390.0,392.9" fill="none" stroke="#2d9c48" stroke-width="1.05" stroke-linejoin="round"/><polyline points="462.7,358.0 455.5,374.0 448.2,387.0 445.3,397.3 448.2,408.9 449.6,420.0" fill="none" stroke="#2d9c48" stroke-width="1.05" stroke-linejoin="round"/><polyline points="427.8,397.3 429.0,405.0 423.0,413.0 422.0,415.0" fill="none" stroke="#2d9c48" stroke-width="1.05" stroke-linejoin="round"/><polyline points="45.8,415.0 49.6,425.2 53.4,435.4 58.5,443.0 57.3,451.9 56.0,465.9 61.0,476.0 66.2,483.7 63.6,496.4 62.3,511.7 61.0,528.0" fill="none" stroke="#2d9c48" stroke-width="1.05" stroke-linejoin="round"/><polyline points="5.0,490.0 15.3,478.6 25.4,471.0 30.5,458.3 35.6,451.9 57.3,451.9 73.8,453.2 90.3,446.8 109.4,446.3 125.0,445.4 145.0,443.0 161.0,441.0 172.0,439.0" fill="none" stroke="#2d9c48" stroke-width="1.05" stroke-linejoin="round"/><polyline points="96.7,415.0 91.6,427.7 90.3,446.8" fill="none" stroke="#2d9c48" stroke-width="1.05" stroke-linejoin="round"/><polyline points="5.0,521.9 15.3,516.8 30.5,513.0 51.0,512.5 68.7,513.7 84.0,514.7 92.9,514.7 106.9,510.4 114.5,502.8 122.0,496.4 135.0,490.0 149.0,486.0 165.0,485.0 181.0,483.0 189.0,478.0 197.0,473.0 205.0,465.0 209.0,461.0 215.0,459.0" fill="none" stroke="#2d9c48" stroke-width="1.05" stroke-linejoin="round"/><polyline points="109.4,465.9 140.0,465.9" fill="none" stroke="#2d9c48" stroke-width="1.05" stroke-linejoin="round"/><polyline points="172.0,439.0 185.0,441.0 197.4,440.8 214.0,437.9 231.8,432.8 242.0,430.3 260.0,430.3 275.3,429.0 290.5,427.7 305.8,426.5 318.5,423.9 332.5,422.6" fill="none" stroke="#2d9c48" stroke-width="1.05" stroke-linejoin="round"/><polyline points="130.0,465.9 145.3,465.9 160.5,467.2 178.3,471.0 196.7,465.9 206.3,460.8 221.6,457.0 236.9,453.2 247.0,445.5 257.2,437.9" fill="none" stroke="#2d9c48" stroke-width="1.05" stroke-linejoin="round"/><polyline points="197.0,473.0 206.3,472.3 221.6,468.4 236.9,465.9 252.0,467.2 270.0,473.5" fill="none" stroke="#2d9c48" stroke-width="1.05" stroke-linejoin="round"/><polyline points="145.3,476.0 147.8,491.3 155.4,501.5 168.2,507.9 180.9,505.3 196.2,499.0 214.0,491.3 231.8,483.7 252.0,478.6 260.0,478.6 270.2,471.0 282.9,460.8 295.6,450.6 305.8,440.4 314.7,430.3 321.0,423.9" fill="none" stroke="#2d9c48" stroke-width="1.05" stroke-linejoin="round"/><polyline points="174.0,507.0 165.0,515.0 155.0,522.0 145.0,528.0" fill="none" stroke="#2d9c48" stroke-width="1.05" stroke-linejoin="round"/><polyline points="174.0,507.0 175.0,521.0 175.0,528.0" fill="none" stroke="#2d9c48" stroke-width="1.05" stroke-linejoin="round"/><polyline points="214.0,506.6 231.8,499.0 244.5,496.4 257.2,501.5 270.0,504.0" fill="none" stroke="#2d9c48" stroke-width="1.05" stroke-linejoin="round"/><polyline points="231.8,496.4 239.4,511.7 242.0,528.0" fill="none" stroke="#2d9c48" stroke-width="1.05" stroke-linejoin="round"/><polyline points="257.2,501.5 259.8,516.8 258.5,528.0" fill="none" stroke="#2d9c48" stroke-width="1.05" stroke-linejoin="round"/><polyline points="260.0,528.0 270.2,511.7 280.4,496.4 290.5,481.2 298.2,468.4 308.3,455.7 314.7,445.5 318.5,432.8 321.0,423.9" fill="none" stroke="#2d9c48" stroke-width="1.05" stroke-linejoin="round"/><polyline points="260.0,448.0 275.3,445.5 290.5,440.4 305.8,440.4" fill="none" stroke="#2d9c48" stroke-width="1.05" stroke-linejoin="round"/><polyline points="260.0,463.3 272.7,458.3 285.4,453.2 295.6,450.6" fill="none" stroke="#2d9c48" stroke-width="1.05" stroke-linejoin="round"/><polyline points="265.0,415.0 266.4,440.4 265.0,465.9 262.5,491.3 260.0,516.8" fill="none" stroke="#2d9c48" stroke-width="1.05" stroke-linejoin="round"/><polyline points="282.9,415.0 284.2,440.4 282.9,460.8 280.4,496.4" fill="none" stroke="#2d9c48" stroke-width="1.05" stroke-linejoin="round"/><polyline points="298.2,415.0 298.2,440.4 295.6,450.6" fill="none" stroke="#2d9c48" stroke-width="1.05" stroke-linejoin="round"/><polyline points="260.0,488.8 272.7,483.7 285.4,476.0 298.2,468.4" fill="none" stroke="#2d9c48" stroke-width="1.05" stroke-linejoin="round"/><polyline points="270.2,511.7 265.0,521.9 262.5,528.0" fill="none" stroke="#2d9c48" stroke-width="1.05" stroke-linejoin="round"/><polyline points="333.8,421.4 344.0,420.0 356.7,417.5 366.9,415.0 372.0,406.7" fill="none" stroke="#2d9c48" stroke-width="1.05" stroke-linejoin="round"/><polyline points="344.0,420.0 356.7,425.2 374.5,426.5 390.0,425.2 401.6,426.6 411.8,429.0 424.9,436.8 442.4,441.2 459.8,441.8 471.5,445.5 480.2,457.2 488.9,460.0 512.2,461.0 529.6,465.9 541.0,469.7" fill="none" stroke="#2d9c48" stroke-width="1.05" stroke-linejoin="round"/><polyline points="338.9,427.7 336.3,440.4 331.2,453.2 326.2,465.9 323.6,481.2 321.0,496.4 317.3,511.7 310.9,528.0" fill="none" stroke="#2d9c48" stroke-width="1.05" stroke-linejoin="round"/><polyline points="354.0,430.3 364.3,443.0 374.5,455.7 384.7,465.9 394.9,476.0 401.6,481.9 416.2,496.5 430.7,511.0 442.4,521.2 448.2,528.0" fill="none" stroke="#2d9c48" stroke-width="1.05" stroke-linejoin="round"/><polyline points="397.0,427.0 391.0,435.0 383.0,445.0 373.0,453.0 361.0,463.0 349.0,476.0 336.3,486.2 323.6,493.9 321.0,496.4" fill="none" stroke="#2d9c48" stroke-width="1.05" stroke-linejoin="round"/><polyline points="448.2,415.0 449.0,528.0" fill="none" stroke="#2d9c48" stroke-width="1.05" stroke-linejoin="round"/><polyline points="422.0,415.0 411.8,429.0 407.5,441.2 403.0,448.5" fill="none" stroke="#2d9c48" stroke-width="1.05" stroke-linejoin="round"/><polyline points="407.5,441.2 416.2,458.6 427.8,474.6 440.9,486.3 448.2,491.2 456.9,492.0 465.6,502.3 491.8,502.3 519.5,501.4 520.0,497.3 541.0,497.3" fill="none" stroke="#2d9c48" stroke-width="1.05" stroke-linejoin="round"/><polyline points="512.2,461.0 509.3,479.0 508.7,501.4" fill="none" stroke="#2d9c48" stroke-width="1.05" stroke-linejoin="round"/><polyline points="541.0,444.0 526.7,448.5 515.0,455.7 512.2,461.0" fill="none" stroke="#2d9c48" stroke-width="1.05" stroke-linejoin="round"/><polyline points="215.0,417.0 235.0,416.6 255.0,416.0 275.0,415.4 295.0,415.0 311.0,418.0" fill="none" stroke="#2d9c48" stroke-width="1.05" stroke-linejoin="round"/><polyline points="268.0,415.0 269.0,427.0 266.0,443.0 263.0,459.0" fill="none" stroke="#2d9c48" stroke-width="1.05" stroke-linejoin="round"/><polyline points="235.0,461.0 255.0,453.0 267.0,447.0 277.0,448.0 287.0,450.0 295.6,450.6" fill="none" stroke="#2d9c48" stroke-width="1.05" stroke-linejoin="round"/><polyline points="176.0,313.4 178.0,319.0 182.0,322.0 194.0,321.0 206.0,319.5 216.0,318.0 225.0,318.3 232.5,322.0 240.0,325.0 247.6,326.5 256.6,326.5 273.0,326.2 288.0,326.5 296.8,325.8 310.9,323.5 323.6,320.5 330.6,316.0 333.8,314.5" fill="none" stroke="#2d9c48" stroke-width="1.05" stroke-linejoin="round"/><polyline points="150.0,313.4 160.0,318.0 168.0,322.0 176.0,325.0 190.0,328.0 202.0,331.0 214.0,334.0 225.0,335.6 232.5,340.0 240.0,345.3 242.3,349.0 249.0,348.3 257.3,348.3 262.6,352.0 270.0,356.6 277.6,362.6 285.0,370.0 291.0,374.6 300.0,377.0 308.0,377.0 314.0,380.7 317.0,388.0 319.0,396.0 324.0,404.0 328.7,411.8" fill="none" stroke="#2d9c48" stroke-width="1.05" stroke-linejoin="round"/><polyline points="272.4,313.4 273.0,326.2 273.9,335.6 274.6,346.0 270.0,356.6 264.8,364.0 262.6,373.0 264.8,383.7 265.6,393.0 263.8,406.7 262.5,420.0" fill="none" stroke="#2d9c48" stroke-width="1.05" stroke-linejoin="round"/><polyline points="225.0,350.0 234.0,355.0 244.5,364.0 253.6,371.6 262.6,379.0 270.0,385.0" fill="none" stroke="#2d9c48" stroke-width="1.05" stroke-linejoin="round"/><polyline points="240.8,356.6 249.0,358.0 257.3,364.0 264.0,373.0" fill="none" stroke="#2d9c48" stroke-width="1.05" stroke-linejoin="round"/><polyline points="84.0,514.7 92.9,514.7 106.9,510.4" fill="none" stroke="#e0662e" stroke-width="0.9"/><polyline points="320.0,386.0 331.0,386.5" fill="none" stroke="#e0662e" stroke-width="0.9"/><polyline points="398.0,395.8 407.5,396.4" fill="none" stroke="#e0662e" stroke-width="0.9"/><polyline points="416.2,469.0 419.0,473.0" fill="none" stroke="#e0662e" stroke-width="0.9"/><polyline points="151.0,465.9 158.0,467.0" fill="none" stroke="#e0662e" stroke-width="0.9"/><text x="52.5" y="352.4" font-size="3.1" fill="#9aa5b8" text-anchor="middle">Weldon Spring</text><text x="103.5" y="394.7" font-size="3.1" fill="#9aa5b8" text-anchor="middle">Chesterfield</text><text x="187.8" y="322.5" font-size="3.0" fill="#9aa5b8" text-anchor="middle">Bridgeton</text><text x="217.5" y="330.3" font-size="2.7" fill="#9aa5b8" text-anchor="middle">St. Louis Lambert</text><text x="217.5" y="333.4" font-size="2.7" fill="#9aa5b8" text-anchor="middle">International</text><text x="184.0" y="353.0" font-size="3.0" fill="#9aa5b8" text-anchor="middle">Maryland</text><text x="184.0" y="356.6" font-size="3.0" fill="#9aa5b8" text-anchor="middle">Heights</text><text x="220.5" y="352.0" font-size="3.0" fill="#9aa5b8" text-anchor="middle">Breckenridge</text><text x="220.5" y="355.5" font-size="3.0" fill="#9aa5b8" text-anchor="middle">Hills</text><text x="223.0" y="364.3" font-size="3.0" fill="#9aa5b8" text-anchor="middle">Overland</text><text x="175.8" y="394.5" font-size="3.1" fill="#9aa5b8" text-anchor="middle">Creve Coeur</text><text x="212.7" y="404.0" font-size="3.0" fill="#9aa5b8" text-anchor="middle">Ladue</text><text x="239.4" y="402.6" font-size="3.0" fill="#9aa5b8" text-anchor="middle">Clayton</text><text x="242.5" y="323.5" font-size="3.0" fill="#9aa5b8" text-anchor="middle">Berkeley</text><text x="258.5" y="331.0" font-size="3.0" fill="#9aa5b8" text-anchor="middle">Ferguson</text><text x="305.0" y="332.5" font-size="2.9" fill="#a8a8a8" text-anchor="middle">Bellefontaine</text><text x="305.0" y="336.0" font-size="2.9" fill="#a8a8a8" text-anchor="middle">Neighbors</text><text x="284.0" y="350.3" font-size="3.0" fill="#9aa5b8" text-anchor="middle">Jennings</text><text x="350.3" y="364.3" font-size="3.2" fill="#a8a8a8" text-anchor="middle">Granite City</text><text x="337.6" y="386.7" font-size="2.8" fill="#a8a8a8" text-anchor="middle">Madison</text><text x="340.2" y="398.2" font-size="2.9" fill="#a8a8a8" text-anchor="middle">Brooklyn</text><text x="391.5" y="341.3" font-size="3.0" fill="#a8a8a8" text-anchor="middle">Pontoon Beach</text><text x="363.5" y="341.3" font-size="2.9" fill="#a8a8a8" text-anchor="middle">Nameoki</text><text x="384.0" y="412.4" font-size="2.9" fill="#a8a8a8" text-anchor="middle">Washington</text><text x="384.0" y="415.9" font-size="2.9" fill="#a8a8a8" text-anchor="middle">Park</text><text x="449.7" y="328.4" font-size="3.1" fill="#a8a8a8" text-anchor="middle">Glen Carbon</text><text x="465.6" y="347.3" font-size="3.1" fill="#a8a8a8" text-anchor="middle">Maryville</text><text x="509.0" y="343.0" font-size="3.1" fill="#a8a8a8" text-anchor="middle">Troy</text><text x="448.7" y="388.6" font-size="3.2" fill="#a8a8a8" text-anchor="middle">Collinsville</text><text x="424.0" y="414.2" font-size="3.0" fill="#a8a8a8" text-anchor="middle">Caseyville</text><text x="410.0" y="397.4" font-size="2.7" fill="#a8a8a8" text-anchor="middle">Fairmont City</text><text x="64.9" y="457.1" font-size="3.1" fill="#9aa5b8" text-anchor="middle">Wildwood</text><text x="114.2" y="447.2" font-size="3.1" fill="#9aa5b8" text-anchor="middle">Ballwin</text><text x="134.2" y="443.8" font-size="3.0" fill="#9aa5b8" text-anchor="middle">Manchester</text><text x="64.9" y="517.0" font-size="3.0" fill="#9aa5b8" text-anchor="middle">Eureka</text><text x="42.0" y="499.8" font-size="2.5" fill="#9aa5b8" text-anchor="middle">Tyson Wilder</text><text x="163.7" y="431.0" font-size="3.0" fill="#9aa5b8" text-anchor="middle">Town and</text><text x="163.7" y="434.6" font-size="3.0" fill="#9aa5b8" text-anchor="middle">Country</text><text x="181.8" y="441.3" font-size="3.1" fill="#9aa5b8" text-anchor="middle">Des Peres</text><text x="196.5" y="454.0" font-size="2.6" fill="#9aa5b8" text-anchor="middle">Kirkwood</text><text x="227.2" y="447.7" font-size="3.1" fill="#9aa5b8" text-anchor="middle">Webster Groves</text><text x="196.2" y="488.4" font-size="3.1" fill="#9aa5b8" text-anchor="middle">Sunset Hills</text><text x="240.0" y="488.9" font-size="3.0" fill="#9aa5b8" text-anchor="middle">Lakeshire</text><text x="219.0" y="495.5" font-size="3.0" fill="#9aa5b8" text-anchor="middle">Sappington</text><text x="177.7" y="508.8" font-size="3.0" fill="#9aa5b8" text-anchor="middle">Fenton</text><text x="247.7" y="432.4" font-size="3.0" fill="#9aa5b8" text-anchor="middle">Brentwood</text><text x="248.8" y="422.3" font-size="3.0" fill="#9aa5b8" text-anchor="middle">Maplewood</text><text x="240.0" y="500.3" font-size="2.9" fill="#9aa5b8" text-anchor="middle">South Park</text><text x="352.5" y="431.7" font-size="3.3" fill="#a8a8a8" text-anchor="middle">East St. Louis</text><text x="365.6" y="454.9" font-size="3.1" fill="#a8a8a8" text-anchor="middle">Centreville</text><text x="328.0" y="463.7" font-size="3.0" fill="#a8a8a8" text-anchor="middle">Cahokia</text><text x="314.2" y="506.2" font-size="3.0" fill="#a8a8a8" text-anchor="middle">Dupo</text><text x="379.0" y="490.2" font-size="2.8" fill="#a8a8a8" text-anchor="middle">Millstadt</text><text x="349.0" y="490.9" font-size="2.5" fill="#a8a8a8" text-anchor="middle">Sauget</text><text x="445.3" y="448.0" font-size="3.1" fill="#a8a8a8" text-anchor="middle">Fairview</text><text x="445.3" y="451.8" font-size="3.1" fill="#a8a8a8" text-anchor="middle">Heights</text><text x="492.1" y="447.3" font-size="3.1" fill="#a8a8a8" text-anchor="middle">O'Fallon</text><text x="500.1" y="470.6" font-size="3.0" fill="#a8a8a8" text-anchor="middle">Shiloh</text><text x="530.0" y="487.2" font-size="2.7" fill="#a8a8a8" text-anchor="middle">Scott Air Force Base</text><text x="446.0" y="492.1" font-size="3.0" fill="#a8a8a8" text-anchor="middle">Swansea</text><text x="418.3" y="484.3" font-size="2.5" fill="#a8a8a8" text-anchor="middle">Smithton</text><text x="449" y="502.6" font-size="4" fill="#dcdcdc" text-anchor="middle" font-weight="bold">Belleville</text><path d="M22.8 328.0 l0.5 -1.9 l1.5 -1.3 l1.9 0.5 l0.5 1.5 l-0.6 1.2 z" fill="#f4f4f4"/><path d="M32.5 361.1 l0.5 -1.9 l1.5 -1.3 l1.9 0.5 l0.5 1.5 l-0.6 1.2 z" fill="#f4f4f4"/><path d="M68.1 392.9 l0.5 -1.9 l1.5 -1.3 l1.9 0.5 l0.5 1.5 l-0.6 1.2 z" fill="#f4f4f4"/><path d="M109.6 404.4 l0.5 -1.9 l1.5 -1.3 l1.9 0.5 l0.5 1.5 l-0.6 1.2 z" fill="#f4f4f4"/><path d="M115.9 329.8 l0.5 -1.9 l1.5 -1.3 l1.9 0.5 l0.5 1.5 l-0.6 1.2 z" fill="#f4f4f4"/><path d="M175.1 329.3 l0.5 -1.9 l1.5 -1.3 l1.9 0.5 l0.5 1.5 l-0.6 1.2 z" fill="#f4f4f4"/><path d="M200.1 325.5 l0.5 -1.9 l1.5 -1.3 l1.9 0.5 l0.5 1.5 l-0.6 1.2 z" fill="#f4f4f4"/><path d="M232.4 327.3 l0.5 -1.9 l1.5 -1.3 l1.9 0.5 l0.5 1.5 l-0.6 1.2 z" fill="#f4f4f4"/><path d="M243.9 350.2 l0.5 -1.9 l1.5 -1.3 l1.9 0.5 l0.5 1.5 l-0.6 1.2 z" fill="#f4f4f4"/><path d="M170.6 378.2 l0.5 -1.9 l1.5 -1.3 l1.9 0.5 l0.5 1.5 l-0.6 1.2 z" fill="#f4f4f4"/><path d="M200.1 380.7 l0.5 -1.9 l1.5 -1.3 l1.9 0.5 l0.5 1.5 l-0.6 1.2 z" fill="#f4f4f4"/><path d="M229.1 383.5 l0.5 -1.9 l1.5 -1.3 l1.9 0.5 l0.5 1.5 l-0.6 1.2 z" fill="#f4f4f4"/><path d="M153.5 411.2 l0.5 -1.9 l1.5 -1.3 l1.9 0.5 l0.5 1.5 l-0.6 1.2 z" fill="#f4f4f4"/><path d="M171.9 412.8 l0.5 -1.9 l1.5 -1.3 l1.9 0.5 l0.5 1.5 l-0.6 1.2 z" fill="#f4f4f4"/><path d="M176.4 413.8 l0.5 -1.9 l1.5 -1.3 l1.9 0.5 l0.5 1.5 l-0.6 1.2 z" fill="#f4f4f4"/><path d="M234.5 417.9 l0.5 -1.9 l1.5 -1.3 l1.9 0.5 l0.5 1.5 l-0.6 1.2 z" fill="#f4f4f4"/><path d="M242.1 417.1 l0.5 -1.9 l1.5 -1.3 l1.9 0.5 l0.5 1.5 l-0.6 1.2 z" fill="#f4f4f4"/><path d="M305.1 322.2 l0.5 -1.9 l1.5 -1.3 l1.9 0.5 l0.5 1.5 l-0.6 1.2 z" fill="#f4f4f4"/><path d="M298.8 376.4 l0.5 -1.9 l1.5 -1.3 l1.9 0.5 l0.5 1.5 l-0.6 1.2 z" fill="#f4f4f4"/><path d="M293.7 417.1 l0.5 -1.9 l1.5 -1.3 l1.9 0.5 l0.5 1.5 l-0.6 1.2 z" fill="#f4f4f4"/><path d="M77.7 427.5 l0.5 -1.9 l1.5 -1.3 l1.9 0.5 l0.5 1.5 l-0.6 1.2 z" fill="#f4f4f4"/><path d="M97.3 446.3 l0.5 -1.9 l1.5 -1.3 l1.9 0.5 l0.5 1.5 l-0.6 1.2 z" fill="#f4f4f4"/><path d="M52.3 453.4 l0.5 -1.9 l1.5 -1.3 l1.9 0.5 l0.5 1.5 l-0.6 1.2 z" fill="#f4f4f4"/><path d="M33.0 522.9 l0.5 -1.9 l1.5 -1.3 l1.9 0.5 l0.5 1.5 l-0.6 1.2 z" fill="#f4f4f4"/><path d="M172.6 446.5 l0.5 -1.9 l1.5 -1.3 l1.9 0.5 l0.5 1.5 l-0.6 1.2 z" fill="#f4f4f4"/><path d="M236.8 470.5 l0.5 -1.9 l1.5 -1.3 l1.9 0.5 l0.5 1.5 l-0.6 1.2 z" fill="#f4f4f4"/><path d="M192.2 477.5 l0.5 -1.9 l1.5 -1.3 l1.9 0.5 l0.5 1.5 l-0.6 1.2 z" fill="#f4f4f4"/><path d="M149.2 490.3 l0.5 -1.9 l1.5 -1.3 l1.9 0.5 l0.5 1.5 l-0.6 1.2 z" fill="#f4f4f4"/><path d="M210.8 506.3 l0.5 -1.9 l1.5 -1.3 l1.9 0.5 l0.5 1.5 l-0.6 1.2 z" fill="#f4f4f4"/><path d="M240.1 509.9 l0.5 -1.9 l1.5 -1.3 l1.9 0.5 l0.5 1.5 l-0.6 1.2 z" fill="#f4f4f4"/><path d="M172.6 526.5 l0.5 -1.9 l1.5 -1.3 l1.9 0.5 l0.5 1.5 l-0.6 1.2 z" fill="#f4f4f4"/><path d="M258.6 435.5 l0.5 -1.9 l1.5 -1.3 l1.9 0.5 l0.5 1.5 l-0.6 1.2 z" fill="#f4f4f4"/><path d="M233.7 418.5 l0.5 -1.9 l1.5 -1.3 l1.9 0.5 l0.5 1.5 l-0.6 1.2 z" fill="#f4f4f4"/><path d="M242.6 417.8 l0.5 -1.9 l1.5 -1.3 l1.9 0.5 l0.5 1.5 l-0.6 1.2 z" fill="#f4f4f4"/><path d="M266.8 486.5 l0.5 -1.9 l1.5 -1.3 l1.9 0.5 l0.5 1.5 l-0.6 1.2 z" fill="#f4f4f4"/><path d="M303.4 428.0 l0.5 -1.9 l1.5 -1.3 l1.9 0.5 l0.5 1.5 l-0.6 1.2 z" fill="#f4f4f4"/><path d="M319.4 434.1 l0.5 -1.9 l1.5 -1.3 l1.9 0.5 l0.5 1.5 l-0.6 1.2 z" fill="#f4f4f4"/><path d="M259.4 435.5 l0.5 -1.9 l1.5 -1.3 l1.9 0.5 l0.5 1.5 l-0.6 1.2 z" fill="#f4f4f4"/><path d="M290.4 461.8 l0.5 -1.9 l1.5 -1.3 l1.9 0.5 l0.5 1.5 l-0.6 1.2 z" fill="#f4f4f4"/><path d="M267.1 487.2 l0.5 -1.9 l1.5 -1.3 l1.9 0.5 l0.5 1.5 l-0.6 1.2 z" fill="#f4f4f4"/><path d="M303.0 428.1 l0.5 -1.9 l1.5 -1.3 l1.9 0.5 l0.5 1.5 l-0.6 1.2 z" fill="#f4f4f4"/><rect x="193.6" y="314.5" width="4" height="2.2" rx="0.5" fill="#f2c21d"/><rect x="238.2" y="314.0" width="4" height="2.2" rx="0.5" fill="#f2c21d"/><rect x="174.6" y="351.6" width="4" height="2.2" rx="0.5" fill="#f2c21d"/><rect x="231.0" y="417.0" width="4" height="2.2" rx="0.5" fill="#f2c21d"/><rect x="331.8" y="313.9" width="4" height="2.2" rx="0.5" fill="#f2c21d"/><rect x="325.8" y="405.0" width="4" height="2.2" rx="0.5" fill="#f2c21d"/><rect x="229.8" y="418.5" width="4" height="2.2" rx="0.5" fill="#f2c21d"/><rect x="178.4" y="471.7" width="4" height="2.2" rx="0.5" fill="#f2c21d"/><rect x="212.0" y="506.8" width="4" height="2.2" rx="0.5" fill="#f2c21d"/><rect x="262.0" y="485.9" width="4" height="2.2" rx="0.5" fill="#f2c21d"/><circle cx="240.2" cy="325.3" r="1.4" fill="#e8862a"/><circle cx="226.2" cy="518.0" r="1.4" fill="#e8862a"/><circle cx="117.8" cy="323.2" r="2.4" fill="#f3382c"/><circle cx="210.9" cy="315.6" r="3.0" fill="#f3382c"/><circle cx="161.8" cy="334.2" r="2.4" fill="#f3382c"/><circle cx="164.4" cy="339.3" r="2.2" fill="#f3382c"/><circle cx="236.4" cy="368.0" r="2.6" fill="#f3382c"/><circle cx="238.9" cy="404.7" r="2.7" fill="#f3382c"/><circle cx="275.3" cy="313.8" r="2.5" fill="#f3382c"/><circle cx="282.4" cy="313.8" r="2.5" fill="#f3382c"/><circle cx="299.4" cy="313.8" r="2.5" fill="#f3382c"/><circle cx="291.0" cy="374.9" r="2.5" fill="#f3382c"/><circle cx="92.4" cy="515.0" r="2.5" fill="#f3382c"/><circle cx="208.9" cy="455.7" r="2.5" fill="#f3382c"/><circle cx="301.6" cy="412.4" r="2.6" fill="#f3382c"/><circle cx="312.0" cy="422.3" r="2.7" fill="#f3382c"/><circle cx="315.3" cy="419.5" r="2.7" fill="#f3382c"/><circle cx="318.0" cy="418.4" r="2.7" fill="#f3382c"/><circle cx="323.4" cy="418.4" r="2.7" fill="#f3382c"/><circle cx="326.7" cy="416.3" r="2.7" fill="#f3382c"/><circle cx="329.4" cy="414.6" r="2.7" fill="#f3382c"/><circle cx="331.6" cy="413.0" r="2.7" fill="#f3382c"/><circle cx="333.3" cy="420.6" r="2.7" fill="#f3382c"/><circle cx="331.6" cy="427.7" r="2.7" fill="#f3382c"/><circle cx="316.4" cy="433.2" r="2.6" fill="#f3382c"/><circle cx="289.3" cy="416.3" r="2.4" fill="#f3382c"/><circle cx="277.3" cy="428.2" r="2.4" fill="#f3382c"/><circle cx="313.4" cy="447.6" r="2.4" fill="#f3382c"/><circle cx="314.2" cy="450.6" r="2.4" fill="#f3382c"/><circle cx="310.5" cy="420.5" r="2.5" fill="#f3382c"/><text x="20.5" y="327.6" font-size="2.8" fill="#9aa5b8" text-anchor="end">Dardenne at</text><text x="28.3" y="327.8" font-size="3.7" fill="#fff" font-weight="bold">Somewhere</text><text x="53.5" y="328.4" font-size="2.6" fill="#7f93bb" text-anchor="middle">Cottleville</text><circle cx="24.9" cy="328.6" r="1.3" fill="#2b8fd6"/><rect x="6.8" y="315.2" width="33.2" height="7.6" fill="#fff"/><text x="23.2" y="320.2" font-size="3.1" fill="#777" text-anchor="middle" letter-spacing="0.25">RECENTER</text><rect x="532.4" y="315.7" width="6.6" height="19.3" rx="0.8" fill="#fff"/><path d="M532.6 321.6h6.3M532.6 328.1h6.3" stroke="#ddd" stroke-width="0.3"/><path d="M534.6 318.4h2.4M535.8 317.2v2.4M534.6 324.9h2.4" stroke="#333" stroke-width="0.6"/><path d="M535.8 329.6l0.9 1.8l-0.9 1.6l-0.9 -1.6z" fill="#333"/><circle cx="9.4" cy="524.3" r="1.6" fill="none" stroke="#fff" stroke-width="0.8"/><text x="12" y="525.5" font-size="3.6" fill="#fff" font-weight="bold" opacity="0.9">mapbox</text><rect x="482.5" y="524" width="58.3" height="3.9" fill="#cfcfcf" opacity="0.85"/><text x="483.2" y="526.9" font-size="2.2" fill="#555">© Mapbox © OpenStreetMap Improve this map</text></svg></body></html>
